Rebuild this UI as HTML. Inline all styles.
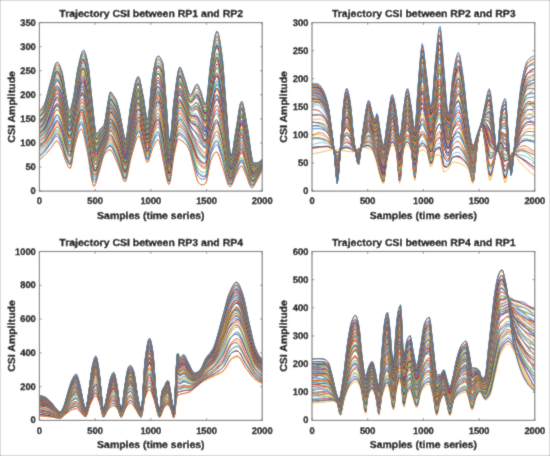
<!DOCTYPE html>
<html><head><meta charset="utf-8"><style>
html,body{margin:0;padding:0;background:#fff;overflow:hidden;}
svg{display:block;}
</style></head><body>
<svg width="550" height="456" viewBox="0 0 550 456" font-family="'Liberation Sans', Arial, sans-serif" font-weight="bold" fill="#000000" text-rendering="geometricPrecision" stroke="#000000" stroke-width="0.3">
<defs><filter id="bl" x="0" y="0" width="550" height="456" filterUnits="userSpaceOnUse"><feConvolveMatrix order="3" kernelMatrix="0.0192 0.1001 0.0192 0.1001 0.5228 0.1001 0.0192 0.1001 0.0192" edgeMode="duplicate"/></filter></defs>
<g filter="url(#bl)">
<rect width="550" height="456" fill="#fff"/>
<g fill="none" stroke-width="9.0" stroke-linejoin="round" transform="scale(0.1)">
<path d="M394 1600l12-9 12-11 12-11 12-11 12-12 12-13 12-14 12-15 12-14 12-15 12-17 12-18 12-17 12-11 12-1 12 12 12 24 12 28 12 29 12 35 12 41 12 35 12 25 11 23 12 17 12 4 12-41 12-75 12-77 12-53 12-42 12-40 12-34 12-24 12-8 12 16 12 40 12 54 12 59 12 55 12 70 12 81 12 82 12 68 12 43 12 4 12-24 12-41 12-46 12-40 12-43 12-45 12-42 12-31 12-17 12-13 12-11 12-7 12-2 12 7 12 18 12 24 12 26 12 26 12 28 12 31 12 31 12 33 12 38 11 34 12 21 12-3 12-35 12-56 12-64 12-58 12-43 12-43 12-44 12-41 12-35 12-24 12-11 12 13 12 40 12 47 12 42 12 50 12 46 12 26 12-9 12-35 12-44 12-36 12-26 12-27 12-24 12-19 12-9 12 13 12 50 12 68 12 64 12 57 12 64 12 63 12 49 12 23 12-21 12-73 12-94 12-85 12-59 12-58 12-46 12-17 11 3 12 6 12 8 12 8 12 10 12 12 12 14 12 20 12 25 12 30 12 45 12 53 12 50 12 48 12 49 12 37 12 18 12 13 12 7 12 1 12-3 12-4 12-9 12-43 12-65 12-67 12-51 12-27 12-24 12-20 12-13 12-4 12 14 12 29 12 36 12 37 12 33 12 39 12 44 12 42 12 38 12 26 12 12 12-7 12-22 12-29 11-32 12-27 12-24 12-25 12-23 12-16 12-5 12 16 12 29 12 32 12 28 12 32 12 34 12 29 12 18 12 0 12-16 12-23 12-23 12-22 12-23 12-25 12-27 12-29" stroke="#EDB120"/>
<path d="M394 1599l12-10 12-10 12-11 12-11 12-12 12-13 12-14 12-15 12-15 12-14 12-17 12-19 12-16 12-11 12-2 12 12 12 24 12 28 12 29 12 35 12 41 12 35 12 25 11 24 12 17 12 3 12-41 12-74 12-78 12-52 12-42 12-41 12-34 12-23 12-9 12 16 12 40 12 54 12 59 12 55 12 69 12 82 12 82 12 68 12 43 12 5 12-24 12-41 12-46 12-40 12-42 12-46 12-41 12-32 12-17 12-13 12-11 12-7 12-2 12 7 12 17 12 24 12 27 12 26 12 28 12 31 12 31 12 32 12 38 11 35 12 21 12-3 12-35 12-57 12-63 12-58 12-43 12-44 12-44 12-41 12-34 12-24 12-11 12 13 12 40 12 47 12 41 12 51 12 46 12 26 12-9 12-36 12-44 12-36 12-26 12-27 12-25 12-18 12-9 12 13 12 50 12 68 12 64 12 57 12 65 12 62 12 49 12 24 12-21 12-73 12-94 12-85 12-59 12-58 12-46 12-18 11 3 12 6 12 8 12 8 12 10 12 12 12 15 12 20 12 24 12 31 12 44 12 53 12 50 12 48 12 49 12 37 12 18 12 13 12 7 12 0 12-2 12-4 12-9 12-43 12-65 12-67 12-51 12-28 12-24 12-20 12-13 12-3 12 13 12 29 12 36 12 37 12 33 12 40 12 44 12 43 12 37 12 27 12 12 12-7 12-21 12-30 11-32 12-27 12-24 12-25 12-24 12-16 12-4 12 16 12 29 12 32 12 27 12 33 12 34 12 29 12 18 12 0 12-16 12-23 12-22 12-22 12-24 12-25 12-27 12-28" stroke="#D95319"/>
<path d="M394 1570l12-10 12-11 12-12 12-13 12-13 12-16 12-17 12-17 12-16 12-16 12-19 12-19 12-17 12-10 12-1 12 14 12 24 12 29 12 30 12 37 12 43 12 36 12 27 11 25 12 17 12 2 12-42 12-74 12-77 12-55 12-45 12-43 12-35 12-25 12-10 12 14 12 37 12 53 12 59 12 55 12 70 12 83 12 85 12 71 12 46 12 12 12-19 12-38 12-44 12-39 12-41 12-44 12-40 12-30 12-20 12-18 12-15 12-11 12-5 12 7 12 18 12 24 12 26 12 27 12 28 12 33 12 33 12 34 12 40 11 36 12 23 12-1 12-36 12-59 12-66 12-61 12-45 12-45 12-46 12-42 12-35 12-24 12-10 12 15 12 41 12 49 12 43 12 53 12 49 12 27 12-9 12-40 12-50 12-41 12-29 12-30 12-27 12-19 12-10 12 12 12 47 12 65 12 62 12 59 12 71 12 69 12 57 12 32 12-18 12-73 12-98 12-88 12-61 12-61 12-48 12-20 11 0 12 7 12 9 12 10 12 12 12 13 12 17 12 21 12 25 12 30 12 41 12 48 12 46 12 43 12 44 12 34 12 18 12 14 12 8 12 2 12 1 12-1 12-9 12-44 12-67 12-71 12-54 12-29 12-28 12-22 12-16 12-5 12 12 12 30 12 37 12 39 12 37 12 46 12 52 12 49 12 45 12 35 12 19 12-4 12-22 12-32 11-34 12-31 12-26 12-29 12-27 12-19 12-5 12 16 12 30 12 35 12 30 12 36 12 37 12 33 12 22 12 3 12-13 12-22 12-21 12-20 12-23 12-24 12-26 12-28" stroke="#0072BD"/>
<path d="M394 1555l12-9 12-10 12-12 12-12 12-14 12-16 12-17 12-18 12-18 12-17 12-20 12-21 12-19 12-11 12-2 12 13 12 24 12 29 12 30 12 39 12 45 12 39 12 28 11 28 12 18 12 2 12-42 12-73 12-77 12-55 12-48 12-44 12-37 12-27 12-14 12 10 12 34 12 50 12 56 12 54 12 68 12 84 12 86 12 74 12 50 12 17 12-13 12-34 12-42 12-37 12-40 12-41 12-39 12-29 12-20 12-18 12-15 12-13 12-6 12 7 12 17 12 23 12 26 12 24 12 28 12 31 12 32 12 34 12 40 11 36 12 25 12-1 12-36 12-60 12-68 12-61 12-44 12-46 12-45 12-42 12-35 12-24 12-10 12 16 12 41 12 48 12 44 12 52 12 50 12 28 12-10 12-43 12-54 12-43 12-30 12-31 12-27 12-19 12-9 12 13 12 48 12 64 12 62 12 61 12 75 12 72 12 60 12 35 12-16 12-74 12-98 12-90 12-62 12-61 12-50 12-22 11-1 12 6 12 8 12 9 12 12 12 13 12 17 12 21 12 25 12 28 12 39 12 45 12 42 12 41 12 42 12 34 12 18 12 16 12 10 12 5 12 3 12 0 12-7 12-45 12-68 12-73 12-55 12-31 12-29 12-24 12-16 12-5 12 13 12 30 12 40 12 41 12 38 12 50 12 54 12 52 12 48 12 38 12 21 12-2 12-23 12-33 11-36 12-31 12-28 12-31 12-28 12-20 12-6 12 16 12 30 12 35 12 31 12 36 12 39 12 34 12 24 12 5 12-12 12-21 12-20 12-20 12-21 12-24 12-25 12-27" stroke="#A2142F"/>
<path d="M394 1552l12-9 12-11 12-12 12-13 12-14 12-17 12-19 12-19 12-19 12-20 12-22 12-23 12-20 12-14 12-3 12 13 12 23 12 29 12 31 12 39 12 47 12 40 12 31 11 29 12 20 12 2 12-40 12-71 12-76 12-55 12-47 12-43 12-36 12-26 12-13 12 11 12 35 12 50 12 56 12 55 12 68 12 84 12 86 12 73 12 50 12 17 12-14 12-35 12-42 12-38 12-40 12-43 12-38 12-30 12-21 12-21 12-17 12-15 12-7 12 6 12 17 12 23 12 25 12 26 12 28 12 32 12 34 12 35 12 41 11 37 12 26 12 1 12-36 12-60 12-68 12-62 12-45 12-45 12-46 12-42 12-35 12-24 12-10 12 16 12 42 12 49 12 44 12 54 12 50 12 29 12-9 12-43 12-54 12-43 12-30 12-31 12-27 12-20 12-10 12 11 12 45 12 62 12 59 12 59 12 74 12 71 12 63 12 37 12-15 12-75 12-100 12-91 12-63 12-61 12-50 12-21 11 0 12 7 12 11 12 12 12 14 12 15 12 17 12 22 12 26 12 29 12 38 12 44 12 42 12 39 12 40 12 32 12 17 12 14 12 9 12 4 12 3 12 1 12-8 12-45 12-70 12-73 12-56 12-31 12-28 12-24 12-17 12-5 12 14 12 30 12 39 12 41 12 39 12 50 12 56 12 53 12 49 12 41 12 23 12-2 12-22 12-34 11-37 12-32 12-28 12-32 12-28 12-20 12-4 12 17 12 32 12 36 12 32 12 37 12 39 12 35 12 24 12 5 12-12 12-21 12-20 12-20 12-22 12-23 12-25 12-28" stroke="#4DBEEE"/>
<path d="M394 1530l12-8 12-10 12-11 12-13 12-15 12-17 12-20 12-20 12-19 12-19 12-23 12-23 12-19 12-13 12-2 12 14 12 24 12 31 12 31 12 40 12 47 12 41 12 31 11 29 12 19 12 0 12-41 12-73 12-76 12-58 12-50 12-46 12-38 12-28 12-15 12 9 12 32 12 49 12 56 12 55 12 69 12 85 12 88 12 75 12 53 12 20 12-9 12-33 12-41 12-37 12-39 12-41 12-37 12-29 12-23 12-22 12-19 12-16 12-8 12 8 12 19 12 24 12 27 12 26 12 29 12 33 12 34 12 36 12 41 11 37 12 27 12 0 12-37 12-61 12-70 12-63 12-46 12-46 12-47 12-42 12-35 12-24 12-9 12 16 12 42 12 49 12 44 12 54 12 51 12 28 12-11 12-48 12-61 12-48 12-34 12-34 12-30 12-21 12-9 12 13 12 45 12 63 12 61 12 64 12 81 12 78 12 69 12 42 12-13 12-75 12-101 12-92 12-64 12-63 12-51 12-24 11-3 12 6 12 10 12 12 12 15 12 15 12 19 12 23 12 26 12 29 12 37 12 43 12 39 12 37 12 39 12 30 12 17 12 14 12 9 12 5 12 3 12 1 12-9 12-47 12-72 12-76 12-59 12-33 12-31 12-25 12-18 12-6 12 14 12 31 12 40 12 43 12 41 12 54 12 60 12 58 12 53 12 46 12 27 12 1 12-22 12-36 11-38 12-34 12-29 12-32 12-30 12-19 12-4 12 18 12 34 12 38 12 33 12 38 12 40 12 37 12 25 12 7 12-12 12-20 12-20 12-20 12-21 12-23 12-25 12-26" stroke="#77AC30"/>
<path d="M394 1505l12-10 12-10 12-12 12-12 12-14 12-17 12-18 12-18 12-18 12-18 12-22 12-24 12-21 12-16 12-5 12 9 12 20 12 26 12 28 12 39 12 47 12 43 12 33 11 32 12 21 12 1 12-40 12-69 12-74 12-58 12-51 12-46 12-37 12-28 12-15 12 8 12 32 12 50 12 57 12 56 12 69 12 87 12 89 12 75 12 54 12 23 12-7 12-31 12-41 12-37 12-39 12-39 12-36 12-28 12-24 12-26 12-21 12-19 12-10 12 6 12 17 12 22 12 23 12 24 12 27 12 32 12 35 12 37 12 44 11 41 12 30 12 5 12-35 12-59 12-69 12-62 12-45 12-45 12-47 12-44 12-37 12-27 12-11 12 15 12 40 12 48 12 44 12 55 12 53 12 31 12-11 12-50 12-63 12-50 12-35 12-34 12-30 12-23 12-10 12 10 12 43 12 58 12 58 12 65 12 85 12 82 12 76 12 49 12-11 12-75 12-102 12-95 12-65 12-64 12-53 12-26 11-4 12 6 12 11 12 13 12 16 12 16 12 20 12 23 12 27 12 26 12 34 12 37 12 33 12 30 12 33 12 25 12 16 12 15 12 12 12 9 12 9 12 7 12-5 12-43 12-70 12-74 12-58 12-32 12-32 12-28 12-21 12-10 12 10 12 28 12 38 12 43 12 43 12 59 12 67 12 64 12 60 12 51 12 32 12 3 12-23 12-37 11-41 12-37 12-34 12-38 12-35 12-26 12-7 12 16 12 34 12 40 12 37 12 40 12 46 12 42 12 30 12 12 12-9 12-18 12-18 12-19 12-20 12-22 12-23 12-27" stroke="#7E2F8E"/>
<path d="M394 1485l12-9 12-10 12-11 12-11 12-14 12-16 12-19 12-18 12-18 12-18 12-22 12-22 12-20 12-14 12-3 12 12 12 22 12 28 12 29 12 40 12 47 12 42 12 31 11 31 12 18 12-1 12-43 12-71 12-75 12-60 12-52 12-47 12-37 12-28 12-14 12 9 12 33 12 51 12 58 12 56 12 69 12 86 12 89 12 75 12 54 12 24 12-5 12-30 12-41 12-36 12-38 12-39 12-34 12-27 12-24 12-25 12-21 12-19 12-9 12 8 12 18 12 22 12 23 12 23 12 26 12 31 12 33 12 36 12 42 11 38 12 30 12 4 12-37 12-62 12-70 12-64 12-45 12-44 12-45 12-42 12-34 12-23 12-8 12 17 12 43 12 49 12 45 12 55 12 52 12 29 12-11 12-53 12-67 12-54 12-38 12-38 12-33 12-24 12-12 12 11 12 41 12 59 12 58 12 68 12 91 12 86 12 80 12 53 12-9 12-74 12-102 12-94 12-65 12-65 12-55 12-29 11-8 12 2 12 7 12 10 12 13 12 15 12 20 12 24 12 28 12 28 12 35 12 39 12 37 12 37 12 39 12 32 12 20 12 17 12 11 12 7 12 5 12 2 12-10 12-50 12-77 12-81 12-64 12-37 12-35 12-29 12-19 12-7 12 15 12 33 12 44 12 46 12 46 12 61 12 69 12 64 12 60 12 53 12 34 12 3 12-23 12-37 11-43 12-37 12-34 12-38 12-35 12-26 12-7 12 17 12 34 12 39 12 38 12 41 12 46 12 43 12 32 12 13 12-7 12-18 12-17 12-18 12-20 12-22 12-24 12-27" stroke="#EDB120"/>
<path d="M394 1481l12-8 12-11 12-12 12-13 12-15 12-20 12-21 12-21 12-20 12-20 12-24 12-24 12-21 12-14 12-2 12 12 12 23 12 29 12 30 12 42 12 49 12 45 12 34 11 33 12 20 12 0 12-41 12-69 12-75 12-59 12-53 12-47 12-39 12-30 12-18 12 5 12 28 12 45 12 53 12 53 12 67 12 86 12 90 12 78 12 59 12 30 12 1 12-27 12-38 12-36 12-37 12-37 12-34 12-27 12-26 12-29 12-24 12-22 12-12 12 7 12 18 12 23 12 25 12 25 12 29 12 34 12 36 12 39 12 44 11 40 12 30 12 4 12-36 12-63 12-72 12-66 12-47 12-47 12-47 12-44 12-36 12-25 12-9 12 17 12 42 12 50 12 45 12 56 12 53 12 31 12-11 12-55 12-69 12-53 12-37 12-35 12-30 12-22 12-9 12 12 12 42 12 57 12 56 12 65 12 87 12 83 12 79 12 53 12-8 12-77 12-107 12-97 12-67 12-65 12-53 12-26 11-3 12 9 12 13 12 16 12 17 12 18 12 20 12 24 12 27 12 25 12 31 12 35 12 31 12 29 12 32 12 28 12 18 12 17 12 14 12 10 12 10 12 6 12-6 12-48 12-76 12-81 12-65 12-40 12-39 12-35 12-27 12-13 12 10 12 29 12 42 12 47 12 49 12 68 12 76 12 70 12 68 12 59 12 38 12 6 12-23 12-37 11-42 12-38 12-35 12-38 12-37 12-25 12-8 12 17 12 34 12 40 12 38 12 41 12 47 12 44 12 33 12 13 12-7 12-18 12-18 12-17 12-20 12-21 12-24 12-26" stroke="#D95319"/>
<path d="M394 1471l12-10 12-13 12-14 12-15 12-18 12-22 12-25 12-24 12-23 12-22 12-25 12-25 12-20 12-12 12 0 12 16 12 27 12 34 12 34 12 45 12 53 12 46 12 36 11 33 12 20 12-2 12-43 12-72 12-76 12-63 12-57 12-51 12-42 12-32 12-19 12 3 12 27 12 46 12 56 12 57 12 70 12 89 12 95 12 81 12 61 12 32 12 2 12-27 12-38 12-36 12-38 12-38 12-34 12-28 12-28 12-32 12-26 12-25 12-14 12 8 12 19 12 24 12 26 12 26 12 31 12 36 12 37 12 41 12 45 11 41 12 31 12 5 12-37 12-64 12-73 12-67 12-49 12-49 12-49 12-46 12-38 12-26 12-11 12 16 12 42 12 49 12 45 12 58 12 55 12 32 12-11 12-57 12-71 12-54 12-35 12-33 12-28 12-18 12-6 12 15 12 45 12 59 12 57 12 65 12 87 12 83 12 79 12 53 12-10 12-78 12-109 12-101 12-69 12-68 12-56 12-30 11-6 12 7 12 14 12 16 12 18 12 18 12 22 12 26 12 27 12 26 12 30 12 33 12 29 12 28 12 31 12 26 12 18 12 19 12 14 12 11 12 11 12 6 12-6 12-49 12-77 12-83 12-65 12-39 12-37 12-33 12-22 12-8 12 14 12 34 12 46 12 50 12 50 12 68 12 75 12 69 12 66 12 57 12 37 12 5 12-24 12-41 11-46 12-42 12-38 12-42 12-40 12-28 12-8 12 19 12 37 12 44 12 40 12 44 12 50 12 47 12 35 12 16 12-6 12-17 12-17 12-17 12-19 12-21 12-23 12-25" stroke="#0072BD"/>
<path d="M394 1459l12-8 12-10 12-11 12-12 12-14 12-18 12-19 12-20 12-19 12-20 12-24 12-25 12-23 12-17 12-6 12 8 12 19 12 25 12 26 12 40 12 49 12 46 12 36 11 35 12 22 12 1 12-39 12-66 12-72 12-58 12-52 12-47 12-38 12-29 12-18 12 4 12 27 12 43 12 53 12 53 12 66 12 86 12 92 12 79 12 61 12 33 12 3 12-25 12-38 12-35 12-37 12-37 12-34 12-27 12-28 12-32 12-27 12-25 12-14 12 7 12 19 12 24 12 27 12 26 12 31 12 36 12 37 12 41 12 44 11 40 12 31 12 3 12-38 12-66 12-76 12-69 12-50 12-50 12-48 12-44 12-36 12-23 12-6 12 21 12 45 12 53 12 47 12 59 12 55 12 32 12-12 12-58 12-74 12-58 12-41 12-40 12-34 12-25 12-9 12 12 12 43 12 59 12 60 12 72 12 95 12 90 12 84 12 56 12-8 12-77 12-108 12-101 12-71 12-71 12-60 12-35 11-11 12 2 12 11 12 15 12 19 12 20 12 26 12 29 12 31 12 31 12 34 12 38 12 35 12 33 12 35 12 28 12 18 12 14 12 9 12 6 12 5 12 2 12-12 12-53 12-82 12-86 12-67 12-41 12-37 12-32 12-21 12-6 12 16 12 35 12 47 12 50 12 50 12 68 12 76 12 70 12 67 12 61 12 40 12 6 12-23 12-40 11-44 12-40 12-35 12-39 12-36 12-25 12-6 12 19 12 35 12 41 12 38 12 40 12 47 12 44 12 33 12 15 12-7 12-17 12-17 12-16 12-18 12-21 12-22 12-25" stroke="#A2142F"/>
<path d="M394 1443l12-6 12-8 12-11 12-13 12-17 12-21 12-24 12-26 12-23 12-25 12-27 12-28 12-23 12-15 12-3 12 13 12 24 12 29 12 30 12 41 12 51 12 44 12 35 11 33 12 20 12-5 12-42 12-67 12-73 12-61 12-54 12-47 12-36 12-28 12-15 12 6 12 28 12 45 12 53 12 53 12 64 12 85 12 91 12 78 12 63 12 38 12 8 12-22 12-35 12-32 12-35 12-35 12-32 12-26 12-29 12-35 12-31 12-30 12-19 12 3 12 16 12 20 12 24 12 25 12 31 12 37 12 40 12 45 12 49 11 43 12 35 12 7 12-37 12-66 12-77 12-71 12-51 12-50 12-51 12-45 12-37 12-24 12-6 12 21 12 47 12 53 12 49 12 60 12 57 12 33 12-12 12-61 12-77 12-61 12-42 12-41 12-35 12-25 12-10 12 11 12 40 12 54 12 54 12 68 12 96 12 90 12 89 12 63 12-5 12-79 12-111 12-103 12-70 12-67 12-55 12-28 11-3 12 11 12 17 12 20 12 21 12 19 12 22 12 25 12 25 12 22 12 25 12 25 12 22 12 21 12 24 12 23 12 18 12 20 12 17 12 16 12 15 12 10 12-6 12-51 12-81 12-89 12-71 12-45 12-44 12-38 12-27 12-10 12 15 12 38 12 52 12 57 12 58 12 77 12 84 12 76 12 72 12 63 12 42 12 7 12-25 12-42 11-49 12-44 12-39 12-44 12-40 12-28 12-6 12 20 12 39 12 44 12 41 12 44 12 49 12 47 12 37 12 17 12-5 12-16 12-16 12-16 12-17 12-19 12-22 12-24" stroke="#4DBEEE"/>
<path d="M394 1451l12-9 12-12 12-15 12-16 12-20 12-24 12-28 12-28 12-26 12-26 12-29 12-29 12-25 12-15 12-2 12 14 12 25 12 33 12 34 12 47 12 56 12 51 12 39 11 38 12 23 12-1 12-41 12-67 12-74 12-63 12-56 12-52 12-41 12-33 12-21 12 0 12 24 12 42 12 52 12 55 12 67 12 90 12 95 12 83 12 65 12 40 12 8 12-23 12-35 12-34 12-37 12-36 12-32 12-27 12-31 12-36 12-31 12-31 12-18 12 5 12 17 12 22 12 23 12 26 12 31 12 37 12 39 12 44 12 49 11 44 12 36 12 7 12-35 12-64 12-75 12-68 12-48 12-49 12-50 12-45 12-38 12-26 12-10 12 18 12 43 12 50 12 46 12 59 12 56 12 33 12-12 12-61 12-78 12-59 12-40 12-38 12-33 12-23 12-9 12 11 12 39 12 53 12 53 12 68 12 96 12 91 12 89 12 64 12-4 12-79 12-111 12-104 12-70 12-69 12-57 12-31 11-6 12 9 12 16 12 20 12 21 12 22 12 25 12 28 12 29 12 26 12 29 12 31 12 26 12 24 12 26 12 21 12 14 12 14 12 10 12 9 12 9 12 6 12-9 12-54 12-82 12-89 12-69 12-42 12-40 12-34 12-22 12-7 12 16 12 38 12 49 12 54 12 54 12 75 12 83 12 76 12 73 12 66 12 44 12 9 12-24 12-42 11-48 12-43 12-38 12-44 12-39 12-28 12-6 12 20 12 39 12 45 12 42 12 44 12 50 12 48 12 36 12 17 12-5 12-17 12-16 12-17 12-18 12-21 12-22 12-24" stroke="#77AC30"/>
<path d="M394 1412l12-6 12-8 12-10 12-12 12-16 12-20 12-23 12-23 12-22 12-23 12-26 12-27 12-24 12-16 12-4 12 11 12 22 12 28 12 29 12 43 12 53 12 47 12 38 11 36 12 22 12-4 12-41 12-67 12-73 12-64 12-58 12-52 12-41 12-34 12-22 12-1 12 21 12 40 12 51 12 53 12 65 12 88 12 96 12 84 12 68 12 45 12 14 12-19 12-34 12-32 12-34 12-33 12-29 12-26 12-30 12-36 12-31 12-31 12-17 12 6 12 18 12 21 12 23 12 23 12 29 12 34 12 37 12 42 12 47 11 42 12 36 12 7 12-37 12-67 12-78 12-69 12-49 12-47 12-47 12-43 12-34 12-21 12-5 12 22 12 47 12 53 12 49 12 60 12 57 12 33 12-13 12-63 12-81 12-65 12-45 12-44 12-40 12-30 12-14 12 6 12 34 12 47 12 49 12 70 12 102 12 99 12 99 12 73 12 0 12-77 12-113 12-104 12-70 12-70 12-58 12-33 11-8 12 7 12 15 12 19 12 21 12 20 12 25 12 28 12 28 12 25 12 26 12 27 12 23 12 23 12 27 12 25 12 19 12 21 12 17 12 15 12 15 12 9 12-7 12-52 12-82 12-89 12-72 12-46 12-45 12-40 12-30 12-15 12 10 12 33 12 46 12 52 12 56 12 80 12 89 12 82 12 81 12 74 12 50 12 11 12-23 12-41 11-49 12-43 12-39 12-45 12-43 12-30 12-10 12 17 12 36 12 42 12 40 12 43 12 50 12 51 12 40 12 21 12-3 12-14 12-14 12-14 12-16 12-18 12-20 12-23" stroke="#7E2F8E"/>
<path d="M394 1413l12-7 12-11 12-13 12-14 12-20 12-25 12-29 12-29 12-28 12-28 12-32 12-31 12-26 12-17 12-3 12 14 12 26 12 33 12 35 12 49 12 59 12 53 12 41 11 39 12 23 12-3 12-43 12-67 12-75 12-66 12-61 12-55 12-42 12-36 12-22 12-2 12 22 12 42 12 53 12 56 12 68 12 90 12 98 12 84 12 68 12 45 12 14 12-20 12-34 12-33 12-34 12-33 12-29 12-24 12-32 12-38 12-31 12-30 12-17 12 8 12 20 12 22 12 24 12 24 12 28 12 35 12 36 12 40 12 46 11 42 12 35 12 8 12-38 12-69 12-79 12-71 12-50 12-49 12-48 12-45 12-36 12-24 12-6 12 21 12 45 12 52 12 48 12 61 12 58 12 35 12-12 12-65 12-84 12-63 12-41 12-39 12-34 12-23 12-9 12 12 12 37 12 50 12 50 12 68 12 99 12 95 12 97 12 71 12-2 12-80 12-115 12-107 12-72 12-71 12-59 12-34 11-9 12 9 12 16 12 20 12 22 12 21 12 25 12 28 12 28 12 24 12 23 12 24 12 21 12 20 12 24 12 23 12 20 12 21 12 18 12 16 12 16 12 10 12-7 12-54 12-85 12-93 12-75 12-50 12-47 12-43 12-31 12-14 12 12 12 35 12 50 12 57 12 60 12 85 12 94 12 85 12 83 12 76 12 52 12 13 12-24 12-44 11-51 12-46 12-41 12-47 12-43 12-31 12-7 12 20 12 40 12 46 12 44 12 45 12 53 12 51 12 41 12 21 12-3 12-15 12-15 12-15 12-16 12-19 12-20 12-23" stroke="#EDB120"/>
<path d="M394 1401l12-5 12-9 12-10 12-12 12-17 12-23 12-26 12-28 12-26 12-28 12-33 12-34 12-29 12-21 12-7 12 9 12 22 12 30 12 33 12 48 12 61 12 54 12 45 11 42 12 25 12-1 12-40 12-66 12-73 12-65 12-62 12-55 12-44 12-38 12-25 12-6 12 19 12 38 12 51 12 55 12 68 12 93 12 101 12 88 12 73 12 50 12 17 12-17 12-33 12-32 12-34 12-34 12-30 12-26 12-32 12-41 12-35 12-34 12-21 12 5 12 17 12 21 12 23 12 24 12 30 12 36 12 39 12 45 12 49 11 44 12 38 12 9 12-37 12-67 12-79 12-71 12-50 12-49 12-50 12-44 12-37 12-24 12-6 12 21 12 45 12 52 12 47 12 61 12 58 12 34 12-14 12-69 12-89 12-69 12-45 12-44 12-37 12-25 12-8 12 14 12 40 12 54 12 57 12 77 12 107 12 101 12 99 12 72 12-2 12-79 12-115 12-109 12-75 12-75 12-65 12-40 11-14 12 4 12 14 12 20 12 23 12 23 12 28 12 32 12 32 12 26 12 26 12 26 12 21 12 20 12 23 12 20 12 17 12 17 12 14 12 14 12 16 12 10 12-6 12-52 12-83 12-90 12-71 12-44 12-44 12-39 12-30 12-15 12 9 12 31 12 45 12 51 12 55 12 82 12 94 12 87 12 86 12 80 12 56 12 15 12-23 12-42 11-50 12-44 12-42 12-47 12-45 12-34 12-11 12 16 12 36 12 45 12 43 12 46 12 55 12 55 12 44 12 25 12 0 12-13 12-13 12-14 12-16 12-18 12-21 12-24" stroke="#D95319"/>
<path d="M394 1381l12-6 12-10 12-12 12-13 12-19 12-25 12-29 12-29 12-28 12-30 12-34 12-33 12-29 12-19 12-4 12 13 12 26 12 34 12 37 12 52 12 62 12 56 12 45 11 41 12 24 12-5 12-44 12-68 12-76 12-70 12-66 12-58 12-45 12-38 12-26 12-4 12 20 12 40 12 53 12 57 12 68 12 92 12 100 12 86 12 71 12 51 12 21 12-16 12-32 12-31 12-32 12-30 12-26 12-23 12-32 12-40 12-34 12-34 12-21 12 5 12 16 12 18 12 20 12 21 12 27 12 34 12 39 12 46 12 51 11 48 12 42 12 12 12-34 12-66 12-78 12-71 12-51 12-52 12-53 12-50 12-41 12-29 12-11 12 19 12 45 12 52 12 51 12 65 12 63 12 38 12-11 12-68 12-88 12-68 12-46 12-46 12-41 12-30 12-14 12 7 12 32 12 47 12 51 12 78 12 115 12 108 12 110 12 81 12 4 12-78 12-115 12-109 12-76 12-76 12-67 12-42 11-17 12 3 12 14 12 21 12 25 12 25 12 32 12 34 12 34 12 27 12 26 12 25 12 19 12 16 12 17 12 15 12 10 12 13 12 11 12 13 12 16 12 12 12-5 12-52 12-84 12-91 12-72 12-45 12-46 12-42 12-34 12-18 12 6 12 29 12 45 12 53 12 60 12 91 12 104 12 95 12 95 12 87 12 61 12 17 12-23 12-43 11-51 12-48 12-45 12-52 12-51 12-37 12-14 12 17 12 39 12 48 12 48 12 50 12 60 12 58 12 47 12 26 12 0 12-13 12-14 12-14 12-16 12-19 12-21 12-23" stroke="#0072BD"/>
<path d="M394 1369l12-9 12-12 12-14 12-15 12-21 12-25 12-29 12-28 12-26 12-26 12-30 12-30 12-26 12-18 12-5 12 10 12 21 12 27 12 30 12 45 12 58 12 54 12 44 11 43 12 26 12-3 12-40 12-62 12-70 12-66 12-63 12-56 12-43 12-38 12-27 12-8 12 16 12 36 12 50 12 56 12 68 12 95 12 105 12 92 12 77 12 55 12 24 12-16 12-32 12-33 12-35 12-33 12-29 12-26 12-38 12-48 12-40 12-40 12-22 12 7 12 22 12 25 12 28 12 28 12 34 12 40 12 41 12 46 12 49 11 43 12 37 12 8 12-40 12-73 12-85 12-76 12-54 12-52 12-51 12-45 12-36 12-22 12-4 12 24 12 48 12 55 12 50 12 64 12 61 12 36 12-13 12-73 12-94 12-71 12-47 12-45 12-38 12-27 12-10 12 10 12 34 12 47 12 47 12 74 12 110 12 106 12 110 12 83 12 4 12-80 12-117 12-110 12-74 12-72 12-62 12-37 11-11 12 6 12 16 12 21 12 21 12 21 12 26 12 29 12 28 12 22 12 18 12 17 12 13 12 13 12 18 12 19 12 18 12 21 12 19 12 18 12 21 12 13 12-5 12-54 12-87 12-94 12-74 12-46 12-45 12-38 12-28 12-11 12 14 12 35 12 48 12 52 12 57 12 84 12 96 12 87 12 90 12 87 12 62 12 18 12-25 12-46 11-53 12-48 12-42 12-48 12-44 12-30 12-7 12 20 12 40 12 46 12 44 12 45 12 54 12 55 12 46 12 27 12 0 12-12 12-11 12-12 12-14 12-16 12-19 12-22" stroke="#A2142F"/>
<path d="M394 1364l12-8 12-11 12-13 12-13 12-18 12-24 12-28 12-28 12-26 12-28 12-34 12-34 12-32 12-23 12-9 12 8 12 20 12 28 12 33 12 51 12 64 12 60 12 49 11 48 12 29 12-1 12-38 12-64 12-72 12-69 12-66 12-60 12-49 12-42 12-31 12-11 12 14 12 37 12 52 12 59 12 73 12 99 12 108 12 94 12 78 12 55 12 23 12-17 12-33 12-34 12-35 12-33 12-29 12-26 12-36 12-46 12-39 12-37 12-21 12 9 12 20 12 24 12 24 12 25 12 30 12 35 12 38 12 43 12 47 11 44 12 39 12 10 12-38 12-70 12-81 12-73 12-49 12-49 12-49 12-44 12-37 12-25 12-8 12 19 12 44 12 50 12 48 12 62 12 61 12 38 12-12 12-71 12-90 12-66 12-40 12-38 12-32 12-22 12-9 12 9 12 31 12 42 12 42 12 65 12 104 12 101 12 108 12 84 12 5 12-80 12-117 12-108 12-70 12-69 12-59 12-34 11-9 12 7 12 15 12 18 12 19 12 17 12 23 12 27 12 25 12 21 12 17 12 17 12 15 12 15 12 22 12 24 12 23 12 24 12 20 12 19 12 18 12 11 12-9 12-59 12-92 12-100 12-80 12-51 12-48 12-40 12-28 12-8 12 19 12 41 12 54 12 58 12 61 12 87 12 97 12 87 12 89 12 85 12 61 12 17 12-26 12-46 11-54 12-48 12-41 12-47 12-43 12-29 12-5 12 22 12 39 12 47 12 42 12 44 12 53 12 54 12 44 12 26 12 0 12-12 12-12 12-12 12-13 12-16 12-19 12-21" stroke="#4DBEEE"/>
<path d="M394 1368l12-9 12-12 12-15 12-17 12-22 12-28 12-31 12-31 12-28 12-28 12-31 12-31 12-24 12-16 12-1 12 15 12 25 12 32 12 33 12 48 12 59 12 52 12 42 11 40 12 23 12-7 12-44 12-65 12-73 12-69 12-65 12-55 12-43 12-36 12-24 12-5 12 19 12 39 12 51 12 55 12 66 12 91 12 100 12 88 12 74 12 55 12 25 12-14 12-30 12-31 12-31 12-30 12-25 12-23 12-34 12-44 12-36 12-35 12-20 12 7 12 20 12 22 12 22 12 23 12 28 12 35 12 37 12 43 12 47 11 43 12 39 12 9 12-39 12-72 12-84 12-75 12-52 12-50 12-49 12-45 12-35 12-21 12-4 12 24 12 48 12 54 12 50 12 63 12 61 12 36 12-14 12-75 12-96 12-74 12-48 12-46 12-39 12-27 12-9 12 12 12 36 12 48 12 51 12 77 12 113 12 108 12 110 12 83 12 3 12-81 12-119 12-112 12-76 12-75 12-65 12-40 11-14 12 6 12 17 12 23 12 24 12 24 12 28 12 32 12 30 12 22 12 20 12 17 12 13 12 12 12 16 12 16 12 16 12 20 12 16 12 18 12 20 12 13 12-6 12-56 12-89 12-97 12-77 12-50 12-47 12-42 12-30 12-12 12 16 12 39 12 54 12 60 12 64 12 92 12 103 12 92 12 91 12 86 12 61 12 16 12-26 12-47 11-56 12-52 12-47 12-53 12-50 12-36 12-9 12 20 12 42 12 51 12 48 12 50 12 59 12 59 12 49 12 27 12 1 12-12 12-13 12-13 12-15 12-17 12-19 12-22" stroke="#77AC30"/>
<path d="M394 1343l12-7 12-11 12-14 12-14 12-20 12-25 12-29 12-28 12-26 12-26 12-30 12-30 12-26 12-18 12-4 12 10 12 21 12 27 12 29 12 45 12 57 12 53 12 43 11 42 12 24 12-6 12-40 12-62 12-69 12-66 12-63 12-53 12-40 12-35 12-23 12-5 12 17 12 37 12 48 12 51 12 62 12 88 12 99 12 86 12 75 12 58 12 29 12-12 12-28 12-29 12-30 12-28 12-24 12-22 12-34 12-45 12-37 12-38 12-23 12 5 12 16 12 19 12 19 12 21 12 27 12 34 12 37 12 45 12 50 11 47 12 42 12 13 12-36 12-70 12-81 12-72 12-49 12-48 12-48 12-44 12-36 12-24 12-7 12 21 12 45 12 50 12 47 12 61 12 60 12 35 12-16 12-79 12-101 12-76 12-48 12-45 12-35 12-22 12-4 12 16 12 39 12 52 12 53 12 78 12 113 12 106 12 109 12 82 12 3 12-84 12-123 12-116 12-81 12-78 12-69 12-43 11-14 12 7 12 20 12 26 12 29 12 27 12 32 12 35 12 32 12 24 12 20 12 16 12 12 12 10 12 12 12 13 12 14 12 17 12 15 12 17 12 20 12 15 12-5 12-55 12-88 12-94 12-75 12-46 12-46 12-39 12-29 12-12 12 13 12 35 12 49 12 54 12 59 12 89 12 101 12 92 12 94 12 91 12 66 12 19 12-25 12-48 11-57 12-50 12-45 12-51 12-47 12-31 12-6 12 24 12 43 12 50 12 48 12 49 12 57 12 57 12 46 12 27 12 0 12-12 12-13 12-13 12-14 12-16 12-19 12-21" stroke="#7E2F8E"/>
<path d="M394 1345l12-7 12-11 12-15 12-16 12-24 12-30 12-34 12-35 12-33 12-33 12-37 12-35 12-30 12-19 12-3 12 13 12 26 12 34 12 36 12 52 12 65 12 60 12 48 11 45 12 27 12-4 12-41 12-62 12-71 12-68 12-66 12-56 12-44 12-38 12-28 12-8 12 14 12 34 12 47 12 52 12 63 12 90 12 101 12 89 12 78 12 62 12 31 12-10 12-28 12-29 12-29 12-28 12-23 12-22 12-35 12-46 12-39 12-39 12-23 12 6 12 17 12 19 12 20 12 21 12 26 12 34 12 37 12 44 12 49 11 45 12 41 12 12 12-39 12-73 12-85 12-75 12-52 12-50 12-49 12-44 12-34 12-21 12-3 12 26 12 49 12 56 12 52 12 65 12 63 12 38 12-14 12-77 12-99 12-76 12-50 12-49 12-42 12-30 12-12 12 8 12 29 12 43 12 45 12 76 12 118 12 113 12 119 12 92 12 8 12-80 12-119 12-111 12-74 12-73 12-63 12-39 11-12 12 7 12 16 12 21 12 23 12 20 12 25 12 28 12 26 12 17 12 12 12 9 12 4 12 4 12 11 12 15 12 20 12 26 12 24 12 27 12 28 12 20 12-1 12-53 12-88 12-96 12-79 12-52 12-52 12-47 12-37 12-18 12 8 12 34 12 51 12 58 12 66 12 97 12 110 12 100 12 100 12 95 12 68 12 20 12-25 12-48 11-58 12-52 12-48 12-54 12-51 12-35 12-9 12 22 12 43 12 52 12 50 12 51 12 60 12 61 12 50 12 29 12 1 12-11 12-12 12-13 12-14 12-17 12-19 12-21" stroke="#EDB120"/>
<path d="M394 1336l12-8 12-12 12-16 12-18 12-23 12-31 12-34 12-34 12-30 12-30 12-32 12-30 12-24 12-13 12 2 12 18 12 28 12 34 12 35 12 49 12 60 12 52 12 42 11 39 12 20 12-12 12-47 12-67 12-74 12-73 12-70 12-59 12-43 12-37 12-25 12-4 12 19 12 41 12 56 12 59 12 71 12 97 12 105 12 91 12 79 12 60 12 29 12-13 12-29 12-31 12-32 12-30 12-26 12-24 12-38 12-51 12-44 12-45 12-28 12 3 12 16 12 18 12 21 12 23 12 31 12 39 12 44 12 50 12 56 11 51 12 46 12 15 12-35 12-70 12-82 12-75 12-53 12-53 12-54 12-50 12-41 12-28 12-9 12 20 12 46 12 53 12 51 12 67 12 65 12 40 12-12 12-77 12-98 12-74 12-48 12-47 12-40 12-29 12-12 12 7 12 29 12 40 12 44 12 75 12 119 12 114 12 121 12 95 12 9 12-79 12-120 12-112 12-75 12-74 12-65 12-42 11-16 12 4 12 15 12 20 12 22 12 21 12 27 12 31 12 29 12 21 12 16 12 13 12 10 12 10 12 16 12 20 12 21 12 25 12 21 12 21 12 23 12 14 12-6 12-59 12-93 12-102 12-83 12-54 12-53 12-46 12-34 12-14 12 13 12 39 12 54 12 60 12 67 12 97 12 109 12 98 12 100 12 95 12 69 12 21 12-26 12-48 11-58 12-51 12-47 12-53 12-49 12-35 12-8 12 21 12 41 12 50 12 46 12 48 12 58 12 59 12 50 12 31 12 2 12-10 12-11 12-10 12-12 12-15 12-17 12-20" stroke="#D95319"/>
<path d="M394 1335l12-5 12-9 12-13 12-16 12-22 12-30 12-35 12-35 12-33 12-33 12-36 12-35 12-29 12-19 12-4 12 13 12 23 12 30 12 32 12 48 12 61 12 56 12 45 11 44 12 25 12-7 12-40 12-60 12-68 12-67 12-63 12-53 12-41 12-35 12-26 12-8 12 13 12 31 12 42 12 47 12 58 12 86 12 99 12 89 12 81 12 68 12 38 12-6 12-24 12-26 12-27 12-25 12-22 12-21 12-37 12-48 12-42 12-44 12-27 12 3 12 16 12 19 12 20 12 23 12 31 12 39 12 42 12 49 12 53 11 48 12 42 12 13 12-40 12-75 12-88 12-80 12-57 12-55 12-54 12-48 12-37 12-22 12-1 12 28 12 52 12 59 12 54 12 68 12 64 12 39 12-15 12-81 12-105 12-82 12-56 12-54 12-46 12-31 12-11 12 10 12 33 12 47 12 51 12 84 12 125 12 118 12 122 12 93 12 7 12-82 12-123 12-116 12-80 12-78 12-69 12-43 11-16 12 8 12 19 12 26 12 28 12 26 12 30 12 33 12 29 12 20 12 13 12 9 12 4 12 2 12 8 12 13 12 18 12 24 12 23 12 27 12 29 12 21 12-1 12-54 12-89 12-99 12-83 12-56 12-59 12-54 12-44 12-24 12 5 12 32 12 52 12 62 12 71 12 107 12 119 12 106 12 107 12 100 12 72 12 21 12-25 12-49 11-59 12-55 12-51 12-58 12-54 12-38 12-10 12 22 12 45 12 55 12 52 12 54 12 62 12 63 12 52 12 30 12 2 12-12 12-11 12-13 12-14 12-15 12-19 12-21" stroke="#0072BD"/>
<path d="M394 1322l12-5 12-9 12-12 12-14 12-21 12-28 12-33 12-33 12-32 12-33 12-37 12-38 12-32 12-22 12-7 12 10 12 24 12 31 12 35 12 53 12 68 12 61 12 51 11 48 12 28 12-3 12-41 12-62 12-71 12-71 12-69 12-60 12-49 12-43 12-33 12-14 12 8 12 31 12 45 12 52 12 65 12 95 12 107 12 95 12 84 12 70 12 36 12-6 12-27 12-28 12-29 12-27 12-23 12-22 12-37 12-49 12-41 12-41 12-24 12 7 12 20 12 21 12 22 12 23 12 29 12 36 12 38 12 44 12 49 11 44 12 40 12 11 12-42 12-76 12-89 12-79 12-55 12-52 12-50 12-45 12-34 12-20 12 0 12 28 12 52 12 57 12 54 12 67 12 64 12 38 12-14 12-80 12-102 12-79 12-53 12-50 12-43 12-30 12-11 12 9 12 30 12 43 12 45 12 78 12 121 12 114 12 121 12 94 12 9 12-82 12-124 12-116 12-78 12-77 12-67 12-42 11-14 12 8 12 20 12 25 12 27 12 24 12 30 12 31 12 29 12 19 12 12 12 7 12 3 12 2 12 8 12 13 12 18 12 25 12 24 12 27 12 30 12 22 12 1 12-51 12-87 12-94 12-77 12-51 12-51 12-48 12-38 12-21 12 5 12 29 12 46 12 54 12 61 12 97 12 111 12 101 12 104 12 101 12 74 12 23 12-26 12-50 11-59 12-55 12-49 12-57 12-52 12-36 12-9 12 23 12 46 12 54 12 53 12 53 12 64 12 63 12 53 12 31 12 3 12-10 12-12 12-12 12-14 12-16 12-19 12-21" stroke="#A2142F"/>
<path d="M394 1311l12-6 12-11 12-14 12-16 12-22 12-30 12-33 12-34 12-32 12-33 12-37 12-37 12-32 12-22 12-8 12 10 12 21 12 29 12 32 12 51 12 67 12 61 12 51 11 50 12 29 12-4 12-39 12-59 12-67 12-70 12-67 12-58 12-46 12-41 12-31 12-15 12 8 12 28 12 43 12 50 12 62 12 93 12 106 12 95 12 87 12 73 12 41 12-4 12-24 12-27 12-28 12-25 12-23 12-22 12-38 12-52 12-45 12-46 12-30 12 2 12 16 12 18 12 19 12 22 12 30 12 38 12 43 12 49 12 55 11 49 12 46 12 15 12-38 12-74 12-87 12-78 12-56 12-54 12-54 12-50 12-39 12-25 12-5 12 25 12 49 12 56 12 54 12 69 12 67 12 41 12-13 12-80 12-104 12-79 12-51 12-50 12-42 12-31 12-12 12 7 12 27 12 40 12 42 12 78 12 123 12 118 12 127 12 100 12 11 12-81 12-123 12-116 12-77 12-77 12-66 12-43 11-15 12 7 12 18 12 24 12 25 12 24 12 29 12 32 12 29 12 19 12 11 12 7 12 2 12 2 12 8 12 12 12 18 12 24 12 22 12 25 12 28 12 19 12-2 12-57 12-92 12-101 12-82 12-54 12-54 12-48 12-36 12-18 12 10 12 36 12 52 12 59 12 67 12 102 12 115 12 104 12 107 12 104 12 76 12 24 12-26 12-50 11-60 12-54 12-49 12-56 12-52 12-35 12-8 12 23 12 44 12 53 12 51 12 51 12 61 12 63 12 52 12 32 12 4 12-10 12-10 12-11 12-13 12-14 12-17 12-21" stroke="#4DBEEE"/>
<path d="M394 1305l12-7 12-13 12-16 12-19 12-26 12-34 12-38 12-38 12-34 12-34 12-37 12-33 12-27 12-15 12 2 12 18 12 30 12 36 12 37 12 53 12 65 12 57 12 46 11 44 12 23 12-10 12-45 12-63 12-71 12-74 12-70 12-59 12-44 12-39 12-28 12-9 12 13 12 34 12 48 12 54 12 64 12 93 12 104 12 92 12 83 12 70 12 38 12-6 12-26 12-28 12-28 12-26 12-22 12-21 12-40 12-53 12-46 12-46 12-28 12 6 12 19 12 20 12 21 12 23 12 30 12 38 12 41 12 48 12 52 11 47 12 44 12 14 12-40 12-76 12-89 12-79 12-54 12-52 12-51 12-44 12-35 12-20 12-1 12 27 12 51 12 56 12 52 12 66 12 64 12 38 12-16 12-85 12-110 12-84 12-53 12-51 12-41 12-27 12-8 12 12 12 32 12 44 12 45 12 79 12 122 12 115 12 123 12 97 12 9 12-86 12-128 12-122 12-82 12-80 12-69 12-44 11-14 12 11 12 24 12 30 12 31 12 29 12 33 12 34 12 31 12 20 12 12 12 7 12 1 12 1 12 6 12 11 12 16 12 23 12 21 12 24 12 27 12 20 12-4 12-58 12-94 12-102 12-84 12-55 12-55 12-50 12-37 12-17 12 11 12 37 12 54 12 61 12 69 12 104 12 118 12 105 12 109 12 105 12 77 12 24 12-25 12-51 11-60 12-54 12-50 12-57 12-53 12-38 12-11 12 21 12 42 12 50 12 49 12 50 12 62 12 64 12 56 12 35 12 6 12-8 12-8 12-9 12-10 12-14 12-16 12-20" stroke="#77AC30"/>
<path d="M394 1293l12-9 12-13 12-16 12-18 12-24 12-32 12-35 12-35 12-30 12-31 12-34 12-34 12-28 12-18 12-4 12 11 12 22 12 28 12 30 12 48 12 64 12 58 12 49 11 48 12 27 12-7 12-40 12-57 12-67 12-69 12-68 12-58 12-44 12-40 12-32 12-15 12 7 12 27 12 42 12 49 12 62 12 94 12 108 12 97 12 90 12 78 12 45 12-2 12-23 12-26 12-27 12-26 12-23 12-23 12-42 12-58 12-51 12-53 12-35 12 1 12 16 12 18 12 21 12 25 12 35 12 43 12 48 12 55 12 58 11 53 12 47 12 16 12-38 12-75 12-90 12-81 12-58 12-58 12-56 12-51 12-41 12-25 12-5 12 27 12 51 12 58 12 54 12 71 12 68 12 42 12-14 12-85 12-110 12-84 12-54 12-53 12-45 12-31 12-11 12 8 12 28 12 40 12 44 12 82 12 128 12 122 12 131 12 103 12 13 12-83 12-126 12-120 12-81 12-79 12-70 12-46 11-18 12 7 12 20 12 26 12 28 12 26 12 32 12 34 12 29 12 20 12 10 12 5 12 1 12 2 12 7 12 14 12 19 12 26 12 23 12 26 12 28 12 19 12-5 12-61 12-99 12-108 12-90 12-62 12-61 12-54 12-39 12-16 12 15 12 44 12 63 12 71 12 79 12 112 12 124 12 109 12 108 12 104 12 74 12 22 12-28 12-54 11-66 12-61 12-57 12-64 12-59 12-41 12-9 12 26 12 49 12 60 12 57 12 58 12 67 12 68 12 56 12 35 12 5 12-10 12-10 12-11 12-13 12-14 12-17 12-20" stroke="#7E2F8E"/>
<path d="M394 1289l12-6 12-12 12-16 12-17 12-25 12-33 12-37 12-38 12-34 12-36 12-39 12-38 12-32 12-22 12-5 12 12 12 23 12 31 12 33 12 53 12 67 12 62 12 51 11 49 12 27 12-8 12-41 12-59 12-67 12-73 12-70 12-59 12-44 12-39 12-28 12-11 12 11 12 34 12 48 12 54 12 64 12 94 12 106 12 93 12 85 12 72 12 41 12-5 12-26 12-28 12-29 12-25 12-20 12-21 12-41 12-56 12-47 12-48 12-28 12 6 12 20 12 21 12 21 12 23 12 31 12 38 12 41 12 49 12 53 11 47 12 46 12 14 12-40 12-77 12-91 12-82 12-57 12-55 12-54 12-48 12-38 12-24 12-3 12 27 12 51 12 57 12 54 12 70 12 68 12 42 12-14 12-86 12-111 12-83 12-52 12-50 12-41 12-27 12-8 12 10 12 30 12 42 12 43 12 80 12 126 12 119 12 128 12 102 12 11 12-85 12-129 12-122 12-84 12-81 12-71 12-48 11-17 12 8 12 22 12 29 12 32 12 29 12 34 12 36 12 31 12 21 12 10 12 5 12-2 12-2 12 3 12 7 12 14 12 20 12 20 12 24 12 28 12 20 12-5 12-59 12-97 12-105 12-86 12-57 12-57 12-50 12-38 12-17 12 12 12 39 12 56 12 65 12 74 12 111 12 125 12 112 12 114 12 111 12 81 12 27 12-25 12-52 11-61 12-57 12-52 12-60 12-56 12-40 12-13 12 21 12 42 12 53 12 51 12 53 12 64 12 68 12 58 12 37 12 7 12-8 12-8 12-8 12-11 12-13 12-16 12-20" stroke="#EDB120"/>
<path d="M394 1273l12-9 12-13 12-16 12-17 12-24 12-32 12-36 12-35 12-31 12-32 12-35 12-34 12-29 12-18 12-2 12 13 12 26 12 32 12 34 12 52 12 67 12 60 12 50 11 47 12 26 12-10 12-44 12-62 12-71 12-76 12-75 12-63 12-49 12-43 12-33 12-14 12 9 12 33 12 50 12 57 12 69 12 99 12 112 12 98 12 89 12 75 12 42 12-5 12-26 12-29 12-30 12-26 12-22 12-21 12-44 12-58 12-50 12-51 12-30 12 7 12 21 12 22 12 24 12 26 12 33 12 41 12 44 12 51 12 55 11 49 12 46 12 15 12-40 12-77 12-91 12-82 12-58 12-57 12-56 12-51 12-41 12-25 12-5 12 26 12 50 12 57 12 55 12 72 12 69 12 44 12-13 12-85 12-110 12-82 12-52 12-51 12-43 12-30 12-13 12 6 12 25 12 35 12 38 12 78 12 128 12 123 12 134 12 109 12 15 12-83 12-127 12-119 12-79 12-78 12-68 12-45 11-16 12 7 12 20 12 26 12 28 12 25 12 31 12 33 12 29 12 18 12 8 12 2 12-3 12-2 12 3 12 10 12 17 12 24 12 23 12 26 12 30 12 21 12-3 12-59 12-97 12-105 12-86 12-56 12-56 12-50 12-36 12-17 12 13 12 38 12 56 12 63 12 71 12 108 12 123 12 110 12 113 12 111 12 81 12 27 12-26 12-52 11-63 12-58 12-52 12-60 12-55 12-39 12-9 12 23 12 45 12 55 12 53 12 52 12 65 12 67 12 58 12 36 12 6 12-8 12-9 12-9 12-11 12-13 12-16 12-20" stroke="#D95319"/>
<path d="M394 1280l12-7 12-13 12-17 12-18 12-26 12-34 12-39 12-39 12-36 12-37 12-41 12-39 12-34 12-22 12-5 12 12 12 25 12 33 12 36 12 56 12 71 12 66 12 55 11 53 12 30 12-5 12-39 12-57 12-67 12-70 12-70 12-59 12-45 12-41 12-31 12-13 12 8 12 30 12 45 12 51 12 63 12 93 12 107 12 94 12 86 12 74 12 42 12-4 12-25 12-28 12-29 12-25 12-21 12-22 12-43 12-59 12-50 12-53 12-32 12 4 12 18 12 19 12 21 12 23 12 32 12 40 12 45 12 52 12 57 11 51 12 49 12 17 12-38 12-75 12-89 12-80 12-56 12-55 12-53 12-49 12-39 12-24 12-4 12 26 12 50 12 56 12 54 12 69 12 68 12 42 12-15 12-87 12-112 12-84 12-54 12-51 12-43 12-29 12-10 12 9 12 29 12 40 12 43 12 82 12 128 12 122 12 132 12 105 12 12 12-84 12-128 12-122 12-83 12-82 12-73 12-50 11-21 12 5 12 19 12 26 12 29 12 26 12 33 12 36 12 31 12 19 12 8 12 3 12-1 12-1 12 4 12 12 12 20 12 26 12 24 12 28 12 32 12 22 12-2 12-58 12-95 12-104 12-85 12-55 12-56 12-49 12-36 12-16 12 13 12 40 12 57 12 64 12 72 12 107 12 121 12 108 12 111 12 107 12 79 12 24 12-27 12-54 11-66 12-61 12-56 12-64 12-60 12-43 12-12 12 23 12 47 12 57 12 56 12 56 12 69 12 70 12 61 12 38 12 8 12-8 12-7 12-9 12-11 12-13 12-17 12-19" stroke="#0072BD"/>
<path d="M394 1272l12-8 12-14 12-17 12-19 12-27 12-35 12-38 12-38 12-33 12-33 12-37 12-34 12-29 12-17 12-3 12 14 12 24 12 31 12 33 12 50 12 66 12 60 12 49 11 49 12 27 12-9 12-41 12-57 12-67 12-71 12-69 12-58 12-44 12-39 12-30 12-14 12 7 12 28 12 42 12 49 12 59 12 91 12 105 12 95 12 89 12 79 12 48 12 0 12-21 12-25 12-26 12-22 12-19 12-20 12-42 12-57 12-50 12-52 12-33 12 3 12 16 12 17 12 19 12 22 12 31 12 40 12 44 12 53 12 57 11 51 12 49 12 17 12-39 12-77 12-92 12-82 12-58 12-57 12-55 12-50 12-39 12-23 12-2 12 29 12 53 12 60 12 56 12 73 12 70 12 42 12-14 12-87 12-113 12-88 12-58 12-57 12-49 12-36 12-15 12 6 12 24 12 37 12 43 12 85 12 136 12 129 12 139 12 111 12 15 12-83 12-128 12-122 12-84 12-83 12-75 12-52 11-23 12 4 12 19 12 27 12 31 12 29 12 36 12 39 12 35 12 22 12 12 12 6 12 2 12 0 12 5 12 10 12 15 12 21 12 18 12 23 12 27 12 19 12-6 12-61 12-98 12-107 12-87 12-57 12-56 12-51 12-37 12-17 12 12 12 38 12 56 12 64 12 72 12 111 12 126 12 113 12 116 12 114 12 83 12 28 12-25 12-53 11-65 12-59 12-54 12-63 12-60 12-43 12-14 12 21 12 44 12 55 12 55 12 55 12 68 12 72 12 62 12 40 12 10 12-7 12-7 12-8 12-10 12-13 12-17 12-19" stroke="#A2142F"/>
<path d="M394 1260l12-8 12-13 12-16 12-19 12-25 12-34 12-39 12-37 12-33 12-34 12-37 12-35 12-30 12-19 12-2 12 13 12 24 12 31 12 32 12 52 12 67 12 61 12 50 11 50 12 27 12-10 12-42 12-58 12-68 12-73 12-72 12-61 12-46 12-41 12-33 12-15 12 7 12 29 12 44 12 52 12 63 12 95 12 109 12 97 12 91 12 81 12 48 12 0 12-23 12-26 12-27 12-23 12-20 12-21 12-43 12-60 12-52 12-53 12-33 12 5 12 19 12 20 12 22 12 24 12 32 12 41 12 44 12 52 12 56 11 50 12 48 12 16 12-40 12-79 12-93 12-84 12-58 12-56 12-54 12-49 12-37 12-23 12-1 12 29 12 53 12 58 12 56 12 71 12 68 12 42 12-16 12-91 12-118 12-90 12-58 12-56 12-47 12-32 12-11 12 9 12 27 12 39 12 43 12 85 12 136 12 128 12 139 12 110 12 16 12-84 12-130 12-124 12-83 12-83 12-73 12-51 11-21 12 6 12 21 12 28 12 30 12 28 12 34 12 36 12 32 12 19 12 8 12 2 12-3 12-2 12 4 12 11 12 20 12 26 12 25 12 28 12 30 12 21 12-5 12-63 12-102 12-111 12-93 12-64 12-64 12-58 12-42 12-19 12 13 12 42 12 62 12 72 12 81 12 118 12 132 12 116 12 118 12 113 12 84 12 27 12-28 12-56 11-67 12-63 12-58 12-66 12-61 12-42 12-11 12 26 12 49 12 60 12 59 12 58 12 70 12 71 12 61 12 38 12 8 12-8 12-9 12-9 12-12 12-13 12-16 12-19" stroke="#4DBEEE"/>
<path d="M394 1236l12-8 12-13 12-15 12-16 12-23 12-31 12-34 12-33 12-30 12-31 12-35 12-36 12-32 12-22 12-8 12 8 12 19 12 27 12 30 12 51 12 67 12 64 12 53 11 53 12 29 12-8 12-41 12-58 12-68 12-76 12-76 12-65 12-49 12-46 12-35 12-19 12 5 12 29 12 47 12 57 12 69 12 101 12 115 12 103 12 94 12 83 12 50 12 0 12-24 12-27 12-28 12-24 12-20 12-21 12-46 12-63 12-54 12-57 12-35 12 3 12 17 12 18 12 20 12 22 12 32 12 41 12 46 12 54 12 59 11 54 12 51 12 20 12-39 12-76 12-91 12-82 12-57 12-56 12-55 12-50 12-39 12-24 12-4 12 28 12 51 12 58 12 55 12 72 12 69 12 42 12-16 12-94 12-122 12-94 12-61 12-60 12-50 12-35 12-12 12 8 12 27 12 38 12 45 12 91 12 143 12 134 12 144 12 115 12 18 12-84 12-131 12-125 12-85 12-84 12-76 12-52 11-21 12 6 12 22 12 31 12 32 12 30 12 35 12 37 12 30 12 17 12 3 12-5 12-12 12-13 12-6 12 3 12 16 12 26 12 28 12 34 12 41 12 31 12 4 12-54 12-93 12-104 12-87 12-60 12-64 12-60 12-48 12-28 12 3 12 33 12 54 12 67 12 79 12 122 12 137 12 122 12 124 12 119 12 88 12 29 12-28 12-57 11-70 12-66 12-62 12-70 12-66 12-45 12-12 12 27 12 53 12 65 12 63 12 63 12 74 12 74 12 63 12 39 12 8 12-8 12-9 12-10 12-11 12-14 12-16 12-19" stroke="#77AC30"/>
<path d="M394 1241l12-8 12-13 12-16 12-18 12-26 12-35 12-38 12-38 12-33 12-34 12-37 12-36 12-31 12-19 12-4 12 12 12 23 12 30 12 31 12 51 12 67 12 62 12 51 11 51 12 27 12-10 12-42 12-56 12-66 12-74 12-72 12-60 12-43 12-40 12-30 12-14 12 8 12 29 12 44 12 51 12 60 12 92 12 106 12 94 12 89 12 81 12 51 12 0 12-22 12-26 12-25 12-21 12-17 12-19 12-44 12-62 12-52 12-53 12-32 12 6 12 20 12 20 12 21 12 23 12 32 12 40 12 44 12 53 12 57 11 52 12 50 12 18 12-40 12-77 12-93 12-83 12-59 12-57 12-57 12-51 12-41 12-27 12-5 12 27 12 49 12 57 12 55 12 73 12 71 12 45 12-15 12-92 12-119 12-88 12-55 12-52 12-44 12-30 12-11 12 9 12 24 12 34 12 38 12 82 12 135 12 129 12 142 12 116 12 18 12-84 12-132 12-123 12-83 12-81 12-72 12-49 11-21 12 7 12 20 12 28 12 29 12 26 12 31 12 35 12 29 12 15 12 3 12-4 12-9 12-7 12 1 12 12 12 23 12 32 12 30 12 35 12 37 12 27 12-1 12-60 12-99 12-112 12-93 12-67 12-69 12-64 12-50 12-29 12 4 12 34 12 56 12 68 12 80 12 124 12 141 12 125 12 128 12 124 12 92 12 32 12-25 12-54 11-66 12-61 12-56 12-65 12-62 12-45 12-14 12 22 12 45 12 57 12 56 12 57 12 70 12 73 12 63 12 42 12 10 12-7 12-7 12-8 12-9 12-13 12-15 12-19" stroke="#7E2F8E"/>
<path d="M394 1224l12-4 12-10 12-14 12-16 12-25 12-34 12-40 12-40 12-36 12-39 12-42 12-41 12-35 12-24 12-6 12 11 12 23 12 31 12 34 12 55 12 71 12 67 12 55 11 53 12 29 12-10 12-42 12-56 12-67 12-76 12-76 12-63 12-46 12-43 12-33 12-16 12 6 12 29 12 45 12 52 12 63 12 94 12 110 12 96 12 92 12 85 12 53 12 2 12-21 12-25 12-25 12-20 12-16 12-18 12-45 12-62 12-53 12-54 12-33 12 5 12 19 12 19 12 18 12 20 12 29 12 38 12 42 12 52 12 56 11 52 12 52 12 20 12-38 12-78 12-92 12-82 12-55 12-54 12-53 12-48 12-39 12-24 12-5 12 26 12 49 12 55 12 52 12 71 12 69 12 43 12-16 12-98 12-124 12-93 12-57 12-53 12-43 12-29 12-7 12 11 12 26 12 35 12 40 12 84 12 137 12 131 12 144 12 118 12 19 12-86 12-134 12-127 12-86 12-83 12-75 12-52 11-22 12 7 12 21 12 29 12 31 12 28 12 34 12 37 12 31 12 17 12 3 12-4 12-8 12-7 12 2 12 12 12 23 12 30 12 29 12 33 12 34 12 24 12-5 12-65 12-105 12-118 12-99 12-70 12-71 12-63 12-48 12-23 12 11 12 43 12 65 12 76 12 87 12 128 12 143 12 124 12 127 12 123 12 91 12 30 12-28 12-58 11-71 12-67 12-61 12-71 12-66 12-46 12-11 12 26 12 51 12 64 12 62 12 61 12 75 12 76 12 65 12 43 12 10 12-7 12-7 12-9 12-10 12-13 12-15 12-19" stroke="#EDB120"/>
<path d="M394 1220l12-5 12-10 12-13 12-15 12-24 12-33 12-38 12-39 12-36 12-38 12-43 12-43 12-38 12-26 12-10 12 8 12 21 12 29 12 34 12 56 12 73 12 69 12 57 11 56 12 31 12-9 12-41 12-56 12-68 12-77 12-78 12-66 12-50 12-46 12-37 12-20 12 3 12 27 12 46 12 55 12 67 12 101 12 115 12 103 12 97 12 88 12 55 12 2 12-21 12-25 12-27 12-21 12-18 12-19 12-46 12-64 12-55 12-56 12-35 12 5 12 18 12 19 12 18 12 22 12 29 12 39 12 43 12 52 12 57 11 51 12 52 12 19 12-39 12-79 12-94 12-84 12-57 12-55 12-54 12-48 12-39 12-24 12-3 12 28 12 50 12 57 12 55 12 73 12 71 12 45 12-16 12-95 12-123 12-92 12-56 12-53 12-44 12-30 12-10 12 9 12 23 12 33 12 37 12 82 12 137 12 130 12 146 12 120 12 20 12-86 12-135 12-127 12-85 12-83 12-75 12-52 11-22 12 7 12 22 12 29 12 32 12 28 12 35 12 37 12 31 12 17 12 3 12-5 12-9 12-8 12 0 12 9 12 20 12 28 12 26 12 31 12 33 12 24 12-5 12-64 12-105 12-115 12-96 12-65 12-64 12-57 12-41 12-18 12 15 12 44 12 63 12 72 12 82 12 122 12 136 12 121 12 124 12 123 12 92 12 31 12-28 12-58 11-70 12-65 12-58 12-68 12-61 12-43 12-9 12 26 12 50 12 60 12 58 12 58 12 70 12 74 12 64 12 42 12 10 12-6 12-7 12-7 12-8 12-11 12-14 12-18" stroke="#D95319"/>
<path d="M394 1220l12-8 12-14 12-18 12-20 12-29 12-38 12-43 12-42 12-38 12-38 12-40 12-39 12-32 12-19 12-2 12 15 12 26 12 33 12 36 12 55 12 72 12 66 12 54 11 53 12 28 12-11 12-43 12-57 12-68 12-77 12-78 12-65 12-49 12-45 12-36 12-20 12 2 12 26 12 43 12 52 12 63 12 98 12 114 12 102 12 98 12 91 12 59 12 5 12-20 12-24 12-25 12-20 12-17 12-19 12-47 12-66 12-57 12-59 12-37 12 4 12 18 12 19 12 19 12 23 12 32 12 41 12 46 12 54 12 59 11 53 12 52 12 20 12-41 12-80 12-95 12-86 12-58 12-57 12-55 12-49 12-38 12-23 12-1 12 30 12 52 12 59 12 55 12 73 12 71 12 43 12-18 12-99 12-129 12-98 12-62 12-58 12-48 12-32 12-9 12 11 12 26 12 37 12 42 12 89 12 145 12 135 12 149 12 120 12 19 12-86 12-137 12-130 12-89 12-87 12-78 12-56 11-24 12 7 12 24 12 33 12 34 12 32 12 39 12 40 12 33 12 18 12 4 12-5 12-11 12-11 12-5 12 5 12 17 12 25 12 25 12 32 12 35 12 26 12-2 12-62 12-103 12-114 12-94 12-66 12-66 12-60 12-47 12-23 12 8 12 39 12 59 12 70 12 82 12 126 12 143 12 127 12 131 12 129 12 96 12 34 12-26 12-58 11-69 12-65 12-59 12-69 12-64 12-46 12-12 12 24 12 49 12 60 12 59 12 58 12 73 12 76 12 66 12 44 12 12 12-6 12-6 12-6 12-9 12-11 12-13 12-18" stroke="#0072BD"/>
<path d="M394 1206l12-5 12-11 12-16 12-18 12-28 12-38 12-43 12-43 12-39 12-39 12-43 12-40 12-33 12-21 12-4 12 14 12 25 12 31 12 35 12 55 12 71 12 67 12 55 11 54 12 29 12-11 12-41 12-55 12-65 12-76 12-76 12-63 12-47 12-45 12-36 12-22 12-1 12 22 12 40 12 48 12 60 12 96 12 114 12 102 12 101 12 95 12 63 12 7 12-17 12-23 12-24 12-20 12-16 12-19 12-48 12-69 12-59 12-61 12-38 12 4 12 19 12 20 12 21 12 25 12 34 12 43 12 46 12 55 12 59 11 52 12 51 12 18 12-42 12-82 12-99 12-88 12-60 12-58 12-55 12-49 12-37 12-21 12 0 12 32 12 54 12 60 12 57 12 73 12 72 12 44 12-17 12-100 12-129 12-97 12-62 12-57 12-48 12-32 12-11 12 8 12 22 12 32 12 35 12 85 12 143 12 135 12 153 12 126 12 22 12-86 12-136 12-128 12-85 12-82 12-74 12-51 11-21 12 8 12 23 12 30 12 32 12 27 12 35 12 36 12 30 12 14 12 0 12-9 12-13 12-11 12-3 12 7 12 22 12 29 12 28 12 32 12 36 12 25 12-4 12-65 12-107 12-117 12-97 12-66 12-66 12-58 12-42 12-18 12 14 12 44 12 63 12 71 12 81 12 124 12 140 12 124 12 129 12 129 12 97 12 34 12-28 12-58 11-72 12-65 12-59 12-68 12-64 12-44 12-11 12 25 12 49 12 61 12 59 12 58 12 73 12 77 12 68 12 46 12 12 12-4 12-5 12-6 12-8 12-11 12-14 12-18" stroke="#A2142F"/>
<path d="M394 1198l12-5 12-12 12-16 12-18 12-26 12-37 12-41 12-42 12-36 12-38 12-42 12-40 12-33 12-22 12-5 12 12 12 24 12 31 12 34 12 54 12 72 12 67 12 55 11 55 12 28 12-12 12-43 12-57 12-67 12-79 12-80 12-68 12-50 12-47 12-39 12-22 12-2 12 24 12 42 12 52 12 64 12 100 12 117 12 105 12 103 12 97 12 64 12 8 12-17 12-23 12-23 12-19 12-16 12-18 12-48 12-67 12-59 12-61 12-38 12 3 12 17 12 19 12 18 12 23 12 32 12 41 12 46 12 56 12 60 11 53 12 54 12 20 12-41 12-81 12-98 12-87 12-61 12-59 12-57 12-51 12-40 12-24 12-1 12 31 12 54 12 60 12 58 12 76 12 73 12 46 12-16 12-100 12-130 12-98 12-63 12-61 12-50 12-35 12-13 12 6 12 21 12 32 12 37 12 89 12 148 12 140 12 157 12 128 12 23 12-86 12-136 12-129 12-88 12-85 12-77 12-55 11-23 12 7 12 24 12 32 12 35 12 31 12 38 12 39 12 32 12 17 12 1 12-8 12-14 12-15 12-8 12 3 12 15 12 25 12 25 12 32 12 36 12 27 12-3 12-64 12-106 12-117 12-97 12-67 12-67 12-62 12-47 12-22 12 10 12 42 12 62 12 74 12 86 12 131 12 148 12 131 12 135 12 133 12 99 12 35 12-27 12-58 11-71 12-66 12-62 12-71 12-67 12-47 12-15 12 24 12 49 12 60 12 61 12 60 12 75 12 78 12 70 12 46 12 13 12-4 12-5 12-6 12-9 12-10 12-14 12-17" stroke="#4DBEEE"/>
<path d="M394 1199l12-7 12-13 12-17 12-19 12-29 12-38 12-43 12-43 12-38 12-40 12-44 12-43 12-36 12-23 12-6 12 11 12 24 12 31 12 36 12 57 12 76 12 70 12 59 11 58 12 31 12-9 12-40 12-55 12-65 12-77 12-78 12-65 12-48 12-46 12-37 12-21 12 1 12 25 12 42 12 52 12 63 12 98 12 115 12 102 12 99 12 93 12 60 12 6 12-19 12-25 12-25 12-20 12-16 12-19 12-49 12-70 12-60 12-63 12-40 12 3 12 18 12 18 12 19 12 23 12 33 12 43 12 47 12 58 12 61 11 55 12 55 12 22 12-39 12-81 12-96 12-86 12-60 12-58 12-57 12-50 12-39 12-24 12-1 12 31 12 53 12 61 12 57 12 75 12 74 12 45 12-16 12-100 12-129 12-99 12-64 12-61 12-53 12-36 12-13 12 5 12 20 12 31 12 36 12 89 12 148 12 140 12 157 12 129 12 23 12-87 12-137 12-132 12-88 12-87 12-79 12-55 11-25 12 8 12 25 12 35 12 36 12 33 12 39 12 41 12 33 12 18 12 1 12-8 12-13 12-14 12-7 12 4 12 17 12 27 12 26 12 34 12 38 12 27 12-1 12-63 12-105 12-116 12-98 12-68 12-71 12-65 12-51 12-27 12 6 12 38 12 60 12 72 12 86 12 132 12 150 12 132 12 137 12 135 12 100 12 36 12-28 12-59 11-72 12-68 12-62 12-73 12-67 12-48 12-12 12 25 12 52 12 63 12 63 12 62 12 76 12 80 12 68 12 46 12 13 12-5 12-6 12-7 12-8 12-11 12-14 12-17" stroke="#77AC30"/>
<path d="M394 1170l12-6 12-11 12-16 12-18 12-28 12-37 12-43 12-43 12-38 12-40 12-43 12-43 12-36 12-24 12-6 12 10 12 23 12 31 12 34 12 57 12 76 12 71 12 59 11 59 12 31 12-10 12-41 12-53 12-65 12-79 12-80 12-68 12-50 12-48 12-40 12-26 12-4 12 21 12 39 12 50 12 62 12 99 12 117 12 106 12 105 12 102 12 68 12 10 12-16 12-22 12-23 12-17 12-14 12-18 12-51 12-72 12-62 12-66 12-41 12 3 12 18 12 18 12 19 12 23 12 34 12 43 12 49 12 58 12 63 11 55 12 56 12 22 12-40 12-83 12-99 12-89 12-63 12-60 12-60 12-52 12-42 12-25 12-1 12 31 12 54 12 61 12 60 12 77 12 77 12 48 12-16 12-103 12-133 12-100 12-64 12-60 12-52 12-35 12-13 12 6 12 19 12 28 12 35 12 89 12 152 12 143 12 162 12 133 12 26 12-87 12-139 12-132 12-89 12-88 12-80 12-58 11-26 12 5 12 24 12 32 12 35 12 31 12 39 12 40 12 33 12 16 12-1 12-11 12-17 12-15 12-7 12 5 12 20 12 30 12 29 12 36 12 40 12 28 12-3 12-66 12-109 12-120 12-102 12-72 12-73 12-67 12-51 12-26 12 8 12 41 12 63 12 76 12 89 12 137 12 155 12 136 12 141 12 139 12 104 12 38 12-28 12-61 11-74 12-69 12-65 12-74 12-69 12-49 12-13 12 26 12 52 12 65 12 64 12 62 12 78 12 82 12 71 12 49 12 14 12-4 12-5 12-6 12-7 12-10 12-14 12-16" stroke="#7E2F8E"/>
<path d="M394 1163l12-4 12-11 12-15 12-18 12-27 12-37 12-43 12-44 12-38 12-42 12-45 12-44 12-38 12-25 12-7 12 10 12 24 12 31 12 36 12 59 12 77 12 73 12 60 11 59 12 32 12-11 12-42 12-54 12-66 12-81 12-82 12-69 12-51 12-49 12-40 12-24 12-3 12 24 12 43 12 54 12 65 12 102 12 120 12 106 12 104 12 100 12 66 12 8 12-18 12-23 12-25 12-18 12-15 12-19 12-51 12-73 12-63 12-66 12-41 12 5 12 19 12 19 12 20 12 23 12 34 12 42 12 48 12 57 12 61 11 54 12 56 12 21 12-41 12-83 12-100 12-89 12-62 12-58 12-58 12-50 12-39 12-23 12-1 12 32 12 55 12 61 12 58 12 76 12 76 12 47 12-17 12-105 12-135 12-102 12-64 12-60 12-50 12-34 12-11 12 8 12 20 12 30 12 35 12 89 12 151 12 142 12 161 12 133 12 25 12-88 12-141 12-134 12-90 12-89 12-80 12-58 11-25 12 7 12 26 12 35 12 36 12 33 12 40 12 41 12 33 12 16 12-3 12-13 12-19 12-18 12-11 12 1 12 17 12 27 12 28 12 35 12 41 12 29 12-1 12-66 12-108 12-119 12-100 12-70 12-70 12-65 12-50 12-25 12 10 12 41 12 63 12 76 12 89 12 137 12 155 12 137 12 141 12 140 12 105 12 38 12-27 12-60 11-74 12-69 12-64 12-75 12-70 12-50 12-15 12 24 12 50 12 63 12 63 12 62 12 78 12 83 12 73 12 50 12 15 12-3 12-3 12-5 12-7 12-10 12-13 12-16" stroke="#EDB120"/>
<path d="M394 1154l12-4 12-11 12-15 12-17 12-27 12-38 12-43 12-44 12-39 12-41 12-45 12-44 12-36 12-24 12-6 12 12 12 25 12 32 12 37 12 59 12 77 12 72 12 59 11 58 12 30 12-14 12-43 12-56 12-68 12-83 12-84 12-71 12-52 12-50 12-41 12-25 12-3 12 23 12 43 12 54 12 65 12 103 12 119 12 108 12 106 12 102 12 69 12 11 12-16 12-22 12-23 12-16 12-13 12-17 12-51 12-72 12-63 12-65 12-41 12 3 12 17 12 17 12 18 12 21 12 31 12 42 12 47 12 58 12 62 11 56 12 57 12 24 12-40 12-83 12-99 12-89 12-61 12-60 12-58 12-53 12-41 12-25 12-2 12 31 12 54 12 61 12 58 12 78 12 77 12 48 12-16 12-105 12-136 12-103 12-65 12-62 12-53 12-36 12-13 12 6 12 18 12 28 12 34 12 92 12 155 12 148 12 166 12 137 12 27 12-86 12-139 12-134 12-90 12-88 12-81 12-60 11-29 12 5 12 23 12 33 12 35 12 32 12 40 12 41 12 34 12 16 12-3 12-13 12-19 12-19 12-11 12 2 12 17 12 28 12 28 12 35 12 41 12 30 12-1 12-66 12-108 12-119 12-100 12-69 12-71 12-65 12-49 12-26 12 9 12 39 12 62 12 74 12 88 12 137 12 155 12 138 12 144 12 143 12 108 12 39 12-27 12-60 11-75 12-69 12-64 12-75 12-70 12-50 12-14 12 25 12 51 12 64 12 63 12 63 12 78 12 83 12 74 12 50 12 15 12-3 12-4 12-5 12-7 12-9 12-13 12-16" stroke="#D95319"/>
<path d="M394 1155l12-4 12-11 12-15 12-17 12-27 12-37 12-43 12-44 12-39 12-42 12-45 12-45 12-38 12-25 12-6 12 11 12 23 12 32 12 36 12 59 12 78 12 72 12 61 11 59 12 30 12-12 12-43 12-55 12-67 12-83 12-84 12-70 12-52 12-49 12-41 12-25 12-3 12 24 12 43 12 55 12 65 12 102 12 119 12 107 12 105 12 102 12 68 12 10 12-16 12-23 12-23 12-17 12-13 12-17 12-51 12-73 12-61 12-65 12-41 12 4 12 19 12 18 12 18 12 21 12 31 12 41 12 46 12 57 12 61 11 55 12 56 12 23 12-40 12-84 12-99 12-89 12-61 12-59 12-58 12-51 12-40 12-24 12-1 12 31 12 55 12 61 12 58 12 78 12 77 12 49 12-16 12-104 12-135 12-101 12-63 12-61 12-52 12-36 12-14 12 4 12 16 12 25 12 31 12 88 12 153 12 145 12 166 12 139 12 28 12-87 12-140 12-133 12-89 12-88 12-79 12-59 11-27 12 6 12 24 12 33 12 35 12 31 12 39 12 41 12 33 12 16 12-2 12-13 12-18 12-16 12-9 12 3 12 20 12 28 12 29 12 34 12 40 12 28 12-3 12-68 12-110 12-121 12-101 12-70 12-71 12-64 12-48 12-23 12 11 12 42 12 63 12 75 12 87 12 135 12 154 12 135 12 142 12 142 12 107 12 39 12-27 12-62 11-75 12-69 12-64 12-74 12-69 12-49 12-13 12 26 12 51 12 63 12 63 12 62 12 78 12 82 12 74 12 51 12 15 12-3 12-3 12-4 12-6 12-9 12-12 12-17" stroke="#0072BD"/>
<path d="M394 1162l12-6 12-13 12-17 12-21 12-31 12-41 12-47 12-47 12-41 12-43 12-45 12-43 12-35 12-21 12-2 12 15 12 27 12 34 12 37 12 59 12 77 12 71 12 58 11 57 12 29 12-15 12-44 12-55 12-66 12-83 12-83 12-68 12-50 12-47 12-38 12-23 12-1 12 24 12 43 12 53 12 63 12 99 12 117 12 104 12 103 12 101 12 68 12 11 12-17 12-22 12-23 12-16 12-12 12-16 12-50 12-73 12-62 12-65 12-40 12 5 12 18 12 18 12 17 12 21 12 31 12 41 12 46 12 57 12 61 11 55 12 58 12 23 12-40 12-82 12-99 12-89 12-60 12-58 12-56 12-51 12-40 12-25 12-2 12 31 12 52 12 60 12 57 12 76 12 76 12 47 12-16 12-107 12-138 12-103 12-64 12-60 12-50 12-33 12-11 12 7 12 19 12 28 12 32 12 89 12 153 12 145 12 164 12 137 12 27 12-88 12-141 12-134 12-91 12-88 12-79 12-58 11-26 12 8 12 25 12 35 12 36 12 32 12 40 12 40 12 33 12 14 12-4 12-15 12-21 12-20 12-11 12 1 12 19 12 30 12 29 12 37 12 42 12 31 12-2 12-66 12-109 12-121 12-102 12-72 12-72 12-67 12-51 12-26 12 9 12 42 12 63 12 76 12 90 12 139 12 157 12 138 12 144 12 143 12 108 12 40 12-28 12-62 11-76 12-70 12-65 12-76 12-70 12-50 12-14 12 26 12 52 12 65 12 64 12 63 12 79 12 83 12 74 12 51 12 15 12-2 12-3 12-5 12-6 12-9 12-13 12-16" stroke="#A2142F"/>
<path d="M394 1146l12-5 12-11 12-16 12-18 12-28 12-39 12-46 12-45 12-41 12-43 12-47 12-46 12-39 12-25 12-7 12 11 12 23 12 32 12 37 12 60 12 80 12 74 12 63 11 61 12 32 12-11 12-42 12-53 12-65 12-82 12-84 12-70 12-52 12-50 12-42 12-28 12-5 12 20 12 40 12 52 12 62 12 101 12 119 12 108 12 107 12 106 12 73 12 12 12-15 12-22 12-21 12-16 12-12 12-17 12-51 12-75 12-64 12-67 12-42 12 4 12 18 12 18 12 18 12 22 12 32 12 42 12 47 12 58 12 62 11 56 12 58 12 23 12-40 12-84 12-101 12-90 12-62 12-59 12-58 12-52 12-40 12-24 12-1 12 33 12 54 12 62 12 59 12 78 12 77 12 48 12-16 12-108 12-139 12-105 12-66 12-63 12-54 12-37 12-13 12 5 12 17 12 25 12 32 12 92 12 157 12 149 12 169 12 142 12 29 12-87 12-141 12-135 12-91 12-88 12-81 12-60 11-28 12 6 12 25 12 34 12 36 12 33 12 40 12 42 12 33 12 15 12-4 12-16 12-21 12-20 12-13 12 1 12 18 12 28 12 29 12 36 12 41 12 31 12-2 12-68 12-110 12-122 12-102 12-71 12-72 12-66 12-49 12-25 12 11 12 42 12 65 12 76 12 90 12 140 12 158 12 139 12 145 12 145 12 110 12 40 12-28 12-63 11-77 12-71 12-67 12-77 12-72 12-51 12-14 12 26 12 52 12 66 12 66 12 64 12 80 12 85 12 76 12 53 12 16 12-2 12-3 12-4 12-6 12-9 12-12 12-16" stroke="#4DBEEE"/>
<path d="M394 1137l12-6 12-12 12-17 12-19 12-29 12-41 12-46 12-47 12-41 12-43 12-47 12-45 12-37 12-24 12-6 12 13 12 25 12 34 12 37 12 61 12 79 12 75 12 62 11 61 12 31 12-13 12-42 12-53 12-66 12-83 12-85 12-72 12-52 12-51 12-44 12-28 12-7 12 19 12 39 12 52 12 62 12 101 12 121 12 108 12 110 12 108 12 75 12 14 12-14 12-21 12-21 12-15 12-11 12-17 12-52 12-76 12-65 12-69 12-42 12 4 12 19 12 19 12 18 12 23 12 33 12 43 12 48 12 58 12 63 11 55 12 58 12 24 12-41 12-85 12-102 12-92 12-62 12-61 12-59 12-52 12-41 12-24 12 0 12 32 12 55 12 61 12 60 12 79 12 78 12 49 12-17 12-109 12-141 12-106 12-66 12-63 12-52 12-35 12-12 12 6 12 17 12 25 12 31 12 91 12 157 12 149 12 170 12 143 12 29 12-89 12-143 12-137 12-93 12-90 12-82 12-61 11-28 12 7 12 26 12 35 12 38 12 34 12 41 12 43 12 34 12 15 12-5 12-17 12-22 12-20 12-13 12 2 12 20 12 30 12 31 12 38 12 43 12 31 12-2 12-68 12-112 12-124 12-105 12-75 12-76 12-70 12-53 12-28 12 8 12 41 12 64 12 77 12 93 12 143 12 162 12 143 12 150 12 149 12 112 12 42 12-28 12-63 11-78 12-72 12-67 12-78 12-72 12-51 12-14 12 27 12 53 12 67 12 66 12 64 12 81 12 86 12 76 12 53 12 17 12-2 12-3 12-4 12-6 12-9 12-11 12-16" stroke="#77AC30"/>
<path d="M394 1121l12-5 12-12 12-16 12-19 12-29 12-41 12-47 12-47 12-42 12-44 12-48 12-47 12-39 12-26 12-7 12 11 12 24 12 32 12 37 12 61 12 81 12 76 12 64 11 62 12 33 12-13 12-41 12-52 12-65 12-83 12-86 12-72 12-53 12-51 12-44 12-29 12-8 12 19 12 39 12 52 12 62 12 103 12 121 12 110 12 112 12 111 12 77 12 16 12-14 12-20 12-21 12-15 12-10 12-16 12-54 12-79 12-68 12-71 12-45 12 4 12 18 12 18 12 17 12 22 12 33 12 44 12 49 12 61 12 64 11 57 12 60 12 25 12-40 12-86 12-103 12-92 12-63 12-61 12-60 12-53 12-42 12-25 12 0 12 32 12 56 12 62 12 60 12 80 12 79 12 50 12-16 12-111 12-145 12-108 12-67 12-64 12-54 12-37 12-13 12 5 12 16 12 23 12 31 12 93 12 161 12 153 12 175 12 147 12 32 12-89 12-143 12-138 12-92 12-91 12-83 12-63 11-30 12 6 12 25 12 36 12 37 12 33 12 41 12 43 12 34 12 14 12-8 12-19 12-25 12-24 12-15 12 0 12 19 12 31 12 31 12 39 12 44 12 33 12-2 12-68 12-113 12-126 12-105 12-75 12-76 12-69 12-53 12-26 12 10 12 42 12 66 12 79 12 94 12 146 12 165 12 145 12 152 12 151 12 115 12 43 12-28 12-65 11-79 12-74 12-69 12-79 12-75 12-52 12-15 12 26 12 54 12 67 12 68 12 65 12 83 12 88 12 79 12 55 12 18 12-1 12-2 12-3 12-5 12-8 12-11 12-16" stroke="#7E2F8E"/>
<path d="M394 1111l12-5 12-12 12-17 12-19 12-30 12-41 12-48 12-47 12-42 12-44 12-47 12-47 12-38 12-25 12-6 12 12 12 24 12 33 12 36 12 62 12 80 12 76 12 64 11 63 12 32 12-14 12-42 12-52 12-65 12-84 12-88 12-72 12-53 12-52 12-45 12-30 12-9 12 18 12 40 12 52 12 63 12 103 12 123 12 112 12 112 12 114 12 79 12 17 12-13 12-21 12-20 12-15 12-10 12-16 12-55 12-80 12-68 12-73 12-46 12 3 12 19 12 18 12 17 12 22 12 34 12 43 12 50 12 60 12 65 11 58 12 60 12 26 12-42 12-86 12-103 12-93 12-64 12-61 12-59 12-53 12-41 12-23 12-1 12 34 12 56 12 62 12 60 12 81 12 79 12 50 12-17 12-114 12-146 12-110 12-69 12-66 12-54 12-37 12-13 12 6 12 15 12 23 12 30 12 94 12 164 12 154 12 177 12 149 12 32 12-89 12-145 12-139 12-93 12-92 12-83 12-63 11-30 12 6 12 26 12 37 12 39 12 34 12 42 12 43 12 34 12 14 12-8 12-21 12-26 12-26 12-16 12-2 12 19 12 30 12 31 12 40 12 45 12 33 12-1 12-69 12-114 12-126 12-107 12-75 12-77 12-70 12-54 12-26 12 9 12 43 12 67 12 79 12 95 12 148 12 167 12 146 12 154 12 154 12 117 12 43 12-28 12-65 11-81 12-75 12-69 12-80 12-76 12-52 12-15 12 27 12 55 12 68 12 68 12 66 12 84 12 89 12 79 12 56 12 19 12-1 12-2 12-2 12-5 12-8 12-11 12-15" stroke="#EDB120"/>
<path d="M394 1103l12-5 12-12 12-17 12-20 12-30 12-42 12-49 12-48 12-43 12-45 12-49 12-47 12-39 12-26 12-7 12 12 12 24 12 33 12 36 12 62 12 82 12 78 12 65 11 63 12 34 12-14 12-42 12-51 12-64 12-85 12-88 12-73 12-53 12-52 12-45 12-31 12-10 12 17 12 39 12 52 12 62 12 103 12 124 12 111 12 114 12 116 12 81 12 18 12-13 12-20 12-20 12-13 12-10 12-16 12-55 12-82 12-70 12-74 12-46 12 3 12 19 12 17 12 18 12 22 12 34 12 44 12 50 12 61 12 65 11 58 12 61 12 26 12-41 12-87 12-104 12-94 12-64 12-61 12-60 12-53 12-41 12-24 12 0 12 34 12 57 12 62 12 61 12 81 12 80 12 50 12-17 12-115 12-149 12-112 12-69 12-67 12-55 12-37 12-13 12 5 12 15 12 22 12 30 12 95 12 165 12 156 12 180 12 152 12 33 12-89 12-147 12-140 12-94 12-92 12-85 12-63 11-31 12 6 12 27 12 37 12 39 12 35 12 43 12 44 12 34 12 13 12-9 12-22 12-28 12-27 12-18 12-2 12 19 12 31 12 31 12 40 12 46 12 34 12-1 12-70 12-115 12-128 12-108 12-76 12-78 12-72 12-54 12-28 12 10 12 43 12 68 12 80 12 97 12 150 12 170 12 149 12 156 12 157 12 119 12 45 12-29 12-65 11-82 12-75 12-71 12-81 12-76 12-54 12-15 12 27 12 55 12 69 12 68 12 67 12 84 12 90 12 81 12 57 12 19 12 0 12-1 12-2 12-5 12-7 12-11 12-14" stroke="#D95319"/>
<path d="M394 1100l12-5 12-12 12-17 12-19 12-31 12-42 12-49 12-48 12-43 12-45 12-49 12-48 12-39 12-26 12-7 12 12 12 24 12 32 12 37 12 62 12 83 12 77 12 65 11 64 12 33 12-13 12-42 12-51 12-65 12-85 12-88 12-73 12-53 12-52 12-46 12-31 12-10 12 17 12 39 12 52 12 62 12 103 12 124 12 112 12 114 12 116 12 82 12 18 12-12 12-20 12-20 12-14 12-9 12-16 12-55 12-82 12-70 12-75 12-46 12 3 12 19 12 17 12 18 12 22 12 34 12 44 12 50 12 61 12 65 11 59 12 61 12 26 12-41 12-87 12-104 12-94 12-64 12-62 12-60 12-53 12-41 12-24 12 0 12 34 12 56 12 63 12 61 12 81 12 80 12 50 12-17 12-115 12-150 12-112 12-70 12-66 12-56 12-37 12-13 12 5 12 15 12 22 12 29 12 95 12 166 12 157 12 181 12 152 12 34 12-90 12-146 12-140 12-95 12-92 12-85 12-64 11-31 12 7 12 26 12 38 12 39 12 35 12 43 12 44 12 34 12 13 12-9 12-23 12-28 12-27 12-19 12-2 12 18 12 31 12 32 12 40 12 47 12 33 12-1 12-69 12-116 12-128 12-108 12-77 12-79 12-71 12-55 12-28 12 10 12 43 12 68 12 81 12 97 12 150 12 171 12 150 12 157 12 157 12 120 12 45 12-29 12-65 11-82 12-76 12-70 12-82 12-76 12-54 12-15 12 27 12 55 12 69 12 69 12 66 12 85 12 90 12 81 12 58 12 19 12 0 12-1 12-2 12-5 12-7 12-10 12-15" stroke="#0072BD"/>
</g>
<rect x="39.4" y="22.6" width="222.80" height="168.50" fill="none" stroke="#767676" stroke-width="1.1"/>
<line x1="39.40" y1="191.1" x2="39.40" y2="188.9" stroke="#767676" stroke-width="0.8"/>
<line x1="39.40" y1="22.6" x2="39.40" y2="24.8" stroke="#767676" stroke-width="0.8"/>
<text transform="translate(39.40,204.30) scale(0.982,1)" text-anchor="middle" font-size="9.5">0</text>
<line x1="95.10" y1="191.1" x2="95.10" y2="188.9" stroke="#767676" stroke-width="0.8"/>
<line x1="95.10" y1="22.6" x2="95.10" y2="24.8" stroke="#767676" stroke-width="0.8"/>
<text transform="translate(95.10,204.30) scale(0.982,1)" text-anchor="middle" font-size="9.5">500</text>
<line x1="150.80" y1="191.1" x2="150.80" y2="188.9" stroke="#767676" stroke-width="0.8"/>
<line x1="150.80" y1="22.6" x2="150.80" y2="24.8" stroke="#767676" stroke-width="0.8"/>
<text transform="translate(150.80,204.30) scale(0.982,1)" text-anchor="middle" font-size="9.5">1000</text>
<line x1="206.50" y1="191.1" x2="206.50" y2="188.9" stroke="#767676" stroke-width="0.8"/>
<line x1="206.50" y1="22.6" x2="206.50" y2="24.8" stroke="#767676" stroke-width="0.8"/>
<text transform="translate(206.50,204.30) scale(0.982,1)" text-anchor="middle" font-size="9.5">1500</text>
<line x1="262.20" y1="191.1" x2="262.20" y2="188.9" stroke="#767676" stroke-width="0.8"/>
<line x1="262.20" y1="22.6" x2="262.20" y2="24.8" stroke="#767676" stroke-width="0.8"/>
<text transform="translate(262.20,204.30) scale(0.982,1)" text-anchor="middle" font-size="9.5">2000</text>
<line x1="39.4" y1="191.10" x2="41.6" y2="191.10" stroke="#767676" stroke-width="0.8"/>
<line x1="262.2" y1="191.10" x2="260.0" y2="191.10" stroke="#767676" stroke-width="0.8"/>
<text transform="translate(35.80,194.10) scale(0.982,1)" text-anchor="end" font-size="9.5">0</text>
<line x1="39.4" y1="167.03" x2="41.6" y2="167.03" stroke="#767676" stroke-width="0.8"/>
<line x1="262.2" y1="167.03" x2="260.0" y2="167.03" stroke="#767676" stroke-width="0.8"/>
<text transform="translate(35.80,170.03) scale(0.982,1)" text-anchor="end" font-size="9.5">50</text>
<line x1="39.4" y1="142.96" x2="41.6" y2="142.96" stroke="#767676" stroke-width="0.8"/>
<line x1="262.2" y1="142.96" x2="260.0" y2="142.96" stroke="#767676" stroke-width="0.8"/>
<text transform="translate(35.80,145.96) scale(0.982,1)" text-anchor="end" font-size="9.5">100</text>
<line x1="39.4" y1="118.89" x2="41.6" y2="118.89" stroke="#767676" stroke-width="0.8"/>
<line x1="262.2" y1="118.89" x2="260.0" y2="118.89" stroke="#767676" stroke-width="0.8"/>
<text transform="translate(35.80,121.89) scale(0.982,1)" text-anchor="end" font-size="9.5">150</text>
<line x1="39.4" y1="94.81" x2="41.6" y2="94.81" stroke="#767676" stroke-width="0.8"/>
<line x1="262.2" y1="94.81" x2="260.0" y2="94.81" stroke="#767676" stroke-width="0.8"/>
<text transform="translate(35.80,97.81) scale(0.982,1)" text-anchor="end" font-size="9.5">200</text>
<line x1="39.4" y1="70.74" x2="41.6" y2="70.74" stroke="#767676" stroke-width="0.8"/>
<line x1="262.2" y1="70.74" x2="260.0" y2="70.74" stroke="#767676" stroke-width="0.8"/>
<text transform="translate(35.80,73.74) scale(0.982,1)" text-anchor="end" font-size="9.5">250</text>
<line x1="39.4" y1="46.67" x2="41.6" y2="46.67" stroke="#767676" stroke-width="0.8"/>
<line x1="262.2" y1="46.67" x2="260.0" y2="46.67" stroke="#767676" stroke-width="0.8"/>
<text transform="translate(35.80,49.67) scale(0.982,1)" text-anchor="end" font-size="9.5">300</text>
<line x1="39.4" y1="22.60" x2="41.6" y2="22.60" stroke="#767676" stroke-width="0.8"/>
<line x1="262.2" y1="22.60" x2="260.0" y2="22.60" stroke="#767676" stroke-width="0.8"/>
<text transform="translate(35.80,25.60) scale(0.982,1)" text-anchor="end" font-size="9.5">350</text>
<text transform="translate(151.20,17.15) scale(1.03,1)" text-anchor="middle" font-size="10.2">Trajectory CSI between RP1 and RP2</text>
<text transform="translate(150.80,218.50) scale(1.025,1)" text-anchor="middle" font-size="10.2">Samples (time series)</text>
<text transform="translate(14.80,106.85) rotate(-90) scale(1.035,1)" x="0" y="0" text-anchor="middle" font-size="10.2">CSI Amplitude</text>
<g fill="none" stroke-width="9.0" stroke-linejoin="round" transform="scale(0.1)">
<path d="M3120 1540l12-2 12-3 12-2 12-2 12-3 12-2 12-3 12-2 12-3 12-3 12-3 12-3 12-3 12-3 12-3 12-2 12-1 12 0 12 1 12 1 12 1 12 1 12 2 11 1 12 2 12 2 12 1 12 2 12 1 12 2 12 1 12 1 12 1 12 1 12-1 12-7 12-13 12-11 12-6 12-1 12-1 12 0 12-1 12 0 12 0 12 2 12 3 12 5 12 6 12 6 12 16 12 31 12 38 12 39 12 50 12 52 12 44 12 34 12 29 12 2 12-79 12-108 12-67 12-49 12-43 12-29 12-9 12 7 12 16 11 24 12 79 12 148 12 108 12-33 12-143 12-133 12-39 12-20 12-12 12-1 12 11 12 21 12 36 12 119 12 131 12 36 12-93 12-129 12-64 12-10 12-6 12-3 12 2 12 5 12 7 12 14 12 45 12 56 12 38 12-7 12-39 12-46 12-25 12 0 12 0 12 0 12 4 12 49 12 71 12 44 12 0 12-9 12-11 12-12 12-20 12-23 11-18 12-5 12 1 12 2 12 3 12 3 12 3 12 5 12 5 12 6 12 7 12 7 12 9 12 12 12 16 12 37 12 57 12 42 12-15 12-100 12-140 12-130 12-76 12-61 12-43 12-5 12 60 12 90 12 86 12 110 12 110 12 74 12 11 12-39 12-60 12-60 12-74 12-64 12-4 12 31 12 46 12 49 12 75 12 80 12 43 12-21 11-60 12-71 12-60 12-66 12-31 12 5 12 12 12 16 12 20 12 20 12 18 12 14 12 13 12 12 12 13 12 12 12 12 12 11 12 12 12 11 12 10 12 10 12 10 12 9" stroke="#EDB120"/>
<path d="M3120 1488l12-2 12-2 12-2 12-3 12-2 12-2 12-2 12-1 12-1 12-1 12-1 12 0 12 1 12 3 12 4 12 6 12 5 12 7 12 9 12 12 12 6 12-4 12-9 11-8 12-7 12-8 12-4 12-2 12-1 12 3 12 4 12 4 12 7 12 8 12 6 12-3 12-7 12-8 12-5 12-4 12-6 12-7 12-4 12-5 12-3 12-2 12 2 12 4 12 9 12 9 12 18 12 32 12 36 12 35 12 49 12 53 12 45 12 36 12 31 12 1 12-79 12-108 12-68 12-52 12-45 12-32 12-10 12 8 12 19 11 25 12 80 12 147 12 106 12-33 12-141 12-132 12-41 12-24 12-15 12-2 12 13 12 24 12 39 12 118 12 130 12 35 12-93 12-132 12-68 12-15 12-11 12-5 12 4 12 9 12 12 12 17 12 47 12 58 12 38 12-8 12-44 12-52 12-31 12-7 12-6 12-4 12 2 12 52 12 75 12 50 12 6 12 0 12-5 12-10 12-24 12-29 11-25 12-9 12-3 12-1 12 1 12 2 12 5 12 8 12 10 12 11 12 12 12 13 12 15 12 16 12 18 12 39 12 58 12 42 12-14 12-97 12-136 12-125 12-75 12-59 12-43 12-6 12 54 12 83 12 80 12 103 12 102 12 70 12 11 12-33 12-52 12-52 12-63 12-55 12-5 12 22 12 35 12 42 12 68 12 75 12 40 12-19 11-49 12-57 12-45 12-55 12-32 12-1 12 4 12 8 12 12 12 11 12 10 12 8 12 7 12 10 12 9 12 10 12 11 12 11 12 11 12 10 12 10 12 10 12 9 12 8" stroke="#D95319"/>
<path d="M3120 1472l12-1 12 0 12 0 12-1 12 0 12-1 12 0 12-1 12-1 12-2 12-1 12-1 12 0 12 2 12 6 12 6 12 8 12 9 12 11 12 13 12 7 12-3 12-11 11-11 12-8 12-9 12-4 12-2 12-2 12 2 12 3 12 5 12 7 12 10 12 7 12-1 12-7 12-7 12-5 12-4 12-7 12-8 12-5 12-4 12-3 12-2 12 1 12 5 12 7 12 9 12 17 12 31 12 34 12 33 12 47 12 54 12 45 12 37 12 32 12 2 12-78 12-108 12-67 12-52 12-45 12-31 12-10 12 8 12 19 11 26 12 79 12 147 12 107 12-33 12-140 12-132 12-41 12-23 12-15 12-1 12 12 12 24 12 38 12 118 12 128 12 34 12-96 12-134 12-73 12-19 12-16 12-6 12 4 12 12 12 16 12 21 12 50 12 60 12 39 12-6 12-45 12-52 12-32 12-8 12-8 12-7 12 1 12 51 12 76 12 51 12 8 12 3 12-2 12-9 12-22 12-29 11-24 12-8 12-2 12-2 12-1 12 1 12 2 12 6 12 7 12 9 12 11 12 14 12 16 12 18 12 21 12 40 12 58 12 43 12-13 12-96 12-134 12-124 12-74 12-59 12-43 12-7 12 54 12 81 12 78 12 100 12 99 12 68 12 11 12-31 12-50 12-49 12-59 12-53 12-5 12 20 12 32 12 40 12 67 12 73 12 39 12-18 11-46 12-54 12-42 12-52 12-31 12-2 12 1 12 8 12 11 12 12 12 9 12 7 12 7 12 8 12 8 12 7 12 8 12 8 12 8 12 9 12 8 12 8 12 8 12 8" stroke="#0072BD"/>
<path d="M3120 1477l12-2 12-2 12-2 12-2 12-2 12-1 12-1 12 0 12-1 12 0 12-1 12 0 12 1 12 2 12 6 12 6 12 7 12 9 12 11 12 12 12 7 12-5 12-9 11-11 12-11 12-11 12-5 12-2 12 0 12 4 12 5 12 6 12 9 12 9 12 7 12-2 12-6 12-7 12-4 12-5 12-8 12-8 12-6 12-5 12-4 12-3 12 1 12 5 12 9 12 9 12 18 12 31 12 36 12 34 12 47 12 54 12 45 12 37 12 30 12 2 12-78 12-108 12-68 12-52 12-46 12-32 12-9 12 8 12 19 11 26 12 80 12 147 12 106 12-32 12-141 12-131 12-42 12-24 12-15 12-2 12 13 12 24 12 38 12 119 12 128 12 35 12-95 12-133 12-71 12-19 12-14 12-7 12 4 12 10 12 15 12 18 12 49 12 59 12 39 12-8 12-45 12-54 12-33 12-7 12-7 12-4 12 4 12 54 12 77 12 53 12 9 12 2 12-3 12-10 12-23 12-29 11-25 12-10 12-4 12-3 12-2 12 0 12 2 12 6 12 9 12 11 12 12 12 15 12 16 12 18 12 21 12 40 12 58 12 42 12-14 12-95 12-134 12-124 12-74 12-59 12-42 12-7 12 52 12 80 12 77 12 101 12 99 12 70 12 13 12-30 12-50 12-49 12-60 12-54 12-5 12 21 12 33 12 40 12 66 12 73 12 38 12-18 11-47 12-54 12-41 12-51 12-31 12-3 12 1 12 7 12 10 12 11 12 9 12 5 12 7 12 7 12 7 12 8 12 8 12 8 12 10 12 9 12 10 12 9 12 10 12 10" stroke="#A2142F"/>
<path d="M3120 1447l12-3 12-4 12-3 12-3 12-3 12-3 12-1 12 0 12 0 12 1 12 1 12 3 12 4 12 7 12 11 12 12 12 13 12 13 12 17 12 19 12 10 12-7 12-16 11-18 12-15 12-15 12-7 12-4 12-1 12 3 12 6 12 7 12 11 12 14 12 10 12 1 12-3 12-5 12-4 12-7 12-11 12-11 12-8 12-8 12-7 12-5 12 0 12 5 12 10 12 11 12 19 12 31 12 34 12 32 12 47 12 55 12 46 12 39 12 31 12 2 12-77 12-108 12-69 12-52 12-48 12-33 12-10 12 8 12 19 11 27 12 80 12 145 12 104 12-32 12-139 12-131 12-44 12-26 12-17 12-2 12 15 12 27 12 40 12 119 12 128 12 34 12-94 12-135 12-74 12-21 12-17 12-8 12 4 12 13 12 17 12 21 12 50 12 60 12 39 12-8 12-48 12-57 12-37 12-12 12-11 12-9 12 2 12 54 12 79 12 55 12 13 12 9 12 1 12-8 12-25 12-33 11-29 12-12 12-6 12-5 12-2 12-1 12 4 12 8 12 11 12 13 12 16 12 18 12 20 12 21 12 23 12 42 12 58 12 43 12-13 12-94 12-131 12-122 12-72 12-58 12-43 12-8 12 49 12 77 12 73 12 95 12 94 12 65 12 12 12-26 12-45 12-43 12-52 12-48 12-5 12 14 12 26 12 35 12 63 12 70 12 38 12-16 11-39 12-47 12-33 12-43 12-32 12-7 12-4 12 3 12 6 12 6 12 4 12 1 12 2 12 3 12 4 12 4 12 6 12 6 12 8 12 8 12 8 12 9 12 9 12 10" stroke="#4DBEEE"/>
<path d="M3120 1393l12-3 12-2 12 0 12 0 12 0 12 2 12 4 12 4 12 3 12 4 12 4 12 4 12 5 12 9 12 13 12 16 12 16 12 18 12 23 12 28 12 13 12-10 12-25 11-25 12-23 12-23 12-11 12-7 12-3 12 4 12 7 12 10 12 16 12 20 12 16 12 6 12 1 12-3 12-3 12-9 12-15 12-16 12-11 12-11 12-9 12-6 12-1 12 4 12 12 12 12 12 19 12 31 12 32 12 27 12 46 12 55 12 48 12 40 12 33 12 1 12-77 12-107 12-71 12-54 12-50 12-35 12-11 12 9 12 22 11 30 12 80 12 146 12 104 12-30 12-136 12-130 12-44 12-28 12-18 12-3 12 15 12 26 12 40 12 116 12 124 12 32 12-98 12-141 12-80 12-29 12-23 12-9 12 10 12 21 12 24 12 27 12 55 12 63 12 41 12-9 12-51 12-62 12-42 12-18 12-19 12-14 12-1 12 54 12 82 12 60 12 19 12 17 12 8 12-7 12-28 12-38 11-33 12-17 12-9 12-7 12-4 12-1 12 6 12 12 12 17 12 18 12 20 12 24 12 25 12 24 12 24 12 43 12 59 12 41 12-13 12-92 12-128 12-118 12-71 12-57 12-42 12-10 12 44 12 69 12 68 12 88 12 88 12 62 12 13 12-21 12-38 12-35 12-43 12-40 12-5 12 5 12 14 12 29 12 58 12 65 12 36 12-12 11-29 12-35 12-21 12-34 12-31 12-13 12-10 12-6 12 0 12-1 12-4 12-5 12-3 12 2 12 3 12 5 12 8 12 9 12 11 12 11 12 11 12 10 12 9 12 8" stroke="#77AC30"/>
<path d="M3120 1380l12-1 12-1 12 0 12 0 12 0 12 1 12 2 12 3 12 3 12 3 12 4 12 5 12 6 12 11 12 16 12 18 12 19 12 21 12 25 12 31 12 16 12-12 12-28 11-29 12-25 12-24 12-13 12-7 12-3 12 4 12 8 12 9 12 18 12 21 12 17 12 8 12 2 12-2 12-3 12-9 12-17 12-18 12-13 12-12 12-11 12-7 12-3 12 5 12 12 12 13 12 19 12 30 12 31 12 24 12 44 12 57 12 49 12 41 12 35 12 4 12-76 12-105 12-68 12-53 12-47 12-34 12-10 12 9 12 21 11 28 12 79 12 143 12 102 12-34 12-138 12-132 12-46 12-32 12-21 12-2 12 17 12 30 12 43 12 117 12 126 12 33 12-97 12-140 12-81 12-32 12-27 12-13 12 6 12 19 12 25 12 27 12 56 12 65 12 43 12-7 12-51 12-61 12-41 12-15 12-16 12-12 12 0 12 55 12 81 12 59 12 19 12 16 12 8 12-7 12-29 12-39 11-35 12-16 12-10 12-7 12-5 12-1 12 5 12 11 12 15 12 16 12 20 12 23 12 26 12 26 12 26 12 44 12 59 12 43 12-13 12-89 12-126 12-116 12-70 12-56 12-42 12-11 12 42 12 66 12 65 12 83 12 84 12 59 12 15 12-17 12-32 12-31 12-39 12-39 12-5 12 6 12 16 12 30 12 58 12 64 12 34 12-17 11-30 12-35 12-16 12-33 12-32 12-13 12-12 12-10 12-3 12-4 12-4 12-5 12-1 12 2 12 3 12 4 12 5 12 6 12 6 12 6 12 5 12 5 12 5 12 6" stroke="#7E2F8E"/>
<path d="M3120 1352l12-2 12-1 12-1 12-1 12-1 12 0 12 3 12 3 12 4 12 5 12 6 12 7 12 10 12 14 12 21 12 22 12 23 12 25 12 30 12 37 12 19 12-16 12-34 11-35 12-30 12-30 12-16 12-10 12-4 12 5 12 11 12 12 12 21 12 25 12 21 12 10 12 5 12 1 12-3 12-12 12-19 12-23 12-16 12-15 12-14 12-10 12-4 12 6 12 15 12 16 12 22 12 32 12 32 12 25 12 45 12 58 12 49 12 41 12 34 12 2 12-77 12-108 12-71 12-56 12-52 12-37 12-12 12 9 12 23 11 30 12 80 12 143 12 102 12-31 12-135 12-130 12-46 12-32 12-21 12-3 12 18 12 31 12 43 12 117 12 124 12 33 12-99 12-142 12-84 12-35 12-29 12-14 12 9 12 23 12 27 12 30 12 58 12 66 12 43 12-8 12-53 12-65 12-44 12-20 12-20 12-16 12-1 12 54 12 83 12 61 12 22 12 20 12 12 12-6 12-32 12-45 11-41 12-21 12-13 12-11 12-6 12-1 12 6 12 16 12 21 12 22 12 25 12 30 12 30 12 30 12 28 12 46 12 59 12 43 12-12 12-89 12-125 12-114 12-69 12-56 12-42 12-11 12 39 12 64 12 62 12 81 12 82 12 57 12 14 12-15 12-31 12-28 12-34 12-34 12-5 12-2 12 4 12 21 12 50 12 57 12 29 12-12 11-16 12-20 12-2 12-27 12-31 12-16 12-17 12-13 12-5 12-6 12-6 12-7 12-4 12 1 12 1 12 2 12 3 12 5 12 6 12 7 12 6 12 7 12 6 12 7" stroke="#EDB120"/>
<path d="M3120 1350l12-3 12-5 12-4 12-5 12-5 12-2 12 1 12 3 12 5 12 6 12 9 12 12 12 13 12 17 12 24 12 24 12 23 12 25 12 33 12 40 12 18 12-17 12-36 11-37 12-35 12-34 12-18 12-10 12-3 12 8 12 13 12 16 12 23 12 27 12 20 12 9 12 8 12 3 12-3 12-14 12-22 12-23 12-16 12-17 12-15 12-11 12-4 12 6 12 15 12 17 12 21 12 33 12 31 12 22 12 44 12 56 12 48 12 41 12 33 12 1 12-78 12-107 12-72 12-56 12-51 12-36 12-10 12 13 12 26 11 33 12 82 12 144 12 103 12-31 12-136 12-131 12-48 12-34 12-23 12-4 12 17 12 31 12 44 12 117 12 124 12 34 12-97 12-141 12-82 12-33 12-29 12-14 12 6 12 20 12 25 12 27 12 55 12 64 12 41 12-11 12-56 12-69 12-47 12-20 12-21 12-13 12 4 12 60 12 88 12 65 12 25 12 23 12 12 12-6 12-32 12-45 11-41 12-22 12-14 12-11 12-7 12-1 12 6 12 16 12 20 12 22 12 24 12 29 12 30 12 29 12 28 12 45 12 58 12 42 12-13 12-87 12-122 12-111 12-68 12-55 12-41 12-12 12 38 12 63 12 62 12 82 12 83 12 58 12 14 12-15 12-32 12-28 12-33 12-34 12-5 12-3 12 5 12 21 12 50 12 58 12 31 12-12 11-16 12-21 12-4 12-23 12-31 12-18 12-20 12-15 12-9 12-9 12-11 12-12 12-7 12-2 12 0 12 1 12 4 12 7 12 8 12 9 12 8 12 7 12 7 12 6" stroke="#D95319"/>
<path d="M3120 1290l12-1 12-1 12-1 12 0 12-2 12 1 12 2 12 3 12 5 12 5 12 7 12 10 12 13 12 20 12 31 12 32 12 34 12 36 12 41 12 48 12 23 12-20 12-44 11-49 12-46 12-46 12-23 12-13 12-5 12 8 12 16 12 18 12 31 12 35 12 29 12 17 12 12 12 7 12-1 12-17 12-29 12-29 12-20 12-20 12-19 12-15 12-6 12 5 12 16 12 19 12 22 12 32 12 28 12 17 12 43 12 60 12 52 12 44 12 36 12 3 12-76 12-105 12-73 12-57 12-54 12-39 12-13 12 11 12 25 11 32 12 81 12 140 12 99 12-32 12-133 12-129 12-51 12-39 12-26 12-3 12 20 12 35 12 47 12 116 12 122 12 32 12-100 12-147 12-91 12-43 12-37 12-17 12 12 12 29 12 35 12 34 12 62 12 68 12 44 12-10 12-61 12-75 12-54 12-30 12-30 12-21 12-1 12 61 12 92 12 73 12 35 12 35 12 23 12-3 12-33 12-47 11-44 12-24 12-16 12-14 12-10 12-5 12 3 12 14 12 21 12 22 12 27 12 33 12 36 12 35 12 32 12 48 12 60 12 41 12-11 12-83 12-115 12-105 12-65 12-53 12-41 12-15 12 29 12 51 12 52 12 69 12 71 12 51 12 19 12-4 12-17 12-15 12-19 12-23 12-6 12-13 12-7 12 12 12 44 12 50 12 26 12-9 11-4 12-5 12 15 12-9 12-31 12-26 12-29 12-23 12-15 12-15 12-17 12-16 12-12 12-6 12-5 12-3 12-2 12 0 12 3 12 3 12 3 12 3 12 3 12 4" stroke="#0072BD"/>
<path d="M3120 1262l12-4 12-2 12-1 12 0 12 1 12 3 12 5 12 8 12 7 12 8 12 10 12 12 12 15 12 22 12 32 12 34 12 35 12 37 12 44 12 53 12 26 12-21 12-50 11-51 12-44 12-43 12-23 12-14 12-8 12 6 12 12 12 17 12 30 12 36 12 31 12 18 12 13 12 8 12-1 12-17 12-30 12-30 12-22 12-22 12-21 12-16 12-9 12 4 12 17 12 19 12 23 12 32 12 28 12 17 12 45 12 62 12 54 12 46 12 37 12 4 12-75 12-107 12-72 12-59 12-55 12-40 12-14 12 10 12 25 11 34 12 81 12 140 12 100 12-30 12-133 12-128 12-52 12-39 12-28 12-5 12 20 12 34 12 47 12 114 12 122 12 32 12-100 12-146 12-90 12-42 12-35 12-15 12 13 12 28 12 35 12 33 12 61 12 67 12 43 12-12 12-61 12-76 12-55 12-28 12-28 12-19 12 2 12 62 12 92 12 71 12 33 12 32 12 21 12-5 12-38 12-54 11-51 12-30 12-20 12-16 12-11 12-3 12 8 12 21 12 27 12 29 12 31 12 38 12 39 12 36 12 33 12 49 12 61 12 42 12-11 12-82 12-116 12-106 12-65 12-54 12-41 12-14 12 31 12 52 12 51 12 67 12 66 12 46 12 14 12-5 12-16 12-10 12-14 12-19 12-6 12-16 12-11 12 12 12 44 12 50 12 25 12-9 11-3 12-3 12 20 12-9 12-32 12-26 12-30 12-27 12-18 12-17 12-18 12-16 12-10 12-4 12-3 12-3 12-2 12 0 12 2 12 1 12 1 12 2 12 3 12 4" stroke="#A2142F"/>
<path d="M3120 1258l12 3 12 3 12 2 12 0 12 0 12 0 12 1 12 2 12 3 12 4 12 7 12 10 12 15 12 24 12 36 12 38 12 38 12 39 12 47 12 57 12 30 12-23 12-54 11-55 12-42 12-40 12-23 12-15 12-9 12 3 12 10 12 14 12 29 12 37 12 33 12 21 12 13 12 6 12-1 12-16 12-29 12-33 12-23 12-21 12-19 12-13 12-6 12 5 12 17 12 18 12 20 12 30 12 24 12 10 12 38 12 59 12 51 12 46 12 38 12 3 12-72 12-104 12-70 12-55 12-51 12-35 12-9 12 15 12 27 11 35 12 81 12 139 12 99 12-33 12-136 12-131 12-54 12-42 12-29 12-5 12 20 12 36 12 49 12 116 12 123 12 34 12-98 12-145 12-89 12-42 12-37 12-18 12 8 12 24 12 30 12 31 12 58 12 65 12 41 12-15 12-68 12-84 12-62 12-35 12-34 12-21 12 6 12 71 12 102 12 83 12 44 12 41 12 26 12-1 12-34 12-51 11-49 12-29 12-21 12-20 12-16 12-9 12 3 12 17 12 26 12 29 12 34 12 41 12 42 12 40 12 35 12 51 12 62 12 42 12-11 12-83 12-117 12-108 12-66 12-53 12-42 12-15 12 27 12 46 12 45 12 61 12 63 12 47 12 19 12 3 12-10 12-7 12-11 12-18 12-6 12-17 12-13 12 10 12 40 12 46 12 22 12-10 11 2 12 2 12 27 12-8 12-32 12-26 12-32 12-30 12-20 12-20 12-20 12-19 12-11 12-5 12-4 12-2 12 0 12 3 12 5 12 4 12 4 12 4 12 4 12 4" stroke="#4DBEEE"/>
<path d="M3120 1225l12 0 12 1 12 2 12 2 12 2 12 3 12 5 12 7 12 6 12 7 12 10 12 12 12 16 12 25 12 37 12 40 12 40 12 42 12 50 12 61 12 31 12-25 12-58 11-59 12-50 12-50 12-27 12-18 12-10 12 4 12 14 12 19 12 34 12 44 12 37 12 23 12 16 12 10 12 0 12-19 12-33 12-34 12-24 12-23 12-22 12-16 12-8 12 4 12 18 12 19 12 23 12 31 12 25 12 10 12 41 12 60 12 52 12 46 12 37 12 3 12-75 12-105 12-74 12-59 12-56 12-40 12-11 12 14 12 30 11 38 12 83 12 141 12 101 12-30 12-131 12-129 12-53 12-42 12-30 12-8 12 19 12 34 12 46 12 113 12 119 12 31 12-101 12-149 12-93 12-46 12-38 12-15 12 16 12 34 12 38 12 36 12 61 12 67 12 41 12-14 12-69 12-86 12-66 12-41 12-40 12-28 12 0 12 67 12 101 12 83 12 48 12 47 12 32 12 0 12-34 12-52 11-49 12-27 12-18 12-16 12-12 12-5 12 5 12 17 12 24 12 26 12 29 12 38 12 39 12 38 12 34 12 50 12 60 12 41 12-11 12-78 12-110 12-101 12-63 12-52 12-40 12-16 12 26 12 47 12 46 12 62 12 63 12 44 12 15 12-1 12-11 12-5 12-6 12-13 12-7 12-23 12-19 12 6 12 40 12 47 12 24 12-6 11 6 12 5 12 29 12 1 12-32 12-31 12-38 12-34 12-24 12-25 12-26 12-23 12-15 12-8 12-5 12-4 12-2 12 2 12 3 12 2 12 2 12 2 12 2 12 2" stroke="#77AC30"/>
<path d="M3120 1217l12 3 12 2 12 2 12 1 12 0 12 2 12 3 12 4 12 4 12 5 12 9 12 11 12 16 12 26 12 40 12 43 12 44 12 48 12 52 12 60 12 31 12-25 12-57 11-62 12-56 12-52 12-25 12-13 12-5 12 10 12 17 12 19 12 33 12 40 12 34 12 21 12 20 12 11 12-1 12-22 12-35 12-40 12-30 12-28 12-27 12-21 12-9 12 7 12 23 12 25 12 26 12 34 12 27 12 13 12 43 12 63 12 54 12 46 12 38 12 2 12-75 12-106 12-75 12-61 12-58 12-43 12-15 12 12 12 27 11 36 12 81 12 138 12 97 12-30 12-129 12-126 12-54 12-41 12-28 12-2 12 24 12 40 12 50 12 116 12 121 12 32 12-101 12-151 12-96 12-51 12-47 12-24 12 8 12 29 12 37 12 37 12 62 12 69 12 44 12-15 12-70 12-88 12-67 12-40 12-38 12-25 12 5 12 72 12 106 12 88 12 50 12 50 12 33 12 1 12-35 12-53 11-51 12-31 12-23 12-23 12-20 12-13 12-2 12 13 12 23 12 27 12 34 12 44 12 47 12 44 12 40 12 55 12 63 12 43 12-8 12-77 12-109 12-101 12-63 12-52 12-41 12-16 12 25 12 43 12 43 12 57 12 57 12 41 12 15 12 3 12-6 12-1 12 0 12-9 12-7 12-28 12-27 12 1 12 34 12 42 12 22 12-4 11 16 12 15 12 37 12 7 12-31 12-34 12-41 12-34 12-24 12-25 12-27 12-26 12-19 12-13 12-11 12-10 12-7 12-4 12 0 12 0 12 0 12 1 12 3 12 4" stroke="#7E2F8E"/>
<path d="M3120 1192l12 1 12 1 12 0 12-1 12-2 12-1 12 2 12 4 12 5 12 7 12 12 12 16 12 22 12 32 12 46 12 47 12 48 12 49 12 58 12 71 12 35 12-31 12-67 11-69 12-63 12-63 12-35 12-21 12-10 12 10 12 21 12 26 12 43 12 50 12 41 12 26 12 23 12 15 12 1 12-24 12-42 12-38 12-29 12-29 12-28 12-23 12-12 12 4 12 21 12 23 12 25 12 32 12 24 12 6 12 40 12 63 12 54 12 48 12 39 12 2 12-73 12-105 12-74 12-60 12-57 12-40 12-10 12 17 12 33 11 39 12 84 12 140 12 99 12-31 12-132 12-129 12-57 12-47 12-34 12-9 12 20 12 37 12 49 12 113 12 117 12 31 12-103 12-154 12-100 12-56 12-49 12-22 12 16 12 37 12 46 12 43 12 68 12 74 12 47 12-11 12-66 12-84 12-63 12-38 12-39 12-28 12-4 12 60 12 95 12 77 12 44 12 48 12 34 12 0 12-42 12-62 11-59 12-32 12-20 12-15 12-9 12 1 12 12 12 26 12 32 12 33 12 35 12 42 12 43 12 41 12 36 12 51 12 60 12 40 12-11 12-76 12-107 12-97 12-61 12-50 12-41 12-18 12 19 12 36 12 37 12 50 12 52 12 39 12 19 12 11 12 1 12 7 12 6 12-6 12-7 12-29 12-26 12 2 12 34 12 40 12 19 12-8 11 14 12 17 12 45 12 10 12-32 12-36 12-45 12-42 12-31 12-31 12-31 12-28 12-19 12-11 12-9 12-9 12-7 12-4 12-1 12-2 12-1 12 0 12 2 12 4" stroke="#EDB120"/>
<path d="M3120 1144l12 0 12 0 12 0 12 0 12 1 12 3 12 6 12 9 12 9 12 11 12 15 12 19 12 22 12 34 12 48 12 51 12 51 12 55 12 64 12 76 12 37 12-34 12-71 11-77 12-71 12-71 12-37 12-23 12-10 12 10 12 22 12 27 12 46 12 56 12 47 12 31 12 25 12 16 12 1 12-24 12-43 12-46 12-32 12-31 12-29 12-22 12-10 12 6 12 23 12 25 12 26 12 32 12 23 12 4 12 39 12 62 12 55 12 48 12 40 12 2 12-73 12-105 12-75 12-62 12-59 12-42 12-14 12 15 12 32 11 39 12 83 12 137 12 96 12-30 12-128 12-128 12-58 12-49 12-35 12-7 12 22 12 40 12 50 12 112 12 114 12 29 12-107 12-159 12-107 12-63 12-55 12-22 12 20 12 46 12 54 12 49 12 73 12 76 12 48 12-13 12-71 12-92 12-73 12-48 12-50 12-37 12-7 12 65 12 103 12 89 12 57 12 62 12 44 12 5 12-38 12-59 11-56 12-30 12-21 12-18 12-14 12-6 12 5 12 19 12 27 12 29 12 35 12 44 12 47 12 44 12 39 12 54 12 60 12 40 12-10 12-73 12-101 12-92 12-58 12-49 12-40 12-20 12 13 12 31 12 32 12 47 12 49 12 37 12 20 12 14 12 6 12 11 12 13 12 2 12-8 12-40 12-42 12-10 12 25 12 33 12 18 12 0 11 32 12 33 12 59 12 22 12-31 12-42 12-52 12-44 12-31 12-34 12-34 12-33 12-26 12-17 12-16 12-13 12-11 12-5 12-1 12-1 12 1 12 1 12 3 12 4" stroke="#D95319"/>
<path d="M3120 1154l12 1 12 0 12-1 12-2 12-3 12-2 12 1 12 5 12 6 12 8 12 13 12 19 12 24 12 37 12 51 12 55 12 54 12 57 12 66 12 79 12 38 12-34 12-75 11-78 12-71 12-71 12-38 12-24 12-12 12 9 12 22 12 28 12 47 12 58 12 47 12 32 12 27 12 17 12 1 12-25 12-45 12-45 12-32 12-32 12-31 12-24 12-13 12 4 12 23 12 25 12 26 12 33 12 23 12 5 12 40 12 66 12 58 12 51 12 41 12 4 12-73 12-105 12-76 12-63 12-61 12-46 12-18 12 11 12 29 11 37 12 81 12 134 12 94 12-29 12-125 12-125 12-57 12-46 12-30 12-2 12 27 12 44 12 52 12 114 12 117 12 30 12-107 12-159 12-109 12-68 12-61 12-32 12 12 12 40 12 51 12 48 12 74 12 78 12 50 12-10 12-69 12-88 12-66 12-38 12-39 12-26 12 2 12 68 12 103 12 84 12 50 12 52 12 36 12 0 12-44 12-67 11-66 12-41 12-31 12-28 12-21 12-11 12 7 12 25 12 36 12 39 12 45 12 54 12 56 12 49 12 43 12 56 12 62 12 41 12-11 12-75 12-104 12-94 12-59 12-50 12-40 12-21 12 10 12 26 12 28 12 41 12 47 12 39 12 27 12 21 12 12 12 14 12 12 12 0 12-8 12-34 12-35 12-6 12 27 12 34 12 15 12-6 11 26 12 29 12 58 12 23 12-32 12-43 12-52 12-47 12-34 12-36 12-36 12-35 12-27 12-19 12-17 12-15 12-13 12-8 12-3 12-2 12 0 12 1 12 3 12 5" stroke="#0072BD"/>
<path d="M3120 1096l12 0 12 1 12 2 12 2 12 3 12 6 12 9 12 11 12 12 12 13 12 16 12 21 12 25 12 37 12 52 12 56 12 56 12 59 12 69 12 83 12 41 12-35 12-80 11-82 12-69 12-66 12-34 12-20 12-11 12 9 12 19 12 24 12 43 12 54 12 46 12 32 12 28 12 17 12 1 12-26 12-45 12-48 12-35 12-33 12-32 12-26 12-15 12 4 12 22 12 25 12 25 12 32 12 18 12-2 12 37 12 67 12 59 12 53 12 44 12 6 12-70 12-101 12-74 12-60 12-58 12-42 12-14 12 15 12 31 11 39 12 82 12 137 12 96 12-29 12-127 12-126 12-56 12-45 12-32 12-5 12 24 12 40 12 49 12 111 12 113 12 25 12-110 12-165 12-115 12-74 12-68 12-33 12 16 12 46 12 58 12 53 12 78 12 80 12 52 12-11 12-72 12-93 12-73 12-48 12-49 12-35 12-3 12 68 12 107 12 93 12 61 12 64 12 46 12 6 12-38 12-60 11-57 12-33 12-25 12-23 12-20 12-12 12 0 12 16 12 26 12 30 12 37 12 49 12 54 12 49 12 44 12 57 12 63 12 42 12-8 12-71 12-100 12-92 12-58 12-50 12-40 12-20 12 11 12 26 12 28 12 41 12 45 12 37 12 24 12 20 12 12 12 15 12 15 12 2 12-8 12-37 12-40 12-9 12 23 12 29 12 11 12-6 11 31 12 37 12 68 12 21 12-32 12-41 12-54 12-52 12-38 12-39 12-39 12-35 12-27 12-17 12-15 12-13 12-9 12-5 12 0 12 1 12 3 12 5 12 6 12 8" stroke="#A2142F"/>
<path d="M3120 1056l12-3 12-3 12-1 12 0 12 1 12 6 12 11 12 14 12 16 12 17 12 21 12 26 12 30 12 42 12 59 12 60 12 60 12 63 12 76 12 92 12 43 12-40 12-87 11-89 12-77 12-74 12-38 12-23 12-11 12 10 12 22 12 27 12 48 12 59 12 51 12 35 12 30 12 19 12 2 12-28 12-48 12-52 12-37 12-36 12-33 12-26 12-13 12 6 12 25 12 27 12 26 12 32 12 19 12-4 12 36 12 65 12 57 12 52 12 43 12 4 12-72 12-102 12-76 12-62 12-61 12-44 12-13 12 16 12 34 11 41 12 84 12 135 12 95 12-29 12-125 12-126 12-59 12-50 12-35 12-6 12 25 12 43 12 51 12 112 12 113 12 28 12-109 12-163 12-113 12-72 12-64 12-30 12 17 12 48 12 56 12 53 12 75 12 78 12 50 12-14 12-76 12-99 12-78 12-53 12-55 12-39 12-4 12 69 12 109 12 95 12 64 12 69 12 50 12 6 12-44 12-68 11-65 12-40 12-28 12-26 12-18 12-8 12 8 12 27 12 38 12 40 12 45 12 55 12 56 12 51 12 43 12 56 12 61 12 40 12-11 12-73 12-99 12-90 12-57 12-48 12-40 12-22 12 6 12 21 12 24 12 37 12 42 12 35 12 25 12 23 12 15 12 20 12 23 12 8 12-8 12-47 12-52 12-17 12 19 12 27 12 14 12 2 11 43 12 46 12 72 12 33 12-31 12-48 12-60 12-52 12-41 12-43 12-45 12-41 12-33 12-21 12-18 12-14 12-8 12-1 12 4 12 6 12 6 12 6 12 4 12 4" stroke="#4DBEEE"/>
<path d="M3120 1045l12-6 12-5 12-5 12-3 12-3 12 1 12 8 12 12 12 15 12 17 12 23 12 28 12 33 12 47 12 65 12 66 12 66 12 69 12 81 12 95 12 44 12-42 12-90 11-94 12-82 12-79 12-39 12-22 12-10 12 12 12 23 12 28 12 50 12 61 12 52 12 38 12 32 12 20 12 2 12-29 12-50 12-55 12-39 12-37 12-33 12-25 12-11 12 8 12 27 12 28 12 26 12 31 12 18 12-5 12 34 12 62 12 56 12 51 12 41 12 3 12-72 12-102 12-77 12-64 12-62 12-46 12-15 12 16 12 34 11 42 12 83 12 133 12 93 12-28 12-123 12-124 12-59 12-50 12-32 12-2 12 30 12 46 12 54 12 113 12 114 12 27 12-110 12-165 12-118 12-79 12-71 12-37 12 16 12 48 12 60 12 57 12 79 12 83 12 53 12-10 12-75 12-96 12-78 12-53 12-58 12-44 12-11 12 63 12 104 12 92 12 65 12 73 12 54 12 8 12-45 12-69 11-67 12-40 12-29 12-27 12-22 12-12 12 4 12 23 12 35 12 39 12 46 12 60 12 63 12 57 12 49 12 61 12 65 12 44 12-7 12-69 12-98 12-90 12-58 12-49 12-40 12-22 12 6 12 18 12 20 12 29 12 34 12 29 12 25 12 28 12 22 12 27 12 29 12 13 12-9 12-49 12-53 12-18 12 15 12 22 12 8 12-2 11 46 12 53 12 85 12 33 12-32 12-47 12-62 12-57 12-43 12-44 12-45 12-42 12-33 12-25 12-22 12-21 12-15 12-10 12-2 12 0 12 4 12 6 12 8 12 12" stroke="#77AC30"/>
<path d="M3120 1011l12 0 12 1 12 4 12 4 12 5 12 8 12 12 12 14 12 14 12 15 12 20 12 24 12 29 12 44 12 63 12 67 12 67 12 71 12 81 12 97 12 48 12-42 12-93 11-96 12-78 12-76 12-40 12-26 12-17 12 6 12 19 12 27 12 52 12 66 12 57 12 40 12 32 12 22 12 3 12-29 12-52 12-52 12-38 12-37 12-36 12-30 12-17 12 2 12 24 12 27 12 27 12 33 12 19 12-3 12 40 12 70 12 63 12 55 12 45 12 4 12-72 12-104 12-79 12-66 12-67 12-50 12-19 12 13 12 33 11 43 12 85 12 135 12 96 12-25 12-121 12-124 12-58 12-50 12-37 12-7 12 23 12 42 12 50 12 109 12 111 12 27 12-109 12-163 12-112 12-69 12-57 12-21 12 25 12 52 12 57 12 50 12 72 12 75 12 44 12-19 12-83 12-108 12-87 12-60 12-58 12-39 12 1 12 78 12 118 12 103 12 70 12 71 12 51 12 4 12-48 12-75 11-75 12-49 12-38 12-33 12-23 12-9 12 12 12 35 12 47 12 50 12 53 12 62 12 61 12 53 12 44 12 56 12 60 12 38 12-12 12-71 12-96 12-87 12-56 12-47 12-39 12-23 12 6 12 21 12 25 12 37 12 40 12 30 12 18 12 19 12 14 12 23 12 31 12 16 12-8 12-56 12-61 12-20 12 20 12 30 12 19 12 8 11 47 12 47 12 73 12 42 12-33 12-53 12-63 12-59 12-46 12-49 12-50 12-44 12-31 12-18 12-14 12-9 12-5 12 0 12 2 12-1 12-3 12-5 12-7 12-7" stroke="#7E2F8E"/>
<path d="M3120 1003l12-1 12 0 12 1 12 1 12 2 12 6 12 10 12 14 12 14 12 16 12 21 12 26 12 32 12 47 12 66 12 69 12 70 12 74 12 84 12 97 12 47 12-42 12-93 11-99 12-87 12-82 12-42 12-24 12-11 12 10 12 24 12 30 12 52 12 66 12 57 12 40 12 35 12 23 12 3 12-31 12-54 12-57 12-40 12-38 12-36 12-29 12-15 12 5 12 26 12 28 12 26 12 31 12 16 12-8 12 34 12 67 12 60 12 54 12 45 12 5 12-70 12-101 12-77 12-63 12-63 12-47 12-15 12 16 12 34 11 42 12 83 12 133 12 93 12-28 12-123 12-125 12-60 12-52 12-36 12-5 12 27 12 45 12 54 12 110 12 111 12 26 12-112 12-168 12-120 12-81 12-72 12-33 12 20 12 53 12 64 12 57 12 80 12 81 12 51 12-15 12-82 12-107 12-88 12-62 12-64 12-46 12-5 12 73 12 118 12 106 12 77 12 83 12 59 12 11 12-42 12-68 11-66 12-40 12-31 12-30 12-25 12-14 12 1 12 22 12 35 12 40 12 48 12 60 12 64 12 57 12 49 12 59 12 64 12 42 12-9 12-69 12-96 12-87 12-56 12-48 12-39 12-25 12-2 12 10 12 11 12 23 12 28 12 27 12 29 12 36 12 31 12 35 12 38 12 18 12-9 12-55 12-61 12-23 12 12 12 20 12 8 12 3 11 54 12 59 12 90 12 41 12-31 12-52 12-66 12-58 12-43 12-44 12-45 12-42 12-34 12-24 12-23 12-21 12-16 12-11 12-4 12-2 12-1 12 1 12 2 12 4" stroke="#EDB120"/>
<path d="M3120 1017l12 2 12 2 12 1 12-1 12-2 12 0 12 4 12 8 12 10 12 13 12 20 12 27 12 34 12 50 12 70 12 73 12 71 12 73 12 86 12 105 12 51 12-46 12-100 11-102 12-85 12-86 12-47 12-29 12-16 12 10 12 26 12 33 12 58 12 69 12 58 12 41 12 36 12 24 12 3 12-32 12-55 12-58 12-42 12-41 12-40 12-30 12-14 12 8 12 29 12 32 12 29 12 34 12 19 12-6 12 34 12 64 12 56 12 50 12 41 12 1 12-72 12-104 12-78 12-64 12-62 12-43 12-11 12 21 12 39 11 46 12 84 12 135 12 93 12-31 12-126 12-129 12-65 12-57 12-42 12-9 12 27 12 47 12 57 12 112 12 114 12 29 12-108 12-164 12-116 12-77 12-69 12-33 12 18 12 51 12 62 12 57 12 79 12 83 12 52 12-12 12-77 12-101 12-82 12-59 12-63 12-50 12-16 12 61 12 104 12 96 12 70 12 81 12 61 12 11 12-44 12-70 11-65 12-35 12-24 12-22 12-18 12-9 12 5 12 21 12 31 12 34 12 42 12 56 12 61 12 56 12 49 12 61 12 65 12 43 12-7 12-64 12-93 12-85 12-55 12-47 12-40 12-23 12 2 12 16 12 17 12 27 12 32 12 27 12 25 12 30 12 25 12 30 12 34 12 17 12-9 12-56 12-64 12-27 12 9 12 17 12 8 12 4 11 59 12 64 12 93 12 43 12-31 12-53 12-67 12-56 12-43 12-45 12-49 12-47 12-41 12-32 12-31 12-28 12-21 12-13 12-4 12 0 12 5 12 7 12 11 12 12" stroke="#D95319"/>
<path d="M3120 993l12 1 12 1 12 0 12 1 12 1 12 4 12 9 12 13 12 14 12 17 12 22 12 28 12 34 12 49 12 68 12 71 12 71 12 74 12 89 12 107 12 52 12-47 12-103 11-106 12-93 12-93 12-50 12-32 12-16 12 11 12 27 12 34 12 61 12 76 12 63 12 46 12 39 12 26 12 4 12-33 12-59 12-61 12-43 12-41 12-40 12-31 12-17 12 5 12 27 12 30 12 28 12 31 12 15 12-12 12 33 12 67 12 60 12 55 12 46 12 4 12-70 12-102 12-78 12-65 12-65 12-48 12-15 12 19 12 37 11 45 12 84 12 133 12 92 12-27 12-122 12-125 12-63 12-56 12-40 12-7 12 29 12 47 12 55 12 110 12 110 12 26 12-111 12-170 12-123 12-85 12-75 12-35 12 22 12 57 12 67 12 61 12 82 12 84 12 52 12-14 12-82 12-108 12-88 12-63 12-66 12-49 12-9 12 70 12 114 12 104 12 76 12 85 12 63 12 10 12-48 12-75 11-74 12-45 12-34 12-31 12-24 12-13 12 4 12 25 12 39 12 42 12 50 12 64 12 68 12 61 12 52 12 63 12 65 12 43 12-6 12-63 12-89 12-82 12-54 12-46 12-39 12-24 12-1 12 12 12 12 12 20 12 21 12 17 12 20 12 32 12 32 12 41 12 49 12 28 12-9 12-65 12-70 12-26 12 14 12 22 12 12 12 7 11 57 12 62 12 94 12 52 12-33 12-58 12-73 12-67 12-53 12-56 12-56 12-51 12-38 12-25 12-22 12-17 12-13 12-6 12-1 12-1 12-1 12-1 12 0 12 0" stroke="#0072BD"/>
<path d="M3120 981l12-1 12-1 12-1 12-1 12 1 12 4 12 10 12 14 12 16 12 19 12 25 12 31 12 36 12 50 12 70 12 72 12 71 12 75 12 91 12 112 12 53 12-49 12-107 11-110 12-99 12-100 12-54 12-34 12-15 12 15 12 30 12 39 12 65 12 78 12 65 12 46 12 43 12 29 12 5 12-37 12-64 12-63 12-47 12-46 12-44 12-36 12-19 12 5 12 31 12 33 12 30 12 33 12 15 12-13 12 34 12 68 12 61 12 56 12 45 12 3 12-71 12-102 12-80 12-67 12-66 12-48 12-14 12 21 12 40 11 49 12 86 12 134 12 93 12-27 12-122 12-125 12-65 12-59 12-44 12-10 12 27 12 47 12 55 12 108 12 108 12 26 12-112 12-171 12-124 12-86 12-76 12-34 12 23 12 59 12 69 12 61 12 82 12 83 12 51 12-16 12-87 12-113 12-92 12-64 12-66 12-45 12-2 12 78 12 121 12 108 12 79 12 85 12 63 12 7 12-51 12-83 11-82 12-53 12-41 12-37 12-28 12-12 12 10 12 35 12 49 12 53 12 58 12 71 12 71 12 62 12 52 12 61 12 63 12 39 12-10 12-65 12-88 12-79 12-52 12-45 12-39 12-27 12-8 12 2 12 8 12 18 12 25 12 25 12 30 12 40 12 35 12 41 12 47 12 27 12-10 12-65 12-75 12-31 12 6 12 15 12 8 12 8 11 66 12 72 12 103 12 58 12-32 12-62 12-77 12-70 12-56 12-60 12-63 12-59 12-48 12-34 12-30 12-24 12-16 12-7 12 3 12 6 12 9 12 10 12 11 12 11" stroke="#A2142F"/>
<path d="M3120 980l12 3 12 3 12 2 12 3 12 2 12 3 12 9 12 11 12 12 12 14 12 21 12 27 12 34 12 50 12 70 12 75 12 74 12 77 12 92 12 112 12 56 12-48 12-108 11-112 12-95 12-97 12-55 12-36 12-19 12 9 12 28 12 37 12 65 12 81 12 68 12 48 12 43 12 30 12 5 12-37 12-64 12-64 12-47 12-47 12-45 12-37 12-21 12 5 12 31 12 35 12 31 12 35 12 17 12-9 12 36 12 71 12 62 12 55 12 45 12 2 12-72 12-105 12-82 12-69 12-70 12-52 12-17 12 19 12 40 11 48 12 86 12 133 12 93 12-26 12-119 12-123 12-65 12-58 12-43 12-7 12 29 12 48 12 57 12 110 12 110 12 28 12-111 12-169 12-123 12-86 12-76 12-38 12 20 12 54 12 66 12 59 12 80 12 83 12 51 12-16 12-87 12-113 12-91 12-65 12-65 12-46 12-3 12 76 12 120 12 107 12 80 12 88 12 64 12 9 12-51 12-81 11-79 12-50 12-37 12-34 12-26 12-13 12 7 12 29 12 43 12 47 12 54 12 68 12 71 12 63 12 54 12 63 12 65 12 42 12-6 12-62 12-86 12-79 12-52 12-46 12-39 12-26 12-6 12 5 12 7 12 15 12 20 12 19 12 26 12 40 12 37 12 44 12 52 12 29 12-10 12-67 12-76 12-33 12 4 12 11 12 4 12 5 11 69 12 78 12 111 12 55 12-31 12-60 12-76 12-70 12-53 12-55 12-55 12-52 12-43 12-32 12-30 12-27 12-23 12-14 12-7 12-3 12-1 12 4 12 6 12 9" stroke="#4DBEEE"/>
<path d="M3120 970l12 2 12 2 12 2 12 2 12 3 12 5 12 10 12 13 12 15 12 17 12 22 12 29 12 34 12 50 12 69 12 74 12 74 12 77 12 92 12 112 12 55 12-48 12-108 11-113 12-100 12-99 12-55 12-34 12-16 12 13 12 30 12 39 12 65 12 80 12 66 12 47 12 45 12 31 12 5 12-38 12-66 12-65 12-48 12-47 12-47 12-37 12-21 12 5 12 32 12 34 12 32 12 34 12 16 12-13 12 36 12 70 12 62 12 56 12 45 12 3 12-71 12-104 12-82 12-69 12-70 12-52 12-18 12 19 12 40 11 48 12 86 12 131 12 92 12-26 12-118 12-123 12-66 12-59 12-42 12-7 12 30 12 51 12 58 12 110 12 110 12 27 12-111 12-170 12-125 12-87 12-78 12-38 12 21 12 56 12 68 12 61 12 82 12 84 12 53 12-16 12-86 12-112 12-90 12-64 12-65 12-46 12-5 12 74 12 117 12 105 12 78 12 86 12 65 12 7 12-53 12-85 11-83 12-52 12-39 12-35 12-24 12-11 12 11 12 34 12 47 12 50 12 56 12 69 12 71 12 63 12 53 12 62 12 63 12 40 12-7 12-61 12-84 12-77 12-50 12-45 12-38 12-27 12-9 12 2 12 6 12 14 12 19 12 19 12 26 12 42 12 39 12 46 12 54 12 31 12-10 12-68 12-76 12-31 12 6 12 14 12 5 12 5 11 66 12 75 12 110 12 59 12-33 12-61 12-79 12-73 12-57 12-58 12-57 12-52 12-39 12-27 12-24 12-22 12-18 12-11 12-7 12-6 12-5 12-5 12-2 12 0" stroke="#77AC30"/>
<path d="M3120 986l12 3 12 1 12 2 12 1 12 0 12 2 12 7 12 10 12 12 12 14 12 20 12 28 12 33 12 50 12 70 12 75 12 76 12 79 12 92 12 110 12 56 12-46 12-107 11-113 12-96 12-95 12-51 12-32 12-16 12 10 12 26 12 34 12 61 12 78 12 67 12 49 12 43 12 28 12 5 12-36 12-63 12-68 12-49 12-46 12-45 12-34 12-19 12 6 12 32 12 33 12 30 12 32 12 14 12-16 12 33 12 69 12 63 12 57 12 47 12 6 12-69 12-101 12-78 12-66 12-66 12-49 12-16 12 18 12 37 11 45 12 82 12 129 12 88 12-30 12-121 12-125 12-68 12-62 12-44 12-6 12 33 12 53 12 60 12 112 12 112 12 29 12-110 12-169 12-123 12-85 12-77 12-37 12 21 12 56 12 67 12 60 12 81 12 83 12 51 12-16 12-88 12-115 12-95 12-69 12-72 12-53 12-9 12 71 12 118 12 108 12 82 12 93 12 69 12 11 12-52 12-83 11-81 12-48 12-35 12-29 12-20 12-6 12 14 12 36 12 49 12 49 12 54 12 66 12 68 12 59 12 50 12 60 12 61 12 38 12-10 12-62 12-85 12-75 12-51 12-43 12-39 12-27 12-10 12 1 12 8 12 17 12 24 12 24 12 28 12 40 12 36 12 42 12 50 12 30 12-10 12-70 12-80 12-36 12 3 12 11 12 6 12 9 11 73 12 79 12 111 12 61 12-31 12-63 12-80 12-72 12-56 12-61 12-62 12-58 12-48 12-36 12-32 12-27 12-21 12-11 12-2 12 2 12 5 12 7 12 11 12 13" stroke="#7E2F8E"/>
<path d="M3120 973l12 0 12 0 12 0 12 0 12-1 12 3 12 9 12 12 12 15 12 18 12 24 12 30 12 37 12 51 12 71 12 75 12 74 12 79 12 95 12 117 12 57 12-51 12-112 11-118 12-107 12-108 12-61 12-38 12-18 12 14 12 34 12 41 12 72 12 86 12 71 12 52 12 47 12 34 12 5 12-40 12-69 12-69 12-50 12-50 12-50 12-40 12-23 12 4 12 32 12 35 12 32 12 34 12 13 12-16 12 35 12 74 12 65 12 61 12 48 12 6 12-70 12-102 12-80 12-69 12-70 12-54 12-20 12 16 12 37 11 47 12 83 12 128 12 88 12-26 12-116 12-121 12-66 12-60 12-40 12-4 12 34 12 54 12 59 12 111 12 109 12 26 12-115 12-175 12-131 12-96 12-89 12-44 12 19 12 59 12 73 12 66 12 87 12 87 12 55 12-15 12-89 12-116 12-96 12-69 12-70 12-50 12-5 12 77 12 122 12 112 12 86 12 94 12 70 12 11 12-54 12-87 11-86 12-55 12-43 12-39 12-31 12-15 12 7 12 33 12 49 12 53 12 61 12 76 12 79 12 68 12 58 12 66 12 65 12 42 12-7 12-59 12-84 12-76 12-51 12-44 12-39 12-28 12-13 12-5 12-1 12 4 12 10 12 14 12 28 12 49 12 49 12 56 12 63 12 38 12-11 12-73 12-82 12-35 12 4 12 10 12 4 12 5 11 72 12 81 12 120 12 64 12-33 12-64 12-84 12-81 12-64 12-66 12-63 12-57 12-42 12-26 12-23 12-19 12-14 12-7 12-2 12-3 12-3 12-4 12-3 12-3" stroke="#EDB120"/>
<path d="M3120 956l12 2 12 2 12 3 12 2 12 3 12 6 12 11 12 14 12 15 12 18 12 23 12 29 12 36 12 50 12 70 12 74 12 75 12 80 12 95 12 115 12 57 12-49 12-111 11-118 12-105 12-105 12-58 12-35 12-15 12 14 12 32 12 39 12 68 12 83 12 69 12 51 12 48 12 33 12 6 12-41 12-69 12-69 12-51 12-49 12-48 12-38 12-22 12 5 12 32 12 34 12 31 12 33 12 12 12-19 12 32 12 71 12 64 12 59 12 48 12 5 12-69 12-102 12-80 12-69 12-69 12-53 12-18 12 18 12 39 11 48 12 84 12 128 12 88 12-27 12-117 12-123 12-68 12-62 12-43 12-5 12 35 12 54 12 62 12 111 12 110 12 28 12-111 12-172 12-127 12-91 12-83 12-40 12 20 12 57 12 70 12 62 12 84 12 85 12 52 12-17 12-91 12-118 12-98 12-71 12-71 12-49 12-3 12 79 12 125 12 114 12 87 12 95 12 70 12 10 12-54 12-86 11-87 12-57 12-46 12-43 12-35 12-20 12 3 12 30 12 48 12 53 12 62 12 79 12 82 12 71 12 60 12 68 12 66 12 43 12-6 12-58 12-83 12-75 12-50 12-44 12-39 12-29 12-13 12-6 12-4 12 3 12 7 12 13 12 28 12 51 12 51 12 59 12 65 12 39 12-11 12-72 12-80 12-32 12 7 12 14 12 6 12 5 11 67 12 77 12 114 12 68 12-34 12-66 12-85 12-81 12-65 12-66 12-66 12-57 12-43 12-26 12-22 12-17 12-11 12-5 12 0 12-1 12-2 12-4 12-5 12-5" stroke="#D95319"/>
<path d="M3120 953l12 0 12 1 12 1 12 2 12 2 12 6 12 11 12 15 12 17 12 19 12 24 12 30 12 36 12 50 12 70 12 75 12 76 12 80 12 99 12 120 12 60 12-52 12-116 11-124 12-113 12-114 12-63 12-39 12-17 12 15 12 34 12 42 12 73 12 89 12 76 12 56 12 51 12 35 12 5 12-41 12-72 12-76 12-55 12-54 12-50 12-41 12-21 12 6 12 35 12 37 12 32 12 33 12 11 12-23 12 30 12 71 12 65 12 60 12 49 12 5 12-68 12-100 12-81 12-68 12-69 12-52 12-16 12 21 12 41 11 50 12 84 12 128 12 88 12-27 12-118 12-123 12-69 12-65 12-46 12-6 12 33 12 55 12 61 12 109 12 106 12 26 12-116 12-178 12-136 12-102 12-94 12-47 12 21 12 64 12 78 12 70 12 90 12 90 12 56 12-16 12-93 12-121 12-102 12-74 12-76 12-55 12-7 12 78 12 125 12 117 12 92 12 104 12 77 12 13 12-55 12-89 11-89 12-54 12-42 12-37 12-28 12-13 12 9 12 34 12 50 12 52 12 60 12 75 12 79 12 69 12 58 12 66 12 64 12 41 12-7 12-55 12-76 12-70 12-48 12-42 12-38 12-29 12-16 12-8 12-3 12 3 12 7 12 11 12 26 12 49 12 50 12 59 12 71 12 45 12-11 12-84 12-96 12-44 12-4 12 5 12 2 12 11 11 86 12 96 12 134 12 73 12-33 12-69 12-90 12-87 12-68 12-71 12-70 12-62 12-48 12-32 12-27 12-23 12-17 12-9 12-2 12-2 12-2 12-2 12-1 12-1" stroke="#0072BD"/>
<path d="M3120 940l12-2 12-1 12 0 12 1 12 2 12 6 12 12 12 16 12 18 12 21 12 26 12 33 12 37 12 52 12 72 12 76 12 77 12 82 12 101 12 125 12 61 12-53 12-120 11-129 12-116 12-120 12-68 12-42 12-19 12 15 12 35 12 45 12 77 12 94 12 80 12 60 12 53 12 37 12 6 12-43 12-75 12-78 12-56 12-54 12-51 12-41 12-22 12 6 12 35 12 38 12 31 12 33 12 9 12-25 12 29 12 71 12 64 12 60 12 49 12 4 12-68 12-101 12-81 12-71 12-71 12-53 12-17 12 22 12 44 11 51 12 86 12 129 12 88 12-26 12-116 12-122 12-70 12-66 12-47 12-9 12 33 12 54 12 60 12 107 12 104 12 23 12-118 12-181 12-140 12-106 12-94 12-43 12 29 12 73 12 86 12 75 12 94 12 92 12 57 12-15 12-93 12-124 12-105 12-81 12-86 12-65 12-17 12 71 12 122 12 117 12 96 12 111 12 85 12 16 12-56 12-92 11-90 12-54 12-41 12-36 12-26 12-12 12 11 12 37 12 51 12 54 12 62 12 77 12 81 12 71 12 59 12 67 12 64 12 40 12-7 12-54 12-75 12-67 12-47 12-41 12-38 12-31 12-21 12-13 12-9 12-2 12 4 12 10 12 30 12 55 12 56 12 65 12 75 12 47 12-11 12-86 12-101 12-47 12-9 12 0 12-2 12 12 11 92 12 104 12 142 12 79 12-33 12-72 12-93 12-89 12-70 12-72 12-71 12-65 12-51 12-36 12-33 12-28 12-22 12-13 12-6 12-4 12-2 12 1 12 2 12 5" stroke="#A2142F"/>
<path d="M3120 933l12 2 12 4 12 4 12 4 12 5 12 6 12 12 12 14 12 16 12 17 12 22 12 29 12 35 12 50 12 72 12 77 12 79 12 86 12 101 12 124 12 64 12-52 12-120 11-131 12-117 12-118 12-68 12-44 12-22 12 13 12 32 12 44 12 78 12 97 12 83 12 62 12 55 12 38 12 8 12-44 12-78 12-77 12-55 12-54 12-53 12-43 12-26 12 2 12 33 12 36 12 30 12 32 12 7 12-28 12 29 12 76 12 69 12 65 12 52 12 8 12-66 12-100 12-80 12-70 12-72 12-55 12-20 12 19 12 41 11 51 12 84 12 126 12 87 12-26 12-114 12-121 12-71 12-67 12-48 12-8 12 34 12 55 12 61 12 106 12 103 12 24 12-118 12-181 12-139 12-104 12-92 12-40 12 32 12 74 12 85 12 73 12 92 12 90 12 54 12-19 12-99 12-131 12-112 12-87 12-90 12-66 12-12 12 79 12 131 12 126 12 104 12 115 12 87 12 16 12-56 12-93 11-93 12-60 12-47 12-44 12-33 12-18 12 9 12 37 12 55 12 59 12 68 12 84 12 87 12 75 12 62 12 68 12 65 12 40 12-7 12-55 12-75 12-68 12-46 12-42 12-38 12-32 12-23 12-18 12-12 12-7 12 0 12 9 12 32 12 59 12 61 12 68 12 80 12 51 12-12 12-88 12-102 12-48 12-7 12 2 12 0 12 12 11 92 12 103 12 141 12 84 12-34 12-75 12-96 12-93 12-75 12-77 12-77 12-68 12-52 12-34 12-29 12-22 12-16 12-6 12 0 12 0 12-1 12-2 12-2 12-1" stroke="#4DBEEE"/>
<path d="M3120 939l12-4 12-3 12-2 12-1 12 0 12 6 12 12 12 17 12 20 12 23 12 29 12 34 12 39 12 52 12 72 12 76 12 76 12 83 12 102 12 126 12 60 12-55 12-120 11-131 12-124 12-126 12-70 12-40 12-15 12 21 12 40 12 48 12 78 12 94 12 79 12 59 12 56 12 39 12 6 12-46 12-77 12-82 12-60 12-57 12-55 12-44 12-23 12 8 12 37 12 40 12 34 12 33 12 9 12-26 12 29 12 73 12 66 12 62 12 51 12 5 12-67 12-100 12-82 12-70 12-73 12-55 12-19 12 19 12 41 11 50 12 84 12 124 12 85 12-25 12-114 12-120 12-71 12-66 12-46 12-4 12 38 12 58 12 63 12 109 12 105 12 24 12-118 12-183 12-142 12-110 12-101 12-50 12 23 12 69 12 85 12 75 12 94 12 93 12 58 12-15 12-95 12-126 12-106 12-78 12-82 12-59 12-8 12 78 12 126 12 120 12 96 12 110 12 82 12 13 12-60 12-98 11-97 12-62 12-47 12-42 12-30 12-11 12 13 12 43 12 58 12 61 12 68 12 82 12 84 12 73 12 60 12 67 12 63 12 39 12-8 12-53 12-73 12-65 12-45 12-41 12-38 12-32 12-22 12-16 12-10 12-4 12 2 12 8 12 28 12 56 12 58 12 67 12 80 12 53 12-12 12-91 12-106 12-51 12-9 12-1 12-1 12 13 11 96 12 108 12 147 12 83 12-34 12-74 12-96 12-94 12-73 12-75 12-72 12-63 12-47 12-32 12-28 12-25 12-21 12-15 12-11 12-11 12-12 12-12 12-10 12-6" stroke="#77AC30"/>
<path d="M3120 929l12 1 12 2 12 2 12 2 12 2 12 6 12 11 12 15 12 16 12 19 12 25 12 31 12 37 12 51 12 73 12 78 12 80 12 86 12 105 12 127 12 65 12-54 12-124 11-134 12-124 12-126 12-72 12-45 12-20 12 17 12 37 12 47 12 81 12 100 12 84 12 63 12 58 12 41 12 7 12-46 12-81 12-82 12-60 12-58 12-56 12-45 12-26 12 5 12 36 12 40 12 32 12 33 12 8 12-29 12 29 12 75 12 68 12 64 12 51 12 6 12-66 12-100 12-82 12-71 12-73 12-55 12-19 12 20 12 43 11 52 12 85 12 125 12 86 12-26 12-114 12-121 12-73 12-69 12-50 12-7 12 36 12 57 12 63 12 108 12 103 12 24 12-118 12-184 12-142 12-110 12-98 12-46 12 29 12 74 12 88 12 76 12 95 12 93 12 56 12-17 12-98 12-131 12-112 12-87 12-90 12-66 12-14 12 77 12 129 12 125 12 104 12 119 12 89 12 17 12-59 12-96 11-96 12-60 12-47 12-43 12-32 12-16 12 9 12 39 12 55 12 60 12 68 12 85 12 88 12 77 12 64 12 69 12 66 12 41 12-6 12-52 12-73 12-65 12-45 12-40 12-38 12-33 12-26 12-22 12-16 12-12 12-4 12 5 12 32 12 63 12 66 12 74 12 85 12 56 12-12 12-94 12-108 12-53 12-12 12-4 12-3 12 14 11 101 12 112 12 152 12 89 12-33 12-78 12-100 12-94 12-75 12-78 12-78 12-71 12-56 12-40 12-35 12-31 12-24 12-14 12-6 12-3 12-1 12 0 12 3 12 5" stroke="#7E2F8E"/>
<path d="M3120 925l12 0 12-1 12 1 12 1 12 1 12 6 12 12 12 16 12 19 12 21 12 27 12 33 12 39 12 53 12 73 12 78 12 78 12 85 12 106 12 130 12 65 12-57 12-125 11-136 12-128 12-130 12-77 12-47 12-19 12 18 12 40 12 50 12 84 12 102 12 86 12 64 12 59 12 41 12 7 12-47 12-81 12-83 12-60 12-58 12-56 12-44 12-25 12 6 12 37 12 40 12 32 12 33 12 7 12-30 12 26 12 73 12 66 12 62 12 51 12 5 12-67 12-100 12-82 12-72 12-73 12-54 12-17 12 23 12 45 11 53 12 86 12 127 12 86 12-26 12-113 12-122 12-73 12-68 12-50 12-8 12 35 12 57 12 63 12 106 12 102 12 23 12-119 12-186 12-146 12-114 12-103 12-49 12 28 12 77 12 90 12 80 12 97 12 96 12 59 12-16 12-96 12-129 12-110 12-84 12-88 12-66 12-14 12 76 12 128 12 123 12 103 12 117 12 89 12 17 12-60 12-97 11-98 12-61 12-49 12-45 12-35 12-18 12 7 12 37 12 55 12 60 12 69 12 88 12 92 12 80 12 66 12 72 12 68 12 42 12-4 12-52 12-72 12-65 12-46 12-41 12-38 12-33 12-26 12-23 12-19 12-15 12-9 12 2 12 31 12 65 12 69 12 78 12 90 12 58 12-12 12-95 12-112 12-54 12-13 12-5 12-5 12 14 11 103 12 116 12 156 12 90 12-33 12-78 12-101 12-94 12-74 12-76 12-76 12-69 12-56 12-41 12-38 12-35 12-29 12-19 12-12 12-8 12-6 12-2 12 1 12 5" stroke="#EDB120"/>
<path d="M3120 916l12 0 12 1 12 2 12 2 12 3 12 6 12 13 12 16 12 18 12 20 12 27 12 32 12 38 12 53 12 73 12 79 12 80 12 87 12 107 12 133 12 66 12-57 12-127 11-140 12-131 12-134 12-79 12-48 12-20 12 19 12 40 12 51 12 87 12 105 12 88 12 66 12 62 12 43 12 8 12-49 12-84 12-87 12-62 12-61 12-59 12-48 12-26 12 6 12 39 12 41 12 35 12 33 12 7 12-31 12 28 12 75 12 68 12 64 12 51 12 5 12-67 12-100 12-83 12-73 12-75 12-56 12-18 12 22 12 45 11 55 12 86 12 124 12 85 12-26 12-113 12-121 12-76 12-73 12-53 12-10 12 37 12 60 12 64 12 108 12 102 12 25 12-117 12-183 12-142 12-110 12-97 12-45 12 32 12 75 12 89 12 75 12 94 12 91 12 55 12-21 12-104 12-138 12-120 12-94 12-98 12-72 12-14 12 80 12 136 12 132 12 113 12 127 12 96 12 20 12-59 12-98 11-98 12-61 12-48 12-44 12-34 12-17 12 9 12 38 12 56 12 60 12 69 12 88 12 91 12 79 12 66 12 71 12 67 12 41 12-5 12-49 12-69 12-62 12-43 12-40 12-38 12-33 12-29 12-24 12-19 12-18 12-11 12-2 12 28 12 65 12 70 12 81 12 97 12 64 12-12 12-104 12-120 12-59 12-15 12-5 12-1 12 20 11 111 12 120 12 158 12 99 12-33 12-83 12-105 12-97 12-76 12-81 12-80 12-75 12-59 12-44 12-40 12-35 12-27 12-19 12-10 12-7 12-6 12-4 12-2 12 1" stroke="#D95319"/>
<path d="M3120 914l12-1 12-1 12 1 12 1 12 1 12 6 12 13 12 16 12 19 12 21 12 27 12 33 12 39 12 53 12 74 12 80 12 81 12 88 12 109 12 133 12 67 12-57 12-128 11-142 12-134 12-137 12-78 12-47 12-19 12 20 12 42 12 51 12 87 12 105 12 88 12 67 12 63 12 44 12 8 12-50 12-86 12-89 12-65 12-62 12-61 12-48 12-27 12 7 12 40 12 43 12 35 12 34 12 6 12-33 12 27 12 75 12 68 12 64 12 52 12 6 12-67 12-99 12-83 12-72 12-75 12-56 12-18 12 22 12 46 11 53 12 85 12 123 12 83 12-27 12-113 12-122 12-77 12-74 12-54 12-8 12 40 12 63 12 67 12 109 12 104 12 26 12-117 12-184 12-145 12-114 12-104 12-51 12 25 12 73 12 88 12 77 12 95 12 94 12 57 12-18 12-103 12-137 12-116 12-89 12-92 12-66 12-10 12 82 12 135 12 129 12 109 12 124 12 94 12 18 12-62 12-103 11-102 12-65 12-51 12-45 12-35 12-17 12 10 12 40 12 58 12 61 12 71 12 89 12 93 12 81 12 66 12 72 12 67 12 41 12-4 12-46 12-65 12-59 12-43 12-39 12-37 12-33 12-28 12-24 12-18 12-15 12-10 12-2 12 26 12 62 12 68 12 80 12 98 12 65 12-12 12-106 12-125 12-63 12-19 12-9 12-5 12 20 11 116 12 127 12 169 12 98 12-33 12-83 12-107 12-103 12-81 12-84 12-83 12-74 12-57 12-39 12-35 12-30 12-23 12-14 12-7 12-7 12-6 12-5 12-4 12-2" stroke="#0072BD"/>
<path d="M3120 912l12-1 12-2 12-1 12 0 12 0 12 4 12 10 12 16 12 18 12 21 12 28 12 35 12 41 12 55 12 76 12 82 12 83 12 88 12 111 12 137 12 70 12-58 12-133 11-145 12-133 12-137 12-81 12-50 12-20 12 19 12 42 12 53 12 88 12 107 12 90 12 67 12 65 12 46 12 8 12-51 12-89 12-90 12-66 12-66 12-63 12-52 12-29 12 6 12 42 12 45 12 37 12 35 12 7 12-32 12 29 12 77 12 69 12 64 12 52 12 4 12-68 12-101 12-86 12-75 12-77 12-59 12-19 12 24 12 48 11 58 12 88 12 126 12 87 12-23 12-111 12-119 12-75 12-72 12-53 12-11 12 36 12 58 12 63 12 105 12 100 12 22 12-120 12-188 12-149 12-116 12-105 12-48 12 32 12 79 12 93 12 79 12 96 12 94 12 56 12-22 12-107 12-143 12-124 12-97 12-99 12-70 12-9 12 88 12 143 12 139 12 118 12 131 12 99 12 20 12-60 12-100 11-102 12-66 12-54 12-50 12-41 12-22 12 5 12 38 12 58 12 64 12 75 12 94 12 97 12 84 12 69 12 74 12 67 12 41 12-5 12-48 12-67 12-60 12-43 12-39 12-37 12-35 12-35 12-32 12-25 12-23 12-14 12 0 12 36 12 73 12 77 12 85 12 99 12 65 12-13 12-104 12-122 12-63 12-21 12-12 12-10 12 16 11 116 12 131 12 174 12 99 12-33 12-83 12-108 12-103 12-81 12-83 12-82 12-73 12-59 12-43 12-40 12-35 12-29 12-21 12-12 12-9 12-8 12-5 12-2 12 2" stroke="#A2142F"/>
<path d="M3120 910l12 0 12 1 12 1 12 1 12 1 12 5 12 11 12 16 12 18 12 20 12 28 12 33 12 40 12 54 12 76 12 80 12 82 12 88 12 111 12 137 12 69 12-58 12-133 11-145 12-137 12-143 12-85 12-53 12-21 12 20 12 45 12 55 12 93 12 111 12 92 12 69 12 65 12 47 12 9 12-52 12-90 12-88 12-65 12-64 12-63 12-51 12-29 12 5 12 40 12 43 12 36 12 34 12 6 12-35 12 28 12 77 12 69 12 65 12 52 12 5 12-67 12-100 12-85 12-74 12-77 12-58 12-17 12 24 12 48 11 58 12 88 12 125 12 86 12-24 12-111 12-121 12-77 12-74 12-55 12-12 12 35 12 58 12 64 12 104 12 100 12 22 12-120 12-188 12-149 12-116 12-104 12-46 12 35 12 81 12 95 12 81 12 97 12 95 12 57 12-21 12-105 12-140 12-121 12-95 12-97 12-69 12-10 12 84 12 139 12 134 12 114 12 128 12 96 12 18 12-63 12-105 11-106 12-70 12-56 12-52 12-40 12-20 12 9 12 43 12 63 12 68 12 78 12 97 12 98 12 85 12 69 12 73 12 67 12 41 12-6 12-49 12-67 12-59 12-43 12-39 12-37 12-35 12-34 12-31 12-25 12-21 12-13 12 1 12 33 12 71 12 75 12 84 12 99 12 67 12-13 12-107 12-127 12-65 12-23 12-13 12-8 12 20 11 121 12 133 12 174 12 102 12-32 12-85 12-110 12-101 12-81 12-83 12-84 12-76 12-62 12-46 12-42 12-37 12-30 12-20 12-10 12-7 12-4 12-2 12 1 12 3" stroke="#4DBEEE"/>
<path d="M3120 894l12 0 12 0 12 1 12 1 12 2 12 5 12 12 12 16 12 19 12 21 12 27 12 35 12 40 12 55 12 77 12 82 12 85 12 92 12 113 12 141 12 72 12-59 12-137 11-150 12-140 12-145 12-85 12-52 12-20 12 20 12 45 12 54 12 93 12 112 12 94 12 71 12 69 12 48 12 9 12-54 12-92 12-96 12-69 12-69 12-66 12-52 12-29 12 8 12 45 12 47 12 37 12 36 12 5 12-36 12 27 12 75 12 68 12 64 12 51 12 3 12-68 12-101 12-87 12-76 12-80 12-59 12-18 12 26 12 52 11 60 12 89 12 124 12 85 12-23 12-110 12-121 12-78 12-77 12-57 12-11 12 38 12 62 12 67 12 106 12 101 12 24 12-119 12-187 12-149 12-118 12-106 12-50 12 30 12 79 12 92 12 80 12 96 12 94 12 55 12-22 12-111 12-148 12-127 12-101 12-102 12-73 12-9 12 88 12 144 12 141 12 122 12 136 12 103 12 21 12-64 12-108 11-108 12-71 12-57 12-52 12-41 12-21 12 8 12 43 12 63 12 68 12 79 12 98 12 102 12 88 12 72 12 76 12 68 12 42 12-4 12-44 12-63 12-57 12-41 12-38 12-38 12-36 12-37 12-35 12-31 12-29 12-23 12-6 12 33 12 77 12 83 12 94 12 109 12 73 12-12 12-112 12-131 12-67 12-25 12-17 12-13 12 16 11 124 12 141 12 187 12 105 12-34 12-85 12-114 12-113 12-87 12-90 12-86 12-76 12-58 12-41 12-38 12-33 12-28 12-20 12-13 12-12 12-10 12-9 12-7 12-2" stroke="#77AC30"/>
<path d="M3120 887l12 0 12 1 12 2 12 1 12 3 12 6 12 12 12 17 12 18 12 22 12 28 12 34 12 41 12 55 12 77 12 83 12 85 12 92 12 116 12 144 12 75 12-60 12-142 11-153 12-142 12-147 12-88 12-56 12-25 12 18 12 42 12 54 12 96 12 118 12 99 12 77 12 69 12 48 12 9 12-53 12-92 12-98 12-71 12-67 12-65 12-52 12-29 12 8 12 43 12 46 12 36 12 34 12 3 12-39 12 25 12 76 12 70 12 66 12 54 12 5 12-66 12-99 12-86 12-76 12-78 12-60 12-19 12 25 12 49 11 58 12 87 12 122 12 82 12-25 12-110 12-120 12-79 12-78 12-58 12-9 12 41 12 64 12 69 12 106 12 100 12 24 12-121 12-190 12-154 12-124 12-114 12-55 12 29 12 81 12 96 12 83 12 100 12 97 12 58 12-21 12-111 12-147 12-126 12-98 12-99 12-69 12-5 12 91 12 147 12 142 12 122 12 135 12 102 12 20 12-66 12-110 11-111 12-75 12-61 12-57 12-45 12-24 12 6 12 43 12 64 12 70 12 81 12 102 12 105 12 91 12 73 12 77 12 68 12 41 12-4 12-44 12-59 12-54 12-40 12-37 12-37 12-37 12-40 12-39 12-32 12-29 12-21 12-3 12 36 12 78 12 84 12 93 12 110 12 74 12-13 12-115 12-135 12-71 12-29 12-20 12-14 12 18 11 130 12 147 12 192 12 110 12-33 12-89 12-117 12-114 12-89 12-92 12-89 12-80 12-62 12-45 12-40 12-35 12-29 12-19 12-11 12-10 12-9 12-7 12-5 12-2" stroke="#7E2F8E"/>
<path d="M3120 889l12-1 12-1 12 0 12 1 12 1 12 5 12 12 12 16 12 19 12 22 12 28 12 35 12 42 12 55 12 78 12 83 12 86 12 94 12 115 12 144 12 74 12-60 12-140 11-155 12-145 12-151 12-90 12-56 12-24 12 21 12 45 12 57 12 98 12 118 12 100 12 75 12 71 12 50 12 10 12-55 12-95 12-98 12-70 12-69 12-67 12-54 12-30 12 7 12 43 12 47 12 37 12 35 12 4 12-39 12 26 12 78 12 71 12 67 12 53 12 5 12-67 12-99 12-87 12-77 12-80 12-62 12-21 12 24 12 49 11 59 12 87 12 122 12 82 12-23 12-108 12-119 12-79 12-78 12-57 12-10 12 40 12 64 12 68 12 105 12 98 12 22 12-122 12-193 12-156 12-126 12-115 12-53 12 34 12 87 12 101 12 86 12 103 12 99 12 59 12-20 12-110 12-147 12-128 12-102 12-105 12-77 12-13 12 85 12 143 12 141 12 124 12 141 12 107 12 22 12-64 12-107 11-108 12-70 12-55 12-51 12-40 12-22 12 7 12 41 12 61 12 65 12 77 12 97 12 102 12 88 12 72 12 76 12 68 12 40 12-3 12-41 12-58 12-51 12-39 12-37 12-37 12-37 12-40 12-39 12-32 12-33 12-25 12-10 12 31 12 78 12 85 12 98 12 118 12 79 12-12 12-121 12-141 12-72 12-26 12-15 12-8 12 24 11 132 12 144 12 186 12 118 12-33 12-93 12-120 12-112 12-90 12-94 12-93 12-84 12-67 12-48 12-43 12-36 12-28 12-17 12-6 12-5 12-4 12-2 12 0 12 1" stroke="#EDB120"/>
<path d="M3120 879l12-1 12 0 12 0 12 0 12 2 12 5 12 13 12 17 12 20 12 23 12 29 12 36 12 42 12 55 12 78 12 84 12 87 12 94 12 118 12 147 12 75 12-61 12-143 11-158 12-149 12-153 12-90 12-55 12-22 12 22 12 45 12 56 12 97 12 119 12 101 12 77 12 74 12 50 12 10 12-56 12-97 12-102 12-74 12-72 12-68 12-55 12-30 12 7 12 45 12 47 12 37 12 34 12 1 12-44 12 23 12 79 12 72 12 70 12 56 12 7 12-64 12-97 12-85 12-75 12-79 12-61 12-20 12 23 12 48 11 57 12 85 12 120 12 79 12-24 12-107 12-119 12-80 12-78 12-56 12-8 12 43 12 67 12 69 12 105 12 98 12 20 12-124 12-196 12-162 12-133 12-122 12-58 12 33 12 89 12 106 12 90 12 106 12 102 12 61 12-20 12-112 12-151 12-134 12-107 12-112 12-82 12-16 12 86 12 147 12 147 12 132 12 148 12 114 12 25 12-64 12-109 11-109 12-72 12-57 12-55 12-44 12-25 12 5 12 41 12 62 12 69 12 81 12 103 12 107 12 93 12 75 12 78 12 68 12 41 12-4 12-41 12-57 12-51 12-38 12-36 12-37 12-39 12-46 12-45 12-38 12-36 12-26 12-6 12 38 12 84 12 91 12 100 12 117 12 81 12-13 12-123 12-146 12-79 12-34 12-24 12-13 12 24 11 142 12 156 12 200 12 121 12-32 12-95 12-123 12-115 12-92 12-96 12-95 12-88 12-70 12-52 12-46 12-40 12-30 12-19 12-8 12-6 12-4 12-2 12-1 12 1" stroke="#D95319"/>
<path d="M3120 875l12 0 12 0 12 1 12 2 12 2 12 5 12 13 12 17 12 19 12 21 12 29 12 35 12 42 12 55 12 78 12 85 12 88 12 96 12 119 12 148 12 76 12-61 12-145 11-160 12-151 12-157 12-93 12-57 12-23 12 22 12 47 12 58 12 100 12 122 12 103 12 78 12 75 12 53 12 10 12-58 12-99 12-103 12-76 12-74 12-71 12-57 12-31 12 7 12 47 12 49 12 39 12 35 12 3 12-43 12 25 12 80 12 72 12 69 12 55 12 6 12-66 12-99 12-87 12-78 12-81 12-63 12-21 12 23 12 51 11 59 12 87 12 120 12 80 12-23 12-107 12-118 12-80 12-80 12-58 12-8 12 43 12 67 12 70 12 106 12 98 12 21 12-123 12-196 12-160 12-134 12-121 12-59 12 31 12 87 12 104 12 90 12 105 12 101 12 62 12-21 12-112 12-152 12-132 12-105 12-109 12-79 12-15 12 86 12 145 12 145 12 129 12 147 12 112 12 24 12-68 12-113 11-114 12-73 12-58 12-53 12-40 12-21 12 10 12 45 12 66 12 70 12 81 12 102 12 106 12 92 12 74 12 78 12 67 12 40 12-3 12-39 12-54 12-49 12-37 12-36 12-36 12-39 12-45 12-45 12-38 12-37 12-29 12-10 12 35 12 84 12 91 12 103 12 122 12 83 12-13 12-125 12-149 12-80 12-34 12-26 12-15 12 24 11 143 12 159 12 206 12 121 12-33 12-94 12-125 12-119 12-94 12-96 12-95 12-86 12-68 12-49 12-46 12-40 12-32 12-23 12-13 12-11 12-9 12-6 12-4 12-1" stroke="#0072BD"/>
<path d="M3120 871l12 0 12 0 12 1 12 1 12 1 12 6 12 11 12 17 12 19 12 22 12 29 12 36 12 43 12 56 12 79 12 86 12 89 12 96 12 120 12 151 12 79 12-63 12-148 11-162 12-151 12-158 12-96 12-61 12-27 12 20 12 47 12 59 12 103 12 126 12 106 12 81 12 76 12 53 12 11 12-58 12-101 12-102 12-74 12-72 12-70 12-56 12-33 12 6 12 45 12 47 12 38 12 34 12 1 12-44 12 24 12 80 12 72 12 70 12 55 12 5 12-65 12-99 12-88 12-78 12-83 12-64 12-22 12 25 12 51 11 61 12 88 12 120 12 81 12-22 12-105 12-117 12-80 12-80 12-58 12-8 12 42 12 66 12 69 12 105 12 96 12 21 12-125 12-197 12-163 12-135 12-122 12-58 12 34 12 90 12 107 12 91 12 107 12 102 12 62 12-20 12-112 12-151 12-132 12-105 12-110 12-79 12-15 12 86 12 145 12 144 12 129 12 147 12 112 12 24 12-68 12-114 11-115 12-75 12-60 12-55 12-43 12-23 12 9 12 44 12 66 12 71 12 82 12 104 12 108 12 93 12 76 12 78 12 69 12 40 12-2 12-39 12-53 12-47 12-37 12-36 12-36 12-39 12-46 12-46 12-39 12-41 12-32 12-13 12 34 12 84 12 94 12 107 12 126 12 86 12-13 12-127 12-149 12-78 12-32 12-22 12-12 12 25 11 140 12 156 12 202 12 126 12-34 12-97 12-126 12-121 12-96 12-99 12-98 12-87 12-69 12-49 12-43 12-38 12-29 12-18 12-10 12-9 12-7 12-7 12-5 12-4" stroke="#A2142F"/>
<path d="M3120 865l12 0 12 0 12 1 12 0 12 1 12 5 12 11 12 16 12 19 12 21 12 30 12 36 12 44 12 57 12 80 12 87 12 91 12 98 12 123 12 155 12 80 12-63 12-152 11-167 12-158 12-165 12-101 12-63 12-27 12 22 12 50 12 62 12 107 12 131 12 109 12 83 12 80 12 56 12 11 12-60 12-105 12-107 12-79 12-76 12-74 12-60 12-34 12 7 12 48 12 51 12 40 12 35 12 1 12-47 12 24 12 80 12 73 12 70 12 56 12 5 12-66 12-99 12-88 12-80 12-84 12-64 12-21 12 27 12 53 11 63 12 88 12 120 12 80 12-22 12-105 12-118 12-83 12-83 12-61 12-10 12 43 12 69 12 71 12 105 12 96 12 21 12-124 12-198 12-164 12-138 12-126 12-61 12 33 12 91 12 107 12 91 12 108 12 102 12 61 12-22 12-117 12-157 12-138 12-110 12-114 12-81 12-13 12 90 12 150 12 150 12 135 12 155 12 117 12 25 12-71 12-118 11-119 12-78 12-62 12-56 12-44 12-21 12 11 12 48 12 70 12 75 12 86 12 107 12 111 12 96 12 77 12 79 12 68 12 40 12-3 12-38 12-50 12-45 12-36 12-34 12-36 12-41 12-51 12-52 12-45 12-46 12-37 12-15 12 37 12 90 12 100 12 112 12 133 12 92 12-14 12-133 12-158 12-85 12-38 12-28 12-15 12 27 11 151 12 168 12 213 12 134 12-34 12-101 12-131 12-124 12-100 12-103 12-102 12-93 12-74 12-55 12-49 12-43 12-34 12-22 12-11 12-8 12-6 12-4 12-1 12 1" stroke="#4DBEEE"/>
<path d="M3120 859l12-1 12 1 12 0 12 1 12 2 12 6 12 12 12 18 12 19 12 23 12 30 12 36 12 44 12 57 12 79 12 87 12 90 12 99 12 123 12 155 12 81 12-64 12-152 11-168 12-158 12-166 12-101 12-63 12-25 12 22 12 49 12 62 12 107 12 130 12 110 12 84 12 80 12 56 12 11 12-60 12-105 12-109 12-78 12-77 12-74 12-60 12-33 12 7 12 48 12 51 12 39 12 35 12 0 12-49 12 24 12 80 12 74 12 71 12 56 12 6 12-65 12-98 12-88 12-79 12-83 12-65 12-21 12 25 12 53 11 62 12 87 12 119 12 79 12-22 12-104 12-118 12-82 12-83 12-61 12-9 12 44 12 69 12 71 12 104 12 95 12 20 12-126 12-200 12-167 12-142 12-128 12-61 12 35 12 94 12 111 12 96 12 109 12 105 12 63 12-21 12-116 12-157 12-137 12-112 12-116 12-85 12-16 12 87 12 148 12 150 12 136 12 156 12 119 12 26 12-70 12-119 11-119 12-78 12-62 12-58 12-44 12-23 12 10 12 48 12 70 12 76 12 86 12 109 12 113 12 97 12 78 12 80 12 69 12 40 12-4 12-36 12-51 12-45 12-35 12-34 12-37 12-40 12-52 12-53 12-46 12-46 12-37 12-14 12 37 12 91 12 100 12 112 12 134 12 92 12-14 12-134 12-160 12-86 12-40 12-29 12-16 12 28 11 153 12 170 12 216 12 134 12-33 12-101 12-133 12-125 12-100 12-105 12-103 12-94 12-76 12-55 12-50 12-42 12-34 12-21 12-9 12-7 12-5 12-3 12 0 12 2" stroke="#77AC30"/>
<path d="M3120 855l12 1 12 1 12 1 12 2 12 2 12 6 12 12 12 17 12 19 12 22 12 29 12 36 12 43 12 56 12 80 12 88 12 91 12 100 12 124 12 157 12 82 12-64 12-153 11-170 12-159 12-166 12-101 12-64 12-27 12 20 12 48 12 62 12 107 12 132 12 112 12 86 12 81 12 56 12 12 12-61 12-105 12-110 12-79 12-77 12-74 12-60 12-34 12 6 12 48 12 51 12 39 12 34 12-1 12-49 12 23 12 81 12 74 12 72 12 57 12 6 12-64 12-97 12-89 12-79 12-84 12-65 12-21 12 25 12 52 11 62 12 87 12 118 12 79 12-23 12-104 12-117 12-84 12-84 12-62 12-9 12 45 12 70 12 72 12 104 12 95 12 21 12-126 12-200 12-168 12-142 12-129 12-62 12 35 12 94 12 111 12 95 12 110 12 104 12 63 12-21 12-118 12-158 12-139 12-112 12-116 12-84 12-15 12 89 12 151 12 151 12 137 12 157 12 120 12 26 12-71 12-120 11-121 12-79 12-63 12-59 12-45 12-23 12 10 12 48 12 71 12 75 12 87 12 110 12 113 12 98 12 79 12 81 12 69 12 40 12-3 12-35 12-49 12-43 12-35 12-34 12-36 12-41 12-52 12-55 12-47 12-49 12-40 12-18 12 36 12 93 12 103 12 116 12 137 12 95 12-14 12-136 12-161 12-86 12-40 12-29 12-16 12 27 11 154 12 171 12 218 12 136 12-33 12-103 12-134 12-128 12-102 12-106 12-104 12-94 12-74 12-53 12-49 12-41 12-34 12-22 12-12 12-9 12-9 12-6 12-5 12-1" stroke="#7E2F8E"/>
<path d="M3120 846l12 1 12 0 12 1 12 2 12 2 12 5 12 13 12 17 12 19 12 23 12 29 12 37 12 44 12 58 12 81 12 89 12 92 12 102 12 126 12 160 12 84 12-65 12-157 11-174 12-164 12-171 12-105 12-67 12-27 12 22 12 50 12 64 12 111 12 136 12 115 12 88 12 84 12 58 12 12 12-62 12-109 12-113 12-82 12-80 12-77 12-62 12-35 12 6 12 50 12 52 12 40 12 35 12-2 12-52 12 22 12 82 12 75 12 73 12 58 12 6 12-64 12-98 12-89 12-81 12-85 12-66 12-22 12 27 12 54 11 64 12 88 12 118 12 78 12-22 12-103 12-116 12-85 12-86 12-63 12-10 12 45 12 71 12 73 12 103 12 94 12 20 12-127 12-202 12-170 12-146 12-132 12-64 12 36 12 96 12 114 12 97 12 111 12 105 12 63 12-22 12-121 12-163 12-143 12-116 12-119 12-87 12-14 12 92 12 154 12 155 12 143 12 162 12 124 12 27 12-73 12-123 11-124 12-82 12-65 12-61 12-47 12-24 12 10 12 50 12 73 12 78 12 90 12 113 12 117 12 101 12 80 12 82 12 69 12 40 12-2 12-34 12-46 12-41 12-33 12-34 12-36 12-42 12-56 12-59 12-50 12-54 12-44 12-20 12 37 12 96 12 108 12 120 12 144 12 99 12-14 12-141 12-168 12-90 12-43 12-33 12-18 12 29 11 161 12 178 12 227 12 142 12-34 12-106 12-137 12-133 12-106 12-109 12-107 12-97 12-77 12-55 12-50 12-43 12-34 12-23 12-12 12-10 12-9 12-6 12-5 12-2" stroke="#EDB120"/>
<path d="M3120 844l12 0 12 0 12 1 12 1 12 2 12 6 12 12 12 18 12 19 12 23 12 30 12 37 12 45 12 57 12 82 12 89 12 93 12 101 12 128 12 161 12 84 12-65 12-158 11-176 12-165 12-174 12-106 12-67 12-28 12 23 12 51 12 64 12 112 12 138 12 115 12 89 12 85 12 60 12 12 12-63 12-111 12-114 12-83 12-80 12-78 12-63 12-36 12 7 12 50 12 54 12 41 12 34 12-2 12-52 12 22 12 82 12 75 12 73 12 58 12 5 12-64 12-97 12-90 12-81 12-85 12-67 12-21 12 26 12 55 11 64 12 88 12 118 12 78 12-22 12-103 12-116 12-86 12-87 12-64 12-10 12 45 12 72 12 73 12 103 12 94 12 20 12-127 12-202 12-171 12-146 12-133 12-64 12 36 12 97 12 114 12 98 12 111 12 105 12 63 12-22 12-122 12-164 12-144 12-117 12-121 12-86 12-15 12 93 12 155 12 157 12 143 12 164 12 125 12 27 12-74 12-124 11-125 12-83 12-66 12-62 12-47 12-24 12 11 12 50 12 74 12 79 12 91 12 114 12 118 12 101 12 81 12 82 12 69 12 40 12-2 12-33 12-45 12-40 12-33 12-33 12-36 12-42 12-58 12-60 12-52 12-55 12-46 12-21 12 38 12 97 12 110 12 122 12 145 12 101 12-14 12-143 12-170 12-91 12-44 12-34 12-18 12 29 11 163 12 181 12 229 12 144 12-34 12-107 12-139 12-133 12-108 12-111 12-108 12-98 12-78 12-56 12-51 12-44 12-34 12-23 12-12 12-10 12-9 12-6 12-5 12-1" stroke="#D95319"/>
<path d="M3120 835l12 0 12 1 12 1 12 1 12 2 12 6 12 13 12 17 12 20 12 23 12 31 12 37 12 45 12 58 12 82 12 90 12 94 12 104 12 130 12 163 12 87 12-67 12-161 11-179 12-169 12-178 12-109 12-68 12-29 12 23 12 52 12 66 12 114 12 141 12 118 12 92 12 87 12 61 12 13 12-65 12-113 12-117 12-85 12-82 12-80 12-65 12-36 12 7 12 51 12 54 12 42 12 35 12-3 12-55 12 21 12 83 12 76 12 74 12 58 12 6 12-63 12-98 12-90 12-81 12-87 12-67 12-23 12 27 12 56 11 65 12 89 12 116 12 78 12-22 12-102 12-116 12-87 12-88 12-66 12-10 12 46 12 73 12 74 12 103 12 93 12 20 12-128 12-204 12-173 12-149 12-136 12-66 12 37 12 100 12 117 12 99 12 113 12 106 12 64 12-23 12-124 12-167 12-148 12-120 12-123 12-89 12-15 12 93 12 157 12 160 12 147 12 168 12 128 12 28 12-75 12-126 11-129 12-84 12-69 12-63 12-48 12-25 12 10 12 52 12 76 12 81 12 94 12 117 12 121 12 103 12 83 12 84 12 69 12 40 12-2 12-32 12-43 12-37 12-32 12-33 12-36 12-43 12-60 12-64 12-56 12-59 12-49 12-23 12 38 12 101 12 113 12 127 12 151 12 105 12-15 12-147 12-176 12-95 12-48 12-36 12-21 12 31 11 169 12 188 12 237 12 148 12-33 12-110 12-143 12-136 12-111 12-113 12-112 12-100 12-80 12-57 12-52 12-46 12-35 12-24 12-13 12-11 12-8 12-7 12-4 12-2" stroke="#0072BD"/>
</g>
<rect x="312.0" y="22.6" width="222.80" height="168.50" fill="none" stroke="#767676" stroke-width="1.1"/>
<line x1="312.00" y1="191.1" x2="312.00" y2="188.9" stroke="#767676" stroke-width="0.8"/>
<line x1="312.00" y1="22.6" x2="312.00" y2="24.8" stroke="#767676" stroke-width="0.8"/>
<text transform="translate(312.00,204.30) scale(0.982,1)" text-anchor="middle" font-size="9.5">0</text>
<line x1="367.70" y1="191.1" x2="367.70" y2="188.9" stroke="#767676" stroke-width="0.8"/>
<line x1="367.70" y1="22.6" x2="367.70" y2="24.8" stroke="#767676" stroke-width="0.8"/>
<text transform="translate(367.70,204.30) scale(0.982,1)" text-anchor="middle" font-size="9.5">500</text>
<line x1="423.40" y1="191.1" x2="423.40" y2="188.9" stroke="#767676" stroke-width="0.8"/>
<line x1="423.40" y1="22.6" x2="423.40" y2="24.8" stroke="#767676" stroke-width="0.8"/>
<text transform="translate(423.40,204.30) scale(0.982,1)" text-anchor="middle" font-size="9.5">1000</text>
<line x1="479.10" y1="191.1" x2="479.10" y2="188.9" stroke="#767676" stroke-width="0.8"/>
<line x1="479.10" y1="22.6" x2="479.10" y2="24.8" stroke="#767676" stroke-width="0.8"/>
<text transform="translate(479.10,204.30) scale(0.982,1)" text-anchor="middle" font-size="9.5">1500</text>
<line x1="534.80" y1="191.1" x2="534.80" y2="188.9" stroke="#767676" stroke-width="0.8"/>
<line x1="534.80" y1="22.6" x2="534.80" y2="24.8" stroke="#767676" stroke-width="0.8"/>
<text transform="translate(534.80,204.30) scale(0.982,1)" text-anchor="middle" font-size="9.5">2000</text>
<line x1="312.0" y1="191.10" x2="314.2" y2="191.10" stroke="#767676" stroke-width="0.8"/>
<line x1="534.8" y1="191.10" x2="532.5999999999999" y2="191.10" stroke="#767676" stroke-width="0.8"/>
<text transform="translate(308.40,194.10) scale(0.982,1)" text-anchor="end" font-size="9.5">0</text>
<line x1="312.0" y1="163.02" x2="314.2" y2="163.02" stroke="#767676" stroke-width="0.8"/>
<line x1="534.8" y1="163.02" x2="532.5999999999999" y2="163.02" stroke="#767676" stroke-width="0.8"/>
<text transform="translate(308.40,166.02) scale(0.982,1)" text-anchor="end" font-size="9.5">50</text>
<line x1="312.0" y1="134.93" x2="314.2" y2="134.93" stroke="#767676" stroke-width="0.8"/>
<line x1="534.8" y1="134.93" x2="532.5999999999999" y2="134.93" stroke="#767676" stroke-width="0.8"/>
<text transform="translate(308.40,137.93) scale(0.982,1)" text-anchor="end" font-size="9.5">100</text>
<line x1="312.0" y1="106.85" x2="314.2" y2="106.85" stroke="#767676" stroke-width="0.8"/>
<line x1="534.8" y1="106.85" x2="532.5999999999999" y2="106.85" stroke="#767676" stroke-width="0.8"/>
<text transform="translate(308.40,109.85) scale(0.982,1)" text-anchor="end" font-size="9.5">150</text>
<line x1="312.0" y1="78.77" x2="314.2" y2="78.77" stroke="#767676" stroke-width="0.8"/>
<line x1="534.8" y1="78.77" x2="532.5999999999999" y2="78.77" stroke="#767676" stroke-width="0.8"/>
<text transform="translate(308.40,81.77) scale(0.982,1)" text-anchor="end" font-size="9.5">200</text>
<line x1="312.0" y1="50.68" x2="314.2" y2="50.68" stroke="#767676" stroke-width="0.8"/>
<line x1="534.8" y1="50.68" x2="532.5999999999999" y2="50.68" stroke="#767676" stroke-width="0.8"/>
<text transform="translate(308.40,53.68) scale(0.982,1)" text-anchor="end" font-size="9.5">250</text>
<line x1="312.0" y1="22.60" x2="314.2" y2="22.60" stroke="#767676" stroke-width="0.8"/>
<line x1="534.8" y1="22.60" x2="532.5999999999999" y2="22.60" stroke="#767676" stroke-width="0.8"/>
<text transform="translate(308.40,25.60) scale(0.982,1)" text-anchor="end" font-size="9.5">300</text>
<text transform="translate(423.80,17.15) scale(1.03,1)" text-anchor="middle" font-size="10.2">Trajectory CSI between RP2 and RP3</text>
<text transform="translate(423.40,218.50) scale(1.025,1)" text-anchor="middle" font-size="10.2">Samples (time series)</text>
<text transform="translate(287.40,106.85) rotate(-90) scale(1.035,1)" x="0" y="0" text-anchor="middle" font-size="10.2">CSI Amplitude</text>
<g fill="none" stroke-width="9.0" stroke-linejoin="round" transform="scale(0.1)">
<path d="M394 4160l12 1 12 1 12 1 12 1 12 1 12 1 12 2 12 1 12 1 12 1 12 2 12 2 12 2 12 2 12 2 12 1 12 1 12-2 12-7 12-11 12-11 12-10 12-9 11-9 12-9 12-8 12-6 12-4 12-4 12-3 12 1 12 8 12 11 12 11 12 12 12 14 12 13 12 9 12-3 12-28 12-43 12-38 12-26 12-24 12-23 12-16 12-8 12 8 12 26 12 35 12 38 12 59 12 45 12 0 12-20 12-26 12-21 12-13 12-12 12-10 12-7 12-2 12 4 12 11 12 15 12 19 12 39 12 27 12-8 11-25 12-30 12-27 12-17 12-16 12-13 12-6 12 5 12 13 12 19 12 19 12 17 12 21 12 22 12 18 12 8 12-36 12-83 12-70 12-33 12-27 12-20 12-6 12 13 12 29 12 36 12 33 12 44 12 50 12 43 12 25 12-5 12-28 12-35 12-25 12-13 12-10 12-6 12 4 12 22 12 27 12 41 12 36 12-31 12-123 12-68 12-7 11-4 12-3 12-3 12-3 12-2 12-2 12-3 12-3 12-5 12-6 12-9 12-10 12-10 12-10 12-10 12-10 12-10 12-10 12-10 12-8 12-8 12-7 12-6 12-6 12-6 12-6 12-6 12-5 12-6 12-5 12-5 12-5 12-6 12-5 12-6 12-7 12-8 12-11 12-16 12-18 12-20 12-21 12-18 12-15 12-11 12-6 11-5 12-4 12-3 12 1 12 10 12 15 12 20 12 22 12 22 12 19 12 16 12 16 12 16 12 16 12 15 12 14 12 12 12 11 12 8 12 8 12 7 12 6 12 5 12 3" stroke="#EDB120"/>
<path d="M394 4157l12 1 12 1 12 1 12 2 12 1 12 1 12 1 12 1 12 2 12 1 12 2 12 2 12 2 12 3 12 2 12 1 12 1 12-2 12-7 12-11 12-11 12-11 12-9 11-10 12-9 12-9 12-6 12-5 12-4 12-3 12 1 12 8 12 12 12 11 12 13 12 15 12 14 12 8 12-2 12-29 12-43 12-39 12-26 12-26 12-22 12-17 12-8 12 8 12 27 12 35 12 39 12 60 12 46 12-1 12-20 12-26 12-22 12-13 12-13 12-10 12-7 12-3 12 5 12 11 12 16 12 20 12 40 12 27 12-9 11-25 12-31 12-27 12-19 12-17 12-13 12-5 12 5 12 13 12 19 12 20 12 18 12 22 12 22 12 19 12 8 12-37 12-84 12-72 12-33 12-28 12-20 12-7 12 13 12 29 12 36 12 36 12 46 12 50 12 44 12 25 12-5 12-30 12-35 12-25 12-13 12-11 12-6 12 5 12 22 12 28 12 42 12 36 12-31 12-127 12-69 12-6 11-3 12-4 12-3 12-3 12-2 12-2 12-3 12-3 12-3 12-6 12-9 12-9 12-10 12-10 12-10 12-10 12-10 12-10 12-10 12-9 12-8 12-7 12-7 12-6 12-6 12-6 12-5 12-6 12-6 12-6 12-5 12-6 12-5 12-6 12-7 12-7 12-8 12-12 12-15 12-20 12-20 12-21 12-18 12-16 12-11 12-6 11-6 12-4 12-2 12 1 12 9 12 16 12 20 12 23 12 22 12 19 12 17 12 16 12 17 12 16 12 16 12 14 12 13 12 11 12 9 12 8 12 7 12 6 12 5 12 3" stroke="#D95319"/>
<path d="M394 4145l12 1 12 1 12 2 12 1 12 2 12 1 12 2 12 2 12 2 12 2 12 2 12 3 12 3 12 3 12 3 12 2 12 1 12-2 12-9 12-11 12-13 12-13 12-11 11-11 12-11 12-10 12-8 12-6 12-5 12-4 12 0 12 9 12 14 12 13 12 16 12 18 12 16 12 11 12-1 12-32 12-46 12-41 12-31 12-28 12-24 12-18 12-8 12 9 12 29 12 38 12 44 12 63 12 50 12 0 12-22 12-28 12-25 12-16 12-16 12-12 12-8 12-3 12 6 12 14 12 19 12 25 12 41 12 29 12-9 11-29 12-36 12-30 12-23 12-19 12-14 12-6 12 5 12 14 12 19 12 23 12 24 12 25 12 26 12 21 12 9 12-40 12-92 12-78 12-37 12-31 12-21 12-8 12 14 12 31 12 37 12 44 12 54 12 54 12 46 12 26 12-8 12-37 12-35 12-24 12-13 12-12 12-7 12 6 12 25 12 30 12 45 12 38 12-36 12-138 12-76 12-6 11-1 12-3 12-5 12-3 12-1 12-1 12 0 12 0 12-2 12-4 12-6 12-7 12-9 12-9 12-9 12-10 12-10 12-10 12-10 12-10 12-10 12-8 12-8 12-7 12-7 12-6 12-7 12-7 12-6 12-7 12-8 12-7 12-8 12-9 12-10 12-10 12-12 12-14 12-19 12-22 12-23 12-23 12-19 12-17 12-11 12-7 11-5 12-4 12 0 12 3 12 12 12 18 12 23 12 24 12 24 12 23 12 19 12 19 12 19 12 19 12 17 12 17 12 15 12 12 12 10 12 9 12 8 12 7 12 5 12 4" stroke="#0072BD"/>
<path d="M394 4145l12 0 12 1 12 1 12 1 12 1 12 2 12 2 12 1 12 3 12 2 12 3 12 3 12 3 12 3 12 3 12 3 12 1 12-2 12-8 12-12 12-13 12-13 12-11 11-12 12-12 12-11 12-8 12-7 12-5 12-4 12 1 12 10 12 14 12 14 12 17 12 18 12 16 12 12 12-2 12-32 12-46 12-42 12-31 12-29 12-25 12-18 12-8 12 9 12 29 12 39 12 45 12 63 12 51 12-1 12-21 12-29 12-25 12-17 12-16 12-12 12-10 12-3 12 6 12 14 12 19 12 26 12 43 12 29 12-9 11-29 12-35 12-30 12-22 12-19 12-14 12-6 12 5 12 13 12 19 12 22 12 23 12 26 12 25 12 22 12 9 12-41 12-93 12-79 12-36 12-30 12-21 12-6 12 15 12 31 12 38 12 43 12 54 12 53 12 46 12 26 12-8 12-38 12-35 12-24 12-14 12-12 12-7 12 6 12 26 12 31 12 44 12 39 12-36 12-138 12-76 12-7 11-1 12-4 12-4 12-4 12-2 12-1 12 0 12 0 12-2 12-3 12-6 12-7 12-9 12-9 12-9 12-10 12-10 12-10 12-11 12-10 12-10 12-9 12-8 12-7 12-6 12-6 12-6 12-6 12-6 12-6 12-7 12-6 12-8 12-8 12-9 12-10 12-12 12-14 12-20 12-23 12-23 12-23 12-21 12-16 12-12 12-7 11-5 12-3 12-1 12 4 12 11 12 18 12 21 12 23 12 24 12 21 12 18 12 19 12 18 12 18 12 18 12 17 12 15 12 13 12 10 12 9 12 9 12 7 12 6 12 4" stroke="#A2142F"/>
<path d="M394 4129l12 0 12 2 12 1 12 2 12 2 12 2 12 3 12 3 12 3 12 4 12 3 12 4 12 4 12 4 12 4 12 3 12 1 12-2 12-9 12-12 12-15 12-14 12-14 11-14 12-13 12-13 12-9 12-7 12-7 12-4 12 1 12 10 12 16 12 17 12 18 12 22 12 18 12 14 12-2 12-33 12-49 12-44 12-35 12-33 12-26 12-20 12-10 12 9 12 31 12 41 12 50 12 68 12 55 12 0 12-24 12-31 12-27 12-20 12-19 12-13 12-10 12-4 12 7 12 17 12 22 12 31 12 44 12 31 12-11 11-33 12-40 12-34 12-26 12-21 12-14 12-5 12 6 12 15 12 21 12 26 12 28 12 29 12 28 12 22 12 11 12-44 12-100 12-86 12-41 12-34 12-25 12-8 12 14 12 33 12 41 12 52 12 64 12 57 12 48 12 28 12-10 12-43 12-35 12-24 12-14 12-13 12-7 12 6 12 28 12 33 12 47 12 40 12-41 12-149 12-83 12-7 11 2 12-4 12-5 12-5 12-2 12 1 12 2 12 1 12 0 12-1 12-3 12-6 12-6 12-8 12-9 12-9 12-10 12-10 12-11 12-10 12-11 12-10 12-9 12-8 12-7 12-8 12-7 12-7 12-8 12-9 12-9 12-9 12-11 12-10 12-11 12-11 12-12 12-14 12-19 12-22 12-22 12-22 12-20 12-16 12-13 12-9 11-7 12-6 12-4 12 1 12 10 12 16 12 21 12 23 12 24 12 24 12 22 12 23 12 22 12 21 12 22 12 20 12 18 12 15 12 11 12 10 12 9 12 8 12 6 12 4" stroke="#4DBEEE"/>
<path d="M394 4130l12 1 12 1 12 2 12 1 12 2 12 2 12 2 12 3 12 2 12 3 12 4 12 3 12 4 12 4 12 5 12 3 12 1 12-2 12-9 12-12 12-14 12-14 12-13 11-13 12-13 12-12 12-10 12-7 12-8 12-5 12 0 12 9 12 15 12 15 12 19 12 22 12 19 12 15 12-2 12-33 12-50 12-44 12-36 12-32 12-26 12-19 12-9 12 10 12 31 12 41 12 49 12 68 12 55 12 0 12-24 12-32 12-28 12-21 12-18 12-14 12-9 12-3 12 9 12 18 12 23 12 30 12 45 12 31 12-11 11-33 12-39 12-34 12-27 12-23 12-15 12-8 12 5 12 14 12 20 12 26 12 29 12 31 12 29 12 24 12 10 12-44 12-100 12-86 12-39 12-34 12-24 12-7 12 14 12 32 12 40 12 51 12 64 12 57 12 48 12 28 12-11 12-45 12-35 12-23 12-15 12-12 12-7 12 6 12 29 12 34 12 47 12 41 12-41 12-149 12-82 12-7 11 2 12-4 12-6 12-5 12-3 12 1 12 1 12 1 12 0 12-1 12-3 12-5 12-7 12-7 12-9 12-9 12-10 12-10 12-10 12-11 12-11 12-10 12-8 12-8 12-7 12-7 12-7 12-7 12-8 12-9 12-9 12-10 12-11 12-11 12-12 12-13 12-14 12-16 12-21 12-23 12-24 12-23 12-20 12-17 12-12 12-7 11-7 12-4 12-2 12 3 12 12 12 17 12 22 12 23 12 24 12 24 12 22 12 22 12 21 12 21 12 21 12 20 12 19 12 15 12 12 12 11 12 10 12 8 12 7 12 5" stroke="#77AC30"/>
<path d="M394 4120l12 2 12 2 12 2 12 3 12 2 12 3 12 3 12 3 12 3 12 3 12 3 12 4 12 3 12 4 12 5 12 3 12 2 12-3 12-9 12-13 12-15 12-15 12-15 11-13 12-14 12-12 12-11 12-8 12-8 12-6 12-2 12 10 12 16 12 16 12 22 12 24 12 21 12 16 12 0 12-35 12-50 12-45 12-36 12-34 12-26 12-21 12-11 12 8 12 30 12 41 12 52 12 71 12 59 12 0 12-26 12-33 12-28 12-22 12-19 12-13 12-10 12-3 12 9 12 18 12 23 12 32 12 46 12 32 12-13 11-37 12-44 12-37 12-30 12-22 12-12 12-4 12 8 12 18 12 22 12 29 12 30 12 30 12 29 12 24 12 11 12-47 12-107 12-92 12-44 12-38 12-25 12-8 12 17 12 35 12 44 12 58 12 70 12 58 12 50 12 28 12-12 12-49 12-36 12-24 12-16 12-15 12-9 12 7 12 31 12 37 12 51 12 42 12-43 12-157 12-85 12-5 11 4 12-3 12-7 12-5 12-3 12 1 12 2 12 1 12 1 12 1 12-2 12-3 12-6 12-6 12-8 12-9 12-10 12-10 12-11 12-12 12-12 12-11 12-11 12-10 12-8 12-8 12-8 12-7 12-9 12-8 12-9 12-10 12-10 12-11 12-13 12-13 12-16 12-19 12-24 12-28 12-28 12-27 12-22 12-19 12-13 12-7 11-4 12-1 12 3 12 9 12 16 12 21 12 24 12 25 12 24 12 23 12 21 12 20 12 20 12 20 12 21 12 20 12 20 12 17 12 13 12 12 12 12 12 10 12 8 12 5" stroke="#7E2F8E"/>
<path d="M394 4112l12 1 12 2 12 2 12 3 12 3 12 3 12 4 12 4 12 3 12 4 12 5 12 4 12 5 12 4 12 5 12 3 12 2 12-3 12-10 12-14 12-16 12-18 12-17 11-16 12-15 12-14 12-10 12-8 12-6 12-4 12 2 12 12 12 18 12 17 12 22 12 23 12 21 12 16 12-1 12-37 12-54 12-49 12-43 12-40 12-28 12-22 12-9 12 13 12 36 12 47 12 58 12 73 12 61 12 0 12-25 12-33 12-30 12-24 12-22 12-17 12-13 12-6 12 7 12 19 12 26 12 37 12 50 12 33 12-13 11-38 12-45 12-36 12-30 12-21 12-12 12-4 12 6 12 17 12 21 12 27 12 32 12 31 12 30 12 26 12 11 12-49 12-114 12-98 12-47 12-39 12-27 12-8 12 19 12 38 12 46 12 65 12 74 12 62 12 51 12 29 12-13 12-50 12-36 12-24 12-16 12-16 12-10 12 6 12 31 12 38 12 51 12 44 12-48 12-167 12-91 12-3 11 8 12-1 12-4 12-3 12 1 12 3 12 4 12 3 12 1 12-1 12-3 12-4 12-6 12-8 12-9 12-10 12-10 12-11 12-11 12-12 12-13 12-11 12-10 12-7 12-7 12-6 12-7 12-7 12-8 12-9 12-11 12-12 12-14 12-15 12-16 12-17 12-17 12-21 12-25 12-27 12-27 12-24 12-21 12-17 12-12 12-8 11-5 12-3 12 0 12 6 12 13 12 20 12 23 12 25 12 26 12 26 12 25 12 24 12 23 12 23 12 23 12 22 12 20 12 16 12 13 12 12 12 10 12 9 12 7 12 5" stroke="#EDB120"/>
<path d="M394 4112l12 1 12 1 12 2 12 2 12 2 12 3 12 3 12 4 12 3 12 4 12 5 12 5 12 5 12 4 12 5 12 5 12 2 12-3 12-10 12-14 12-16 12-17 12-17 11-16 12-15 12-14 12-11 12-8 12-7 12-5 12 0 12 11 12 18 12 19 12 22 12 25 12 22 12 17 12-1 12-36 12-53 12-48 12-42 12-38 12-30 12-23 12-12 12 10 12 33 12 44 12 58 12 75 12 63 12 0 12-27 12-35 12-31 12-25 12-21 12-15 12-9 12-3 12 11 12 22 12 27 12 36 12 47 12 33 12-13 11-37 12-45 12-38 12-32 12-25 12-15 12-8 12 6 12 15 12 21 12 30 12 35 12 34 12 32 12 26 12 12 12-49 12-114 12-98 12-46 12-40 12-28 12-10 12 17 12 36 12 46 12 65 12 78 12 62 12 52 12 30 12-13 12-53 12-35 12-23 12-15 12-15 12-9 12 7 12 32 12 37 12 52 12 43 12-47 12-164 12-91 12-4 11 6 12-3 12-6 12-5 12-1 12 1 12 3 12 2 12 1 12 0 12-2 12-3 12-5 12-7 12-8 12-9 12-10 12-10 12-10 12-12 12-12 12-10 12-10 12-7 12-7 12-7 12-7 12-8 12-9 12-10 12-11 12-13 12-14 12-15 12-16 12-16 12-16 12-19 12-24 12-26 12-27 12-25 12-22 12-20 12-15 12-12 11-9 12-7 12-3 12 3 12 12 12 19 12 24 12 27 12 29 12 31 12 28 12 29 12 27 12 25 12 25 12 23 12 20 12 17 12 12 12 11 12 10 12 8 12 6 12 4" stroke="#D95319"/>
<path d="M394 4096l12 1 12 2 12 3 12 3 12 4 12 3 12 5 12 4 12 4 12 5 12 5 12 5 12 5 12 5 12 6 12 4 12 3 12-4 12-11 12-14 12-17 12-20 12-18 11-18 12-17 12-16 12-13 12-11 12-11 12-8 12-2 12 11 12 19 12 21 12 27 12 31 12 27 12 21 12 0 12-37 12-55 12-50 12-44 12-40 12-30 12-23 12-13 12 8 12 34 12 45 12 62 12 79 12 68 12 0 12-29 12-37 12-32 12-28 12-23 12-16 12-11 12-4 12 10 12 22 12 28 12 41 12 50 12 35 12-15 11-46 12-53 12-44 12-37 12-25 12-11 12-3 12 10 12 20 12 25 12 34 12 38 12 36 12 34 12 27 12 13 12-54 12-124 12-106 12-52 12-43 12-29 12-7 12 20 12 41 12 50 12 73 12 84 12 64 12 54 12 30 12-16 12-62 12-38 12-24 12-18 12-18 12-10 12 8 12 38 12 43 12 56 12 47 12-52 12-177 12-96 12-4 11 9 12-3 12-8 12-8 12-3 12 3 12 5 12 4 12 4 12 4 12 3 12 1 12-2 12-5 12-7 12-8 12-10 12-10 12-11 12-14 12-14 12-14 12-13 12-11 12-10 12-9 12-8 12-10 12-10 12-11 12-13 12-14 12-16 12-16 12-18 12-19 12-19 12-23 12-27 12-30 12-30 12-27 12-21 12-19 12-13 12-8 11-6 12-2 12 1 12 7 12 15 12 20 12 24 12 24 12 27 12 28 12 28 12 28 12 27 12 26 12 28 12 27 12 24 12 20 12 15 12 14 12 12 12 9 12 7 12 4" stroke="#0072BD"/>
<path d="M394 4099l12 1 12 2 12 2 12 2 12 2 12 3 12 3 12 4 12 4 12 5 12 5 12 6 12 5 12 6 12 6 12 5 12 2 12-3 12-11 12-14 12-19 12-20 12-19 11-19 12-17 12-17 12-13 12-9 12-8 12-6 12 1 12 13 12 20 12 21 12 26 12 29 12 25 12 20 12-1 12-39 12-57 12-52 12-48 12-42 12-31 12-23 12-10 12 12 12 38 12 49 12 63 12 78 12 67 12 0 12-29 12-37 12-33 12-29 12-26 12-18 12-14 12-5 12 10 12 25 12 30 12 43 12 52 12 36 12-15 11-43 12-51 12-43 12-37 12-28 12-15 12-7 12 6 12 17 12 23 12 34 12 42 12 39 12 35 12 30 12 14 12-53 12-121 12-102 12-49 12-40 12-29 12-9 12 16 12 36 12 46 12 71 12 85 12 65 12 54 12 31 12-17 12-62 12-37 12-21 12-16 12-16 12-9 12 8 12 37 12 41 12 54 12 46 12-52 12-178 12-100 12-6 11 8 12-3 12-9 12-7 12-2 12 4 12 6 12 6 12 4 12 4 12 3 12 0 12-2 12-5 12-8 12-8 12-10 12-10 12-11 12-13 12-14 12-13 12-12 12-9 12-8 12-8 12-7 12-9 12-9 12-11 12-13 12-14 12-16 12-16 12-18 12-18 12-19 12-23 12-27 12-30 12-30 12-29 12-24 12-22 12-17 12-13 11-10 12-6 12-1 12 5 12 15 12 21 12 26 12 27 12 31 12 32 12 30 12 31 12 28 12 27 12 27 12 26 12 23 12 19 12 14 12 13 12 12 12 10 12 8 12 5" stroke="#A2142F"/>
<path d="M394 4093l12-1 12 1 12 1 12 1 12 2 12 3 12 4 12 5 12 5 12 6 12 7 12 7 12 6 12 7 12 7 12 5 12 3 12-4 12-11 12-15 12-19 12-21 12-21 11-20 12-20 12-18 12-14 12-11 12-9 12-6 12 1 12 14 12 23 12 22 12 28 12 30 12 27 12 21 12-1 12-40 12-58 12-54 12-50 12-44 12-32 12-24 12-11 12 12 12 39 12 50 12 66 12 80 12 70 12 0 12-30 12-40 12-35 12-32 12-28 12-19 12-14 12-4 12 13 12 28 12 33 12 46 12 54 12 36 12-15 11-43 12-52 12-44 12-39 12-29 12-17 12-8 12 5 12 16 12 23 12 35 12 44 12 41 12 37 12 32 12 14 12-54 12-124 12-106 12-51 12-44 12-31 12-13 12 15 12 35 12 46 12 77 12 92 12 68 12 56 12 33 12-19 12-67 12-35 12-21 12-15 12-15 12-8 12 9 12 37 12 42 12 56 12 46 12-54 12-183 12-104 12-6 11 9 12-3 12-8 12-7 12 0 12 5 12 8 12 7 12 5 12 5 12 3 12 0 12-2 12-6 12-7 12-9 12-10 12-11 12-12 12-14 12-14 12-15 12-12 12-10 12-8 12-8 12-9 12-9 12-11 12-13 12-15 12-16 12-19 12-19 12-20 12-19 12-20 12-21 12-25 12-26 12-26 12-24 12-19 12-17 12-15 12-11 11-10 12-8 12-5 12 0 12 9 12 15 12 20 12 23 12 28 12 31 12 32 12 34 12 32 12 32 12 32 12 30 12 27 12 22 12 17 12 14 12 12 12 10 12 6 12 4" stroke="#4DBEEE"/>
<path d="M394 4080l12 1 12 1 12 1 12 2 12 2 12 4 12 5 12 5 12 6 12 6 12 8 12 8 12 7 12 7 12 8 12 6 12 3 12-4 12-11 12-15 12-19 12-22 12-22 11-22 12-21 12-20 12-17 12-12 12-12 12-7 12 0 12 14 12 23 12 25 12 30 12 34 12 28 12 24 12-1 12-41 12-61 12-56 12-53 12-47 12-33 12-24 12-11 12 14 12 41 12 53 12 70 12 83 12 72 12 0 12-31 12-40 12-36 12-33 12-30 12-21 12-16 12-7 12 12 12 28 12 35 12 50 12 56 12 38 12-16 11-48 12-56 12-46 12-41 12-29 12-15 12-6 12 7 12 18 12 24 12 37 12 46 12 43 12 37 12 32 12 15 12-57 12-130 12-112 12-54 12-47 12-34 12-12 12 15 12 38 12 49 12 83 12 99 12 70 12 58 12 33 12-20 12-72 12-35 12-21 12-16 12-16 12-10 12 10 12 39 12 45 12 58 12 48 12-57 12-191 12-107 12-4 11 11 12-2 12-8 12-7 12-1 12 6 12 8 12 6 12 6 12 5 12 3 12 2 12-1 12-6 12-7 12-9 12-10 12-10 12-12 12-14 12-16 12-14 12-12 12-9 12-9 12-7 12-8 12-9 12-10 12-13 12-16 12-17 12-20 12-21 12-22 12-22 12-23 12-25 12-29 12-31 12-31 12-28 12-23 12-21 12-17 12-13 11-11 12-8 12-3 12 4 12 13 12 21 12 25 12 27 12 33 12 36 12 36 12 36 12 34 12 32 12 33 12 30 12 27 12 22 12 16 12 14 12 12 12 10 12 7 12 4" stroke="#77AC30"/>
<path d="M394 4071l12 2 12 2 12 3 12 3 12 3 12 4 12 4 12 5 12 5 12 6 12 7 12 7 12 7 12 8 12 8 12 6 12 4 12-4 12-12 12-15 12-21 12-23 12-23 11-22 12-22 12-21 12-18 12-13 12-12 12-9 12 0 12 14 12 25 12 26 12 32 12 36 12 31 12 26 12 0 12-44 12-62 12-58 12-57 12-51 12-35 12-27 12-13 12 14 12 43 12 55 12 76 12 87 12 77 12 1 12-32 12-42 12-37 12-36 12-32 12-23 12-18 12-8 12 13 12 29 12 37 12 55 12 58 12 41 12-18 11-50 12-58 12-47 12-41 12-28 12-14 12-7 12 5 12 17 12 22 12 36 12 48 12 44 12 40 12 34 12 16 12-62 12-142 12-119 12-54 12-45 12-28 12-7 12 22 12 43 12 52 12 85 12 99 12 69 12 58 12 33 12-23 12-79 12-39 12-21 12-18 12-18 12-10 12 11 12 45 12 49 12 62 12 50 12-60 12-197 12-110 12-5 11 12 12-4 12-12 12-11 12-2 12 5 12 9 12 9 12 8 12 9 12 8 12 5 12 1 12-3 12-6 12-9 12-9 12-10 12-13 12-15 12-17 12-17 12-15 12-12 12-10 12-10 12-9 12-10 12-12 12-14 12-17 12-19 12-21 12-22 12-23 12-24 12-24 12-26 12-31 12-33 12-32 12-28 12-22 12-19 12-15 12-11 11-7 12-4 12 0 12 6 12 15 12 21 12 24 12 25 12 29 12 33 12 33 12 34 12 32 12 32 12 32 12 32 12 30 12 24 12 19 12 16 12 15 12 12 12 9 12 6" stroke="#7E2F8E"/>
<path d="M394 4069l12 2 12 2 12 3 12 3 12 3 12 4 12 4 12 5 12 5 12 6 12 7 12 7 12 8 12 8 12 8 12 7 12 4 12-4 12-12 12-15 12-20 12-24 12-23 11-23 12-24 12-22 12-20 12-15 12-14 12-10 12-1 12 16 12 26 12 28 12 35 12 38 12 31 12 27 12 0 12-44 12-63 12-59 12-59 12-52 12-36 12-28 12-13 12 14 12 45 12 57 12 77 12 89 12 78 12 1 12-32 12-41 12-36 12-35 12-32 12-22 12-17 12-8 12 11 12 29 12 37 12 53 12 58 12 40 12-18 11-51 12-59 12-49 12-46 12-31 12-17 12-8 12 5 12 16 12 24 12 40 12 52 12 47 12 42 12 36 12 16 12-61 12-139 12-118 12-55 12-47 12-34 12-12 12 17 12 39 12 51 12 89 12 106 12 72 12 60 12 35 12-23 12-77 12-36 12-20 12-17 12-17 12-11 12 10 12 41 12 47 12 61 12 50 12-63 12-206 12-116 12-3 11 16 12 0 12-7 12-5 12 3 12 9 12 11 12 9 12 7 12 6 12 5 12 2 12-1 12-5 12-7 12-10 12-10 12-10 12-13 12-15 12-17 12-16 12-14 12-11 12-9 12-10 12-10 12-12 12-14 12-17 12-20 12-22 12-23 12-24 12-24 12-22 12-21 12-22 12-25 12-27 12-26 12-24 12-20 12-19 12-18 12-14 11-12 12-10 12-4 12 3 12 13 12 21 12 26 12 29 12 34 12 37 12 37 12 36 12 33 12 31 12 31 12 29 12 27 12 21 12 16 12 14 12 13 12 12 12 9 12 6" stroke="#EDB120"/>
<path d="M394 4060l12 1 12 1 12 1 12 1 12 1 12 3 12 4 12 5 12 6 12 8 12 9 12 9 12 9 12 10 12 10 12 8 12 4 12-3 12-13 12-16 12-22 12-25 12-26 11-25 12-25 12-24 12-20 12-14 12-14 12-8 12 0 12 18 12 27 12 29 12 36 12 39 12 33 12 28 12-1 12-45 12-66 12-62 12-63 12-56 12-36 12-28 12-13 12 17 12 47 12 59 12 81 12 92 12 80 12 1 12-34 12-44 12-41 12-40 12-37 12-26 12-21 12-10 12 13 12 33 12 42 12 61 12 62 12 43 12-19 11-56 12-64 12-53 12-48 12-32 12-15 12-6 12 7 12 19 12 26 12 43 12 56 12 49 12 44 12 37 12 16 12-63 12-145 12-125 12-60 12-51 12-37 12-14 12 16 12 40 12 52 12 98 12 115 12 77 12 62 12 36 12-25 12-83 12-35 12-18 12-17 12-17 12-10 12 11 12 44 12 48 12 62 12 51 12-66 12-215 12-124 12-7 11 15 12-4 12-12 12-10 12 1 12 10 12 14 12 12 12 11 12 11 12 10 12 7 12 2 12-3 12-6 12-8 12-10 12-10 12-12 12-16 12-18 12-16 12-14 12-11 12-9 12-9 12-10 12-11 12-14 12-17 12-22 12-24 12-27 12-29 12-29 12-29 12-27 12-28 12-30 12-30 12-27 12-22 12-16 12-14 12-11 12-8 11-8 12-6 12-3 12 3 12 10 12 16 12 20 12 21 12 29 12 33 12 36 12 37 12 36 12 35 12 36 12 35 12 31 12 26 12 19 12 16 12 15 12 12 12 9 12 6" stroke="#D95319"/>
<path d="M394 4051l12 1 12 2 12 3 12 3 12 3 12 4 12 6 12 7 12 6 12 8 12 9 12 9 12 9 12 9 12 9 12 8 12 4 12-4 12-12 12-17 12-21 12-25 12-25 11-23 12-23 12-22 12-18 12-14 12-13 12-9 12-2 12 15 12 25 12 27 12 34 12 38 12 33 12 28 12 0 12-46 12-67 12-62 12-64 12-56 12-37 12-29 12-14 12 15 12 46 12 58 12 83 12 93 12 84 12 0 12-35 12-45 12-41 12-41 12-35 12-23 12-18 12-6 12 16 12 34 12 42 12 59 12 61 12 42 12-19 11-54 12-62 12-52 12-47 12-31 12-15 12-7 12 7 12 18 12 25 12 41 12 53 12 48 12 42 12 36 12 17 12-65 12-150 12-128 12-63 12-53 12-38 12-12 12 19 12 44 12 56 12 101 12 116 12 77 12 62 12 36 12-25 12-85 12-37 12-20 12-19 12-19 12-12 12 10 12 46 12 51 12 64 12 53 12-67 12-216 12-121 12-2 11 19 12 0 12-9 12-8 12 2 12 9 12 12 12 10 12 9 12 9 12 8 12 5 12 1 12-4 12-7 12-8 12-10 12-11 12-13 12-16 12-19 12-18 12-15 12-12 12-10 12-9 12-9 12-11 12-13 12-15 12-19 12-21 12-24 12-25 12-25 12-27 12-26 12-28 12-33 12-34 12-34 12-29 12-24 12-22 12-18 12-14 11-11 12-6 12-1 12 7 12 15 12 23 12 26 12 28 12 34 12 37 12 38 12 38 12 35 12 34 12 35 12 33 12 30 12 26 12 18 12 16 12 16 12 12 12 10 12 6" stroke="#0072BD"/>
<path d="M394 4057l12 1 12 2 12 2 12 2 12 2 12 3 12 4 12 6 12 6 12 7 12 9 12 10 12 9 12 9 12 10 12 8 12 4 12-4 12-13 12-16 12-23 12-26 12-28 11-26 12-27 12-26 12-22 12-16 12-15 12-9 12 1 12 19 12 31 12 32 12 38 12 42 12 34 12 28 12 1 12-45 12-65 12-62 12-63 12-58 12-40 12-33 12-18 12 12 12 44 12 59 12 86 12 96 12 86 12 1 12-35 12-45 12-39 12-39 12-33 12-22 12-17 12-6 12 14 12 33 12 39 12 58 12 60 12 42 12-20 11-56 12-65 12-54 12-51 12-34 12-16 12-7 12 6 12 19 12 26 12 44 12 57 12 51 12 44 12 38 12 17 12-65 12-149 12-128 12-60 12-51 12-36 12-11 12 19 12 43 12 54 12 99 12 115 12 75 12 62 12 36 12-26 12-86 12-37 12-19 12-19 12-19 12-11 12 11 12 46 12 51 12 64 12 53 12-67 12-219 12-124 12-4 11 18 12-2 12-11 12-9 12 1 12 10 12 14 12 12 12 11 12 11 12 10 12 6 12 3 12-3 12-6 12-9 12-9 12-11 12-12 12-17 12-18 12-18 12-16 12-12 12-11 12-11 12-10 12-13 12-14 12-18 12-22 12-24 12-27 12-28 12-27 12-28 12-25 12-26 12-29 12-29 12-27 12-23 12-17 12-16 12-14 12-11 11-11 12-9 12-6 12 0 12 8 12 14 12 19 12 21 12 29 12 36 12 40 12 41 12 40 12 39 12 40 12 39 12 35 12 28 12 21 12 18 12 16 12 12 12 9 12 4" stroke="#A2142F"/>
<path d="M394 4052l12-1 12 1 12 1 12 3 12 2 12 5 12 6 12 7 12 7 12 9 12 9 12 10 12 9 12 9 12 9 12 8 12 3 12-4 12-14 12-17 12-23 12-28 12-28 11-26 12-26 12-24 12-19 12-15 12-12 12-8 12 0 12 18 12 27 12 29 12 37 12 41 12 34 12 29 12 0 12-47 12-67 12-63 12-65 12-55 12-36 12-28 12-13 12 16 12 47 12 59 12 82 12 93 12 83 12 1 12-36 12-47 12-42 12-43 12-37 12-25 12-19 12-7 12 17 12 36 12 43 12 61 12 63 12 43 12-20 11-57 12-66 12-55 12-52 12-33 12-16 12-7 12 8 12 20 12 28 12 44 12 58 12 51 12 44 12 37 12 17 12-65 12-151 12-130 12-64 12-56 12-39 12-15 12 18 12 43 12 56 12 105 12 121 12 78 12 64 12 36 12-26 12-89 12-36 12-19 12-19 12-19 12-12 12 11 12 47 12 53 12 65 12 53 12-68 12-218 12-123 12-2 11 18 12-2 12-11 12-10 12-1 12 8 12 12 12 11 12 10 12 11 12 9 12 7 12 4 12-3 12-6 12-8 12-9 12-10 12-13 12-17 12-19 12-18 12-16 12-13 12-10 12-10 12-10 12-11 12-14 12-16 12-19 12-22 12-24 12-26 12-27 12-28 12-27 12-31 12-35 12-36 12-36 12-32 12-25 12-22 12-18 12-13 11-10 12-4 12 1 12 10 12 18 12 24 12 27 12 28 12 33 12 37 12 38 12 37 12 36 12 34 12 36 12 35 12 32 12 27 12 21 12 18 12 17 12 14 12 10 12 6" stroke="#4DBEEE"/>
<path d="M394 4050l12 1 12 1 12 1 12 2 12 3 12 3 12 5 12 7 12 6 12 8 12 10 12 10 12 9 12 10 12 10 12 8 12 5 12-4 12-13 12-17 12-22 12-27 12-27 11-26 12-26 12-26 12-21 12-16 12-16 12-10 12-1 12 18 12 28 12 31 12 39 12 42 12 36 12 30 12 0 12-46 12-67 12-63 12-64 12-58 12-39 12-31 12-17 12 13 12 45 12 58 12 86 12 97 12 87 12 1 12-36 12-47 12-42 12-41 12-35 12-22 12-17 12-5 12 16 12 35 12 42 12 59 12 62 12 42 12-20 11-59 12-68 12-57 12-54 12-36 12-16 12-7 12 8 12 21 12 29 12 46 12 61 12 52 12 45 12 39 12 17 12-65 12-150 12-129 12-62 12-55 12-39 12-14 12 17 12 41 12 55 12 103 12 120 12 78 12 64 12 36 12-27 12-90 12-37 12-19 12-20 12-20 12-12 12 10 12 49 12 53 12 67 12 54 12-70 12-225 12-124 12-2 11 21 12 0 12-9 12-8 12 2 12 10 12 13 12 11 12 10 12 10 12 9 12 6 12 2 12-3 12-7 12-8 12-10 12-10 12-13 12-17 12-19 12-18 12-15 12-11 12-9 12-8 12-9 12-10 12-13 12-16 12-21 12-23 12-27 12-29 12-31 12-31 12-32 12-35 12-38 12-39 12-37 12-32 12-24 12-20 12-16 12-10 11-7 12-2 12 4 12 12 12 20 12 26 12 29 12 29 12 34 12 37 12 38 12 37 12 35 12 34 12 35 12 34 12 31 12 27 12 19 12 18 12 17 12 14 12 11 12 7" stroke="#77AC30"/>
<path d="M394 4045l12 2 12 3 12 3 12 4 12 4 12 5 12 7 12 6 12 7 12 7 12 8 12 9 12 8 12 8 12 9 12 7 12 4 12-4 12-14 12-18 12-24 12-27 12-28 11-26 12-24 12-24 12-19 12-14 12-14 12-10 12 0 12 16 12 28 12 29 12 38 12 42 12 36 12 30 12 1 12-47 12-68 12-63 12-65 12-58 12-39 12-30 12-17 12 14 12 46 12 60 12 86 12 97 12 87 12 1 12-35 12-46 12-41 12-41 12-35 12-24 12-19 12-8 12 14 12 33 12 41 12 62 12 62 12 44 12-22 11-59 12-70 12-56 12-52 12-33 12-13 12-5 12 9 12 22 12 28 12 45 12 58 12 51 12 45 12 38 12 17 12-66 12-152 12-131 12-63 12-54 12-38 12-14 12 17 12 41 12 54 12 104 12 121 12 79 12 64 12 37 12-29 12-93 12-37 12-18 12-17 12-18 12-10 12 13 12 49 12 54 12 65 12 54 12-68 12-219 12-124 12-4 11 16 12-3 12-13 12-11 12 0 12 8 12 13 12 12 12 10 12 12 12 10 12 7 12 3 12-2 12-7 12-8 12-9 12-10 12-13 12-17 12-18 12-17 12-15 12-10 12-9 12-9 12-10 12-11 12-14 12-19 12-23 12-26 12-29 12-31 12-32 12-31 12-30 12-30 12-34 12-33 12-30 12-26 12-19 12-18 12-14 12-12 11-10 12-7 12-2 12 5 12 14 12 21 12 25 12 27 12 35 12 39 12 40 12 41 12 38 12 35 12 36 12 35 12 31 12 26 12 19 12 16 12 16 12 13 12 11 12 6" stroke="#7E2F8E"/>
<path d="M394 4039l12 1 12 2 12 3 12 3 12 3 12 5 12 7 12 7 12 8 12 8 12 10 12 10 12 9 12 10 12 10 12 8 12 4 12-4 12-14 12-18 12-23 12-28 12-29 11-26 12-26 12-24 12-20 12-14 12-14 12-9 12 0 12 17 12 27 12 30 12 37 12 42 12 36 12 30 12 1 12-49 12-69 12-64 12-66 12-58 12-37 12-28 12-14 12 15 12 47 12 59 12 85 12 95 12 87 12 1 12-38 12-50 12-44 12-45 12-38 12-24 12-18 12-5 12 19 12 39 12 44 12 64 12 63 12 43 12-21 11-60 12-70 12-59 12-56 12-37 12-16 12-7 12 10 12 23 12 30 12 49 12 62 12 53 12 46 12 38 12 17 12-66 12-154 12-134 12-68 12-59 12-43 12-16 12 18 12 45 12 60 12 112 12 125 12 81 12 64 12 37 12-26 12-88 12-37 12-21 12-21 12-23 12-15 12 8 12 48 12 54 12 69 12 55 12-73 12-232 12-127 12 2 11 25 12 2 12-9 12-9 12 1 12 8 12 11 12 10 12 9 12 10 12 10 12 8 12 5 12-2 12-4 12-7 12-8 12-9 12-11 12-16 12-18 12-18 12-16 12-13 12-13 12-12 12-13 12-14 12-16 12-20 12-22 12-24 12-25 12-24 12-25 12-24 12-23 12-26 12-31 12-35 12-36 12-34 12-29 12-28 12-26 12-21 11-16 12-11 12-2 12 9 12 19 12 28 12 31 12 33 12 39 12 42 12 42 12 40 12 37 12 34 12 35 12 34 12 31 12 27 12 19 12 18 12 17 12 15 12 12 12 8" stroke="#EDB120"/>
<path d="M394 4041l12 0 12 1 12 1 12 2 12 3 12 4 12 6 12 8 12 8 12 9 12 10 12 10 12 10 12 10 12 10 12 9 12 4 12-4 12-14 12-18 12-24 12-30 12-30 11-28 12-28 12-27 12-22 12-16 12-15 12-10 12 1 12 19 12 30 12 32 12 40 12 45 12 37 12 32 12 0 12-49 12-69 12-66 12-68 12-60 12-38 12-29 12-13 12 17 12 50 12 61 12 88 12 96 12 87 12 1 12-37 12-48 12-44 12-45 12-40 12-27 12-22 12-9 12 16 12 38 12 45 12 67 12 66 12 45 12-21 11-60 12-70 12-57 12-54 12-35 12-15 12-8 12 7 12 20 12 26 12 47 12 62 12 54 12 47 12 40 12 18 12-69 12-158 12-136 12-65 12-56 12-39 12-14 12 19 12 44 12 57 12 110 12 126 12 81 12 65 12 38 12-29 12-94 12-36 12-19 12-18 12-19 12-12 12 12 12 49 12 54 12 67 12 54 12-72 12-230 12-131 12-5 11 20 12-3 12-13 12-11 12 1 12 11 12 16 12 14 12 13 12 14 12 13 12 9 12 5 12-2 12-6 12-8 12-9 12-10 12-14 12-18 12-20 12-19 12-17 12-13 12-11 12-10 12-10 12-12 12-14 12-18 12-22 12-25 12-28 12-30 12-31 12-32 12-31 12-33 12-37 12-38 12-35 12-30 12-23 12-19 12-15 12-11 11-7 12-3 12 2 12 10 12 17 12 23 12 26 12 27 12 32 12 38 12 39 12 40 12 37 12 36 12 38 12 37 12 35 12 28 12 22 12 19 12 17 12 15 12 10 12 7" stroke="#D95319"/>
<path d="M394 4036l12 1 12 3 12 2 12 3 12 3 12 3 12 6 12 6 12 6 12 8 12 10 12 10 12 10 12 10 12 12 12 9 12 5 12-4 12-14 12-18 12-24 12-29 12-30 11-28 12-28 12-27 12-22 12-17 12-15 12-10 12 0 12 19 12 31 12 33 12 41 12 45 12 38 12 32 12 0 12-48 12-70 12-65 12-69 12-60 12-40 12-31 12-16 12 14 12 48 12 61 12 89 12 99 12 90 12 1 12-39 12-51 12-45 12-48 12-41 12-26 12-20 12-7 12 19 12 40 12 48 12 68 12 66 12 45 12-22 11-62 12-72 12-60 12-58 12-38 12-16 12-7 12 8 12 23 12 30 12 50 12 66 12 55 12 48 12 40 12 19 12-68 12-157 12-137 12-68 12-60 12-44 12-17 12 16 12 43 12 59 12 114 12 132 12 82 12 67 12 38 12-29 12-94 12-37 12-19 12-21 12-21 12-15 12 9 12 50 12 56 12 69 12 57 12-77 12-242 12-135 12 1 11 26 12 3 12-9 12-7 12 4 12 12 12 16 12 13 12 11 12 13 12 11 12 8 12 4 12-2 12-6 12-8 12-9 12-10 12-12 12-18 12-19 12-19 12-17 12-13 12-11 12-11 12-12 12-13 12-16 12-19 12-24 12-27 12-29 12-31 12-31 12-32 12-30 12-32 12-37 12-37 12-36 12-31 12-25 12-21 12-18 12-14 11-10 12-5 12 1 12 9 12 19 12 24 12 27 12 28 12 35 12 39 12 42 12 42 12 39 12 39 12 40 12 39 12 36 12 30 12 23 12 20 12 18 12 15 12 11 12 6" stroke="#0072BD"/>
<path d="M394 4032l12 1 12 2 12 3 12 3 12 4 12 5 12 7 12 7 12 8 12 8 12 10 12 10 12 10 12 10 12 10 12 9 12 4 12-4 12-14 12-18 12-25 12-29 12-31 11-28 12-27 12-27 12-21 12-17 12-15 12-10 12 0 12 18 12 30 12 32 12 41 12 45 12 38 12 33 12 0 12-49 12-71 12-67 12-71 12-61 12-40 12-32 12-16 12 16 12 49 12 63 12 91 12 100 12 92 12 1 12-39 12-50 12-44 12-47 12-40 12-26 12-20 12-7 12 18 12 39 12 47 12 67 12 66 12 45 12-22 11-61 12-71 12-59 12-55 12-36 12-16 12-8 12 8 12 20 12 28 12 47 12 63 12 55 12 48 12 41 12 18 12-71 12-162 12-140 12-68 12-58 12-41 12-14 12 20 12 46 12 60 12 114 12 131 12 82 12 66 12 38 12-29 12-97 12-38 12-18 12-20 12-21 12-13 12 11 12 51 12 56 12 69 12 57 12-75 12-237 12-132 12-2 11 23 12-1 12-12 12-9 12 1 12 11 12 15 12 14 12 12 12 14 12 12 12 9 12 5 12-1 12-6 12-8 12-9 12-10 12-13 12-18 12-20 12-20 12-17 12-13 12-11 12-11 12-11 12-12 12-15 12-19 12-23 12-26 12-29 12-30 12-31 12-32 12-30 12-32 12-36 12-38 12-35 12-32 12-24 12-22 12-20 12-16 11-12 12-8 12-1 12 7 12 17 12 23 12 27 12 29 12 37 12 42 12 45 12 44 12 42 12 39 12 41 12 39 12 36 12 29 12 21 12 19 12 17 12 15 12 10 12 6" stroke="#A2142F"/>
<path d="M394 4030l12 0 12 1 12 2 12 3 12 4 12 5 12 7 12 7 12 9 12 9 12 10 12 11 12 10 12 11 12 10 12 9 12 5 12-4 12-15 12-18 12-25 12-29 12-31 11-28 12-28 12-27 12-22 12-16 12-16 12-10 12-1 12 18 12 30 12 32 12 41 12 45 12 39 12 34 12 0 12-50 12-72 12-67 12-72 12-61 12-39 12-30 12-14 12 17 12 50 12 63 12 91 12 99 12 91 12 1 12-39 12-51 12-46 12-48 12-42 12-27 12-21 12-8 12 18 12 41 12 48 12 70 12 67 12 46 12-22 11-61 12-71 12-59 12-56 12-36 12-17 12-8 12 6 12 19 12 27 12 47 12 65 12 56 12 49 12 42 12 19 12-72 12-163 12-140 12-68 12-57 12-40 12-13 12 20 12 45 12 59 12 114 12 131 12 82 12 67 12 38 12-31 12-99 12-38 12-18 12-20 12-21 12-12 12 12 12 52 12 57 12 70 12 56 12-75 12-237 12-134 12-2 11 22 12-1 12-13 12-11 12 1 12 12 12 16 12 14 12 13 12 15 12 13 12 10 12 6 12-2 12-5 12-8 12-9 12-10 12-14 12-18 12-21 12-21 12-18 12-14 12-12 12-11 12-11 12-13 12-15 12-20 12-23 12-26 12-29 12-31 12-31 12-32 12-31 12-32 12-37 12-39 12-36 12-31 12-25 12-21 12-18 12-14 11-10 12-5 12 2 12 10 12 19 12 25 12 28 12 30 12 36 12 41 12 42 12 42 12 38 12 37 12 39 12 38 12 34 12 29 12 21 12 19 12 18 12 15 12 12 12 7" stroke="#4DBEEE"/>
<path d="M394 4030l12 0 12 2 12 3 12 3 12 3 12 5 12 7 12 7 12 8 12 9 12 11 12 10 12 10 12 10 12 11 12 9 12 5 12-4 12-15 12-18 12-24 12-30 12-30 11-28 12-28 12-27 12-23 12-17 12-16 12-11 12-2 12 18 12 30 12 33 12 41 12 46 12 39 12 34 12 1 12-51 12-72 12-68 12-73 12-63 12-41 12-31 12-15 12 16 12 51 12 65 12 93 12 102 12 92 12 1 12-38 12-50 12-45 12-46 12-40 12-25 12-20 12-8 12 17 12 39 12 46 12 68 12 65 12 46 12-22 11-63 12-73 12-60 12-58 12-37 12-16 12-7 12 8 12 21 12 28 12 49 12 66 12 56 12 48 12 42 12 19 12-71 12-164 12-140 12-68 12-59 12-42 12-14 12 19 12 45 12 59 12 116 12 133 12 82 12 67 12 38 12-30 12-101 12-37 12-19 12-20 12-22 12-13 12 12 12 53 12 58 12 70 12 57 12-76 12-239 12-133 12 0 11 24 12 0 12-11 12-9 12 2 12 12 12 15 12 14 12 12 12 13 12 12 12 10 12 4 12-2 12-6 12-8 12-10 12-10 12-14 12-18 12-21 12-21 12-18 12-13 12-12 12-11 12-11 12-13 12-15 12-19 12-23 12-27 12-29 12-30 12-31 12-32 12-30 12-32 12-36 12-38 12-36 12-32 12-25 12-22 12-21 12-16 11-13 12-8 12-1 12 7 12 17 12 24 12 28 12 30 12 38 12 44 12 46 12 46 12 42 12 40 12 42 12 40 12 35 12 30 12 21 12 19 12 17 12 14 12 10 12 6" stroke="#77AC30"/>
<path d="M394 4025l12 2 12 3 12 4 12 4 12 4 12 5 12 7 12 7 12 7 12 9 12 10 12 10 12 9 12 10 12 11 12 9 12 4 12-4 12-15 12-19 12-26 12-31 12-32 11-29 12-29 12-27 12-22 12-17 12-15 12-10 12 0 12 20 12 31 12 33 12 43 12 46 12 39 12 34 12 1 12-51 12-74 12-69 12-75 12-65 12-42 12-33 12-16 12 17 12 52 12 66 12 96 12 104 12 94 12 2 12-39 12-50 12-44 12-46 12-40 12-26 12-20 12-8 12 17 12 38 12 46 12 68 12 66 12 46 12-23 11-66 12-76 12-64 12-61 12-40 12-17 12-8 12 8 12 22 12 30 12 52 12 70 12 60 12 50 12 44 12 19 12-72 12-165 12-141 12-67 12-58 12-40 12-13 12 20 12 45 12 60 12 115 12 133 12 82 12 67 12 38 12-31 12-101 12-38 12-19 12-21 12-23 12-14 12 12 12 53 12 59 12 71 12 58 12-78 12-246 12-137 12-1 11 25 12 0 12-11 12-10 12 2 12 13 12 17 12 15 12 14 12 15 12 13 12 11 12 6 12-1 12-6 12-8 12-9 12-10 12-13 12-19 12-21 12-21 12-18 12-14 12-12 12-12 12-12 12-13 12-17 12-20 12-25 12-28 12-31 12-32 12-33 12-32 12-32 12-32 12-36 12-37 12-35 12-30 12-24 12-20 12-19 12-14 11-12 12-7 12-1 12 8 12 17 12 23 12 27 12 28 12 37 12 43 12 45 12 45 12 42 12 40 12 41 12 41 12 36 12 30 12 22 12 20 12 18 12 14 12 11 12 6" stroke="#7E2F8E"/>
<path d="M394 4020l12 1 12 3 12 4 12 4 12 4 12 5 12 7 12 8 12 8 12 9 12 11 12 11 12 10 12 10 12 11 12 10 12 4 12-4 12-15 12-19 12-25 12-31 12-32 11-30 12-30 12-29 12-24 12-19 12-17 12-12 12-1 12 19 12 32 12 35 12 45 12 49 12 41 12 35 12 1 12-50 12-73 12-69 12-73 12-65 12-41 12-33 12-17 12 16 12 50 12 65 12 95 12 104 12 95 12 1 12-40 12-52 12-46 12-48 12-41 12-26 12-20 12-8 12 19 12 41 12 48 12 70 12 67 12 46 12-23 11-65 12-76 12-62 12-61 12-39 12-17 12-7 12 8 12 22 12 29 12 50 12 69 12 59 12 50 12 43 12 20 12-74 12-171 12-146 12-72 12-61 12-43 12-14 12 21 12 48 12 63 12 123 12 138 12 85 12 68 12 39 12-31 12-101 12-38 12-18 12-21 12-22 12-15 12 11 12 53 12 59 12 72 12 58 12-79 12-247 12-138 12-1 11 26 12 1 12-11 12-10 12 2 12 13 12 16 12 15 12 13 12 14 12 13 12 11 12 5 12-1 12-5 12-8 12-10 12-10 12-14 12-19 12-21 12-21 12-18 12-14 12-12 12-11 12-11 12-14 12-16 12-20 12-25 12-28 12-31 12-32 12-32 12-32 12-31 12-32 12-35 12-37 12-34 12-30 12-24 12-22 12-20 12-17 11-14 12-10 12-3 12 5 12 15 12 23 12 26 12 29 12 37 12 45 12 47 12 48 12 44 12 42 12 43 12 41 12 38 12 30 12 22 12 19 12 17 12 14 12 10 12 5" stroke="#EDB120"/>
<path d="M394 4012l12 1 12 1 12 3 12 3 12 4 12 6 12 8 12 8 12 10 12 10 12 12 12 12 12 11 12 12 12 12 12 9 12 5 12-4 12-15 12-19 12-25 12-32 12-32 11-31 12-30 12-30 12-25 12-19 12-18 12-13 12-2 12 19 12 32 12 36 12 45 12 50 12 42 12 37 12 1 12-52 12-74 12-70 12-76 12-65 12-41 12-31 12-15 12 17 12 53 12 66 12 96 12 104 12 95 12 1 12-40 12-52 12-48 12-50 12-45 12-29 12-23 12-9 12 18 12 41 12 51 12 74 12 70 12 48 12-24 11-68 12-78 12-64 12-62 12-38 12-15 12-5 12 9 12 23 12 31 12 52 12 70 12 60 12 50 12 43 12 20 12-74 12-170 12-147 12-72 12-63 12-45 12-16 12 19 12 45 12 62 12 124 12 142 12 86 12 70 12 40 12-34 12-107 12-38 12-17 12-21 12-21 12-14 12 13 12 56 12 61 12 72 12 59 12-79 12-248 12-138 12-1 11 25 12-1 12-12 12-12 12 1 12 12 12 16 12 15 12 13 12 15 12 15 12 11 12 7 12-1 12-6 12-7 12-10 12-10 12-14 12-19 12-22 12-21 12-19 12-13 12-11 12-11 12-11 12-12 12-16 12-19 12-24 12-28 12-31 12-32 12-33 12-34 12-33 12-34 12-39 12-41 12-39 12-33 12-27 12-25 12-22 12-18 11-15 12-9 12-2 12 8 12 18 12 24 12 29 12 30 12 40 12 46 12 49 12 49 12 45 12 43 12 44 12 42 12 38 12 31 12 23 12 20 12 18 12 15 12 11 12 5" stroke="#D95319"/>
<path d="M394 4013l12 2 12 3 12 4 12 4 12 4 12 6 12 7 12 8 12 8 12 10 12 10 12 11 12 10 12 11 12 12 12 9 12 5 12-5 12-16 12-19 12-27 12-33 12-34 11-31 12-31 12-29 12-23 12-17 12-16 12-10 12 1 12 20 12 34 12 35 12 44 12 49 12 42 12 35 12 1 12-53 12-75 12-72 12-78 12-69 12-43 12-35 12-16 12 17 12 54 12 68 12 100 12 107 12 98 12 2 12-41 12-52 12-47 12-50 12-43 12-28 12-22 12-9 12 18 12 42 12 49 12 74 12 69 12 48 12-24 11-69 12-79 12-65 12-63 12-39 12-15 12-6 12 9 12 23 12 31 12 53 12 71 12 60 12 52 12 43 12 20 12-75 12-173 12-151 12-74 12-64 12-46 12-17 12 19 12 48 12 63 12 128 12 146 12 88 12 70 12 40 12-33 12-106 12-36 12-17 12-20 12-22 12-13 12 13 12 54 12 59 12 72 12 59 12-81 12-252 12-143 12-4 11 25 12-2 12-15 12-12 12 1 12 13 12 19 12 17 12 16 12 18 12 17 12 13 12 8 12 0 12-4 12-7 12-9 12-10 12-13 12-19 12-22 12-22 12-19 12-15 12-13 12-12 12-13 12-14 12-18 12-21 12-27 12-30 12-33 12-34 12-35 12-34 12-33 12-33 12-38 12-39 12-36 12-31 12-24 12-22 12-20 12-16 11-12 12-8 12-1 12 8 12 18 12 24 12 28 12 30 12 39 12 45 12 48 12 48 12 44 12 43 12 43 12 42 12 38 12 31 12 22 12 20 12 17 12 15 12 11 12 5" stroke="#0072BD"/>
<path d="M394 4012l12 2 12 3 12 5 12 4 12 5 12 5 12 7 12 8 12 8 12 8 12 11 12 10 12 10 12 11 12 12 12 10 12 5 12-4 12-16 12-19 12-26 12-32 12-34 11-31 12-30 12-31 12-26 12-20 12-18 12-13 12-1 12 20 12 35 12 37 12 48 12 51 12 43 12 37 12 2 12-52 12-73 12-70 12-77 12-67 12-45 12-36 12-19 12 15 12 51 12 67 12 100 12 108 12 99 12 2 12-41 12-53 12-48 12-50 12-45 12-28 12-23 12-10 12 18 12 42 12 52 12 75 12 71 12 48 12-23 11-68 12-77 12-62 12-60 12-37 12-16 12-7 12 7 12 20 12 28 12 50 12 69 12 60 12 52 12 44 12 21 12-77 12-176 12-150 12-72 12-62 12-42 12-14 12 21 12 47 12 62 12 126 12 144 12 86 12 70 12 41 12-34 12-109 12-37 12-16 12-20 12-21 12-13 12 13 12 56 12 60 12 72 12 59 12-81 12-252 12-144 12-4 11 26 12-2 12-14 12-11 12 3 12 14 12 19 12 17 12 16 12 16 12 16 12 12 12 7 12-1 12-6 12-8 12-10 12-10 12-14 12-20 12-22 12-22 12-18 12-13 12-11 12-10 12-11 12-13 12-15 12-21 12-26 12-30 12-33 12-35 12-36 12-36 12-34 12-35 12-39 12-38 12-37 12-31 12-23 12-23 12-20 12-18 11-15 12-10 12-4 12 5 12 15 12 23 12 27 12 30 12 40 12 48 12 51 12 52 12 47 12 45 12 45 12 43 12 39 12 31 12 23 12 19 12 18 12 14 12 11 12 6" stroke="#A2142F"/>
<path d="M394 4004l12 1 12 2 12 3 12 4 12 5 12 7 12 9 12 9 12 10 12 11 12 12 12 12 12 11 12 11 12 12 12 9 12 5 12-5 12-15 12-20 12-27 12-33 12-34 11-32 12-30 12-29 12-24 12-18 12-16 12-11 12-1 12 20 12 33 12 35 12 45 12 50 12 42 12 37 12 0 12-53 12-76 12-73 12-79 12-69 12-43 12-34 12-18 12 17 12 53 12 68 12 101 12 108 12 101 12 1 12-43 12-54 12-50 12-52 12-45 12-28 12-21 12-8 12 21 12 45 12 52 12 76 12 70 12 48 12-24 11-69 12-81 12-66 12-64 12-40 12-16 12-6 12 9 12 24 12 32 12 54 12 73 12 61 12 52 12 44 12 20 12-75 12-173 12-151 12-74 12-65 12-47 12-17 12 20 12 47 12 63 12 129 12 146 12 88 12 70 12 41 12-34 12-110 12-38 12-18 12-22 12-23 12-16 12 12 12 57 12 62 12 75 12 60 12-84 12-260 12-147 12 0 11 29 12 0 12-13 12-11 12 2 12 14 12 18 12 18 12 16 12 17 12 18 12 14 12 8 12 1 12-4 12-7 12-8 12-10 12-13 12-19 12-22 12-21 12-19 12-15 12-13 12-13 12-13 12-15 12-17 12-22 12-26 12-30 12-32 12-33 12-34 12-33 12-32 12-34 12-38 12-40 12-39 12-35 12-28 12-26 12-24 12-21 11-17 12-11 12-3 12 7 12 17 12 25 12 28 12 31 12 40 12 47 12 50 12 50 12 46 12 43 12 46 12 43 12 40 12 33 12 25 12 21 12 20 12 17 12 12 12 8" stroke="#4DBEEE"/>
<path d="M394 4004l12 2 12 3 12 4 12 4 12 4 12 6 12 8 12 8 12 9 12 10 12 11 12 12 12 11 12 12 12 12 12 11 12 5 12-5 12-15 12-19 12-27 12-33 12-35 11-32 12-32 12-32 12-26 12-21 12-19 12-13 12-1 12 21 12 34 12 38 12 48 12 53 12 44 12 38 12 1 12-53 12-76 12-72 12-78 12-68 12-42 12-34 12-16 12 18 12 53 12 68 12 100 12 107 12 98 12 2 12-43 12-54 12-50 12-54 12-47 12-30 12-24 12-8 12 20 12 46 12 54 12 78 12 71 12 49 12-23 11-69 12-79 12-65 12-63 12-40 12-18 12-8 12 7 12 21 12 28 12 54 12 73 12 63 12 53 12 45 12 21 12-78 12-179 12-154 12-75 12-64 12-45 12-15 12 22 12 50 12 66 12 130 12 148 12 88 12 71 12 41 12-34 12-110 12-37 12-18 12-22 12-23 12-15 12 12 12 57 12 62 12 74 12 60 12-83 12-259 12-146 12-1 11 27 12-1 12-14 12-12 12 1 12 14 12 19 12 18 12 16 12 19 12 17 12 15 12 9 12 0 12-4 12-7 12-8 12-11 12-14 12-20 12-24 12-24 12-21 12-17 12-14 12-14 12-13 12-14 12-17 12-21 12-25 12-29 12-30 12-31 12-32 12-33 12-32 12-35 12-40 12-42 12-41 12-37 12-28 12-26 12-22 12-18 11-12 12-6 12 1 12 12 12 21 12 27 12 29 12 30 12 37 12 44 12 45 12 47 12 43 12 41 12 44 12 44 12 40 12 34 12 26 12 23 12 20 12 18 12 13 12 7" stroke="#77AC30"/>
<path d="M394 4004l12 1 12 2 12 3 12 3 12 4 12 6 12 8 12 9 12 9 12 11 12 12 12 12 12 12 12 11 12 13 12 10 12 5 12-5 12-16 12-20 12-28 12-34 12-36 11-33 12-33 12-32 12-26 12-20 12-18 12-11 12 0 12 22 12 36 12 39 12 48 12 53 12 44 12 38 12 1 12-53 12-76 12-72 12-79 12-70 12-44 12-35 12-19 12 16 12 54 12 68 12 102 12 109 12 101 12 2 12-42 12-54 12-49 12-52 12-45 12-28 12-21 12-9 12 20 12 43 12 52 12 76 12 70 12 49 12-25 11-71 12-82 12-68 12-67 12-42 12-17 12-8 12 9 12 23 12 31 12 56 12 77 12 64 12 53 12 47 12 21 12-78 12-178 12-154 12-75 12-65 12-46 12-17 12 20 12 48 12 64 12 132 12 150 12 89 12 72 12 41 12-35 12-112 12-37 12-17 12-21 12-22 12-14 12 13 12 57 12 62 12 75 12 59 12-83 12-259 12-147 12-2 11 28 12-2 12-14 12-12 12 2 12 14 12 20 12 17 12 17 12 18 12 17 12 14 12 8 12 1 12-5 12-7 12-9 12-11 12-14 12-20 12-23 12-23 12-19 12-16 12-13 12-12 12-13 12-14 12-18 12-22 12-27 12-32 12-34 12-35 12-37 12-36 12-34 12-36 12-39 12-40 12-37 12-32 12-24 12-23 12-19 12-17 11-13 12-8 12-1 12 8 12 18 12 24 12 27 12 29 12 39 12 46 12 49 12 49 12 46 12 44 12 46 12 45 12 40 12 34 12 24 12 22 12 20 12 16 12 12 12 7" stroke="#7E2F8E"/>
<path d="M394 4002l12 1 12 3 12 4 12 4 12 4 12 5 12 7 12 8 12 8 12 10 12 12 12 12 12 11 12 12 12 13 12 11 12 6 12-5 12-16 12-19 12-28 12-33 12-35 11-32 12-31 12-31 12-26 12-19 12-19 12-13 12-1 12 20 12 34 12 37 12 48 12 53 12 44 12 39 12 1 12-54 12-78 12-74 12-82 12-71 12-44 12-36 12-17 12 18 12 55 12 70 12 104 12 111 12 102 12 2 12-43 12-55 12-50 12-55 12-47 12-30 12-23 12-10 12 21 12 45 12 55 12 79 12 73 12 49 12-24 11-70 12-81 12-67 12-65 12-41 12-18 12-8 12 6 12 21 12 29 12 54 12 76 12 65 12 54 12 47 12 22 12-79 12-181 12-155 12-74 12-64 12-45 12-15 12 20 12 48 12 63 12 131 12 152 12 89 12 72 12 41 12-36 12-116 12-37 12-16 12-21 12-21 12-13 12 14 12 59 12 63 12 75 12 60 12-83 12-260 12-148 12-3 11 26 12-2 12-16 12-13 12 1 12 15 12 20 12 19 12 17 12 19 12 18 12 15 12 8 12 1 12-5 12-8 12-10 12-11 12-14 12-22 12-24 12-24 12-20 12-15 12-12 12-11 12-11 12-13 12-16 12-20 12-26 12-30 12-32 12-35 12-37 12-37 12-36 12-37 12-42 12-43 12-41 12-35 12-26 12-25 12-21 12-18 11-14 12-8 12-1 12 9 12 18 12 25 12 29 12 31 12 40 12 48 12 51 12 51 12 47 12 45 12 47 12 44 12 41 12 33 12 24 12 20 12 19 12 16 12 11 12 6" stroke="#EDB120"/>
<path d="M394 3998l12 1 12 1 12 3 12 4 12 4 12 7 12 8 12 10 12 10 12 11 12 12 12 13 12 11 12 12 12 13 12 10 12 5 12-5 12-17 12-20 12-29 12-35 12-36 11-34 12-32 12-32 12-25 12-20 12-18 12-12 12 0 12 21 12 35 12 38 12 48 12 54 12 45 12 39 12 2 12-55 12-78 12-73 12-82 12-70 12-43 12-34 12-17 12 18 12 54 12 69 12 104 12 109 12 102 12 2 12-44 12-56 12-50 12-55 12-47 12-29 12-23 12-7 12 21 12 46 12 54 12 79 12 72 12 49 12-26 11-72 12-84 12-70 12-69 12-44 12-18 12-8 12 9 12 24 12 32 12 58 12 78 12 67 12 55 12 47 12 22 12-79 12-182 12-157 12-77 12-67 12-48 12-18 12 21 12 48 12 66 12 136 12 155 12 91 12 72 12 42 12-36 12-113 12-38 12-16 12-22 12-23 12-15 12 12 12 58 12 64 12 76 12 61 12-86 12-265 12-149 12-1 11 30 12 0 12-14 12-11 12 2 12 13 12 19 12 18 12 15 12 18 12 18 12 14 12 9 12 1 12-4 12-7 12-9 12-10 12-13 12-20 12-23 12-23 12-19 12-15 12-13 12-13 12-13 12-16 12-19 12-24 12-30 12-33 12-36 12-37 12-38 12-36 12-33 12-34 12-38 12-38 12-35 12-30 12-24 12-22 12-21 12-18 11-16 12-10 12-4 12 6 12 16 12 24 12 28 12 30 12 40 12 49 12 52 12 52 12 48 12 45 12 46 12 45 12 40 12 33 12 24 12 21 12 19 12 15 12 12 12 6" stroke="#D95319"/>
<path d="M394 3996l12 1 12 3 12 3 12 4 12 5 12 6 12 8 12 9 12 9 12 11 12 12 12 12 12 11 12 12 12 13 12 11 12 5 12-5 12-16 12-21 12-29 12-35 12-37 11-34 12-33 12-33 12-26 12-20 12-19 12-13 12 0 12 21 12 36 12 39 12 49 12 55 12 46 12 41 12 1 12-56 12-79 12-75 12-83 12-72 12-44 12-34 12-16 12 19 12 56 12 71 12 105 12 111 12 103 12 2 12-44 12-56 12-51 12-56 12-48 12-31 12-25 12-10 12 20 12 46 12 56 12 82 12 74 12 50 12-25 11-73 12-84 12-69 12-67 12-42 12-17 12-7 12 8 12 23 12 30 12 56 12 78 12 65 12 56 12 47 12 22 12-81 12-187 12-161 12-78 12-67 12-46 12-15 12 23 12 51 12 68 12 137 12 156 12 91 12 73 12 41 12-36 12-117 12-39 12-17 12-23 12-24 12-16 12 13 12 60 12 66 12 77 12 63 12-88 12-270 12-150 12 1 11 31 12 1 12-12 12-11 12 3 12 15 12 20 12 19 12 16 12 18 12 17 12 15 12 8 12 0 12-5 12-7 12-10 12-10 12-14 12-22 12-24 12-24 12-20 12-15 12-13 12-12 12-12 12-15 12-18 12-23 12-29 12-33 12-36 12-38 12-40 12-39 12-37 12-39 12-42 12-42 12-40 12-33 12-24 12-22 12-20 12-16 11-11 12-7 12 1 12 11 12 20 12 26 12 29 12 31 12 40 12 48 12 51 12 51 12 47 12 44 12 47 12 46 12 41 12 34 12 25 12 22 12 20 12 17 12 12 12 7" stroke="#0072BD"/>
<path d="M394 3994l12 1 12 2 12 2 12 4 12 3 12 6 12 8 12 9 12 10 12 11 12 12 12 13 12 12 12 13 12 14 12 11 12 5 12-5 12-16 12-21 12-29 12-35 12-37 11-34 12-34 12-33 12-26 12-21 12-18 12-13 12-1 12 22 12 37 12 39 12 50 12 55 12 46 12 40 12 2 12-56 12-80 12-75 12-85 12-74 12-46 12-36 12-19 12 18 12 56 12 72 12 108 12 114 12 106 12 1 12-44 12-57 12-52 12-56 12-49 12-30 12-24 12-9 12 22 12 47 12 57 12 81 12 74 12 51 12-26 11-74 12-85 12-70 12-69 12-43 12-17 12-8 12 8 12 23 12 31 12 58 12 79 12 67 12 56 12 48 12 22 12-81 12-188 12-162 12-78 12-68 12-48 12-17 12 22 12 50 12 67 12 140 12 159 12 92 12 74 12 42 12-37 12-119 12-38 12-16 12-22 12-24 12-15 12 14 12 61 12 65 12 78 12 62 12-87 12-270 12-152 12-1 11 30 12-1 12-15 12-13 12 1 12 15 12 20 12 18 12 17 12 20 12 19 12 16 12 10 12 1 12-4 12-7 12-9 12-10 12-14 12-20 12-24 12-24 12-20 12-15 12-13 12-12 12-12 12-15 12-18 12-23 12-29 12-33 12-37 12-39 12-39 12-40 12-38 12-39 12-43 12-44 12-41 12-34 12-26 12-23 12-22 12-17 11-13 12-7 12 0 12 11 12 21 12 26 12 31 12 32 12 42 12 49 12 53 12 52 12 48 12 46 12 47 12 46 12 42 12 34 12 24 12 22 12 19 12 16 12 12 12 6" stroke="#A2142F"/>
<path d="M394 3990l12 1 12 2 12 3 12 4 12 4 12 7 12 8 12 10 12 10 12 11 12 13 12 13 12 12 12 12 12 14 12 10 12 6 12-5 12-17 12-21 12-30 12-37 12-38 11-34 12-34 12-33 12-27 12-19 12-18 12-12 12 1 12 22 12 37 12 39 12 50 12 55 12 46 12 41 12 1 12-56 12-81 12-76 12-85 12-74 12-45 12-35 12-18 12 19 12 57 12 72 12 108 12 113 12 105 12 2 12-45 12-57 12-52 12-58 12-49 12-31 12-25 12-9 12 22 12 47 12 57 12 83 12 74 12 51 12-26 11-75 12-87 12-71 12-71 12-44 12-18 12-7 12 9 12 24 12 33 12 59 12 81 12 68 12 57 12 48 12 23 12-82 12-187 12-162 12-79 12-69 12-48 12-17 12 21 12 51 12 67 12 141 12 159 12 93 12 73 12 43 12-37 12-119 12-37 12-17 12-23 12-24 12-16 12 13 12 60 12 66 12 78 12 62 12-89 12-275 12-155 12 0 11 32 12 1 12-15 12-12 12 2 12 16 12 21 12 19 12 17 12 20 12 20 12 16 12 10 12 1 12-4 12-7 12-8 12-10 12-14 12-21 12-24 12-24 12-20 12-16 12-13 12-13 12-13 12-15 12-19 12-24 12-29 12-34 12-36 12-38 12-38 12-38 12-36 12-37 12-41 12-42 12-40 12-34 12-27 12-24 12-23 12-20 11-15 12-9 12-2 12 10 12 19 12 26 12 29 12 32 12 42 12 49 12 52 12 53 12 48 12 45 12 47 12 46 12 42 12 35 12 25 12 22 12 21 12 17 12 13 12 8" stroke="#4DBEEE"/>
<path d="M394 3985l12 1 12 1 12 3 12 4 12 4 12 7 12 9 12 10 12 10 12 12 12 14 12 13 12 13 12 13 12 14 12 11 12 6 12-6 12-16 12-21 12-30 12-37 12-38 11-35 12-35 12-35 12-28 12-21 12-20 12-14 12-1 12 22 12 38 12 40 12 52 12 57 12 48 12 42 12 2 12-57 12-81 12-77 12-87 12-75 12-44 12-36 12-17 12 19 12 58 12 73 12 109 12 114 12 107 12 1 12-45 12-59 12-53 12-59 12-52 12-32 12-25 12-9 12 23 12 49 12 59 12 85 12 76 12 52 12-26 11-75 12-86 12-71 12-70 12-45 12-18 12-9 12 6 12 22 12 30 12 58 12 83 12 69 12 58 12 50 12 23 12-84 12-192 12-165 12-79 12-68 12-47 12-15 12 24 12 51 12 69 12 142 12 160 12 93 12 75 12 42 12-38 12-122 12-38 12-17 12-23 12-24 12-16 12 14 12 62 12 67 12 79 12 63 12-91 12-278 12-156 12-1 11 33 12 0 12-15 12-12 12 3 12 17 12 22 12 20 12 19 12 21 12 19 12 17 12 10 12 1 12-5 12-7 12-10 12-10 12-15 12-22 12-25 12-26 12-21 12-15 12-13 12-12 12-12 12-14 12-17 12-23 12-29 12-33 12-36 12-39 12-40 12-41 12-39 12-41 12-45 12-46 12-43 12-36 12-27 12-24 12-22 12-17 11-12 12-6 12 1 12 13 12 21 12 27 12 31 12 31 12 41 12 49 12 52 12 52 12 48 12 46 12 48 12 47 12 42 12 36 12 26 12 23 12 21 12 17 12 13 12 8" stroke="#77AC30"/>
<path d="M394 3985l12 2 12 2 12 3 12 4 12 5 12 6 12 9 12 10 12 10 12 11 12 13 12 13 12 13 12 13 12 13 12 12 12 5 12-5 12-17 12-21 12-29 12-37 12-38 11-36 12-35 12-34 12-29 12-22 12-20 12-14 12-1 12 22 12 38 12 40 12 53 12 57 12 49 12 42 12 2 12-57 12-82 12-77 12-87 12-74 12-45 12-36 12-18 12 20 12 58 12 73 12 110 12 114 12 107 12 2 12-45 12-57 12-53 12-57 12-50 12-31 12-25 12-11 12 21 12 48 12 57 12 84 12 75 12 52 12-27 11-77 12-88 12-73 12-72 12-44 12-18 12-7 12 8 12 24 12 32 12 60 12 83 12 69 12 58 12 50 12 23 12-83 12-192 12-164 12-80 12-68 12-48 12-16 12 22 12 52 12 68 12 143 12 161 12 93 12 74 12 43 12-38 12-122 12-38 12-17 12-22 12-25 12-16 12 14 12 62 12 67 12 79 12 63 12-90 12-277 12-156 12 0 11 32 12 0 12-15 12-13 12 3 12 15 12 22 12 20 12 18 12 20 12 20 12 17 12 10 12 1 12-4 12-7 12-9 12-10 12-15 12-21 12-25 12-25 12-21 12-15 12-13 12-13 12-12 12-15 12-18 12-23 12-30 12-33 12-37 12-39 12-39 12-40 12-39 12-39 12-44 12-45 12-42 12-35 12-27 12-26 12-22 12-20 11-14 12-9 12-1 12 11 12 20 12 27 12 31 12 33 12 43 12 52 12 55 12 55 12 50 12 47 12 49 12 48 12 43 12 35 12 25 12 22 12 20 12 16 12 12 12 6" stroke="#7E2F8E"/>
<path d="M394 3980l12 1 12 2 12 4 12 5 12 5 12 7 12 9 12 10 12 10 12 12 12 13 12 13 12 12 12 13 12 14 12 11 12 6 12-5 12-17 12-22 12-30 12-37 12-39 11-35 12-35 12-34 12-28 12-22 12-20 12-13 12-2 12 22 12 37 12 41 12 53 12 58 12 49 12 43 12 1 12-57 12-82 12-78 12-88 12-76 12-45 12-37 12-18 12 19 12 58 12 73 12 111 12 116 12 109 12 2 12-46 12-59 12-54 12-60 12-51 12-31 12-25 12-10 12 23 12 49 12 59 12 86 12 76 12 53 12-27 11-78 12-89 12-72 12-73 12-44 12-18 12-7 12 9 12 24 12 32 12 60 12 83 12 69 12 58 12 50 12 23 12-84 12-195 12-168 12-82 12-71 12-49 12-16 12 24 12 53 12 70 12 146 12 165 12 95 12 75 12 43 12-39 12-124 12-39 12-16 12-24 12-25 12-16 12 14 12 63 12 68 12 80 12 65 12-93 12-281 12-158 12 1 11 33 12 0 12-15 12-13 12 2 12 16 12 22 12 20 12 19 12 22 12 21 12 17 12 12 12 1 12-3 12-7 12-9 12-10 12-14 12-22 12-26 12-25 12-22 12-17 12-15 12-13 12-14 12-16 12-19 12-24 12-30 12-34 12-37 12-39 12-39 12-39 12-37 12-38 12-43 12-44 12-42 12-36 12-28 12-27 12-24 12-21 11-16 12-10 12-1 12 10 12 21 12 28 12 32 12 33 12 44 12 53 12 56 12 55 12 50 12 47 12 49 12 48 12 43 12 35 12 25 12 23 12 20 12 17 12 13 12 6" stroke="#EDB120"/>
<path d="M394 3977l12 1 12 2 12 4 12 4 12 5 12 6 12 10 12 10 12 10 12 13 12 13 12 14 12 13 12 14 12 14 12 12 12 5 12-5 12-17 12-21 12-31 12-37 12-40 11-37 12-36 12-36 12-29 12-23 12-21 12-14 12-1 12 23 12 39 12 42 12 54 12 59 12 50 12 43 12 2 12-58 12-83 12-78 12-90 12-77 12-47 12-37 12-19 12 18 12 59 12 75 12 113 12 118 12 110 12 2 12-46 12-60 12-54 12-60 12-51 12-32 12-25 12-10 12 23 12 50 12 60 12 87 12 77 12 52 12-27 11-78 12-89 12-73 12-73 12-45 12-18 12-8 12 8 12 23 12 32 12 60 12 84 12 71 12 59 12 50 12 24 12-86 12-197 12-170 12-82 12-71 12-50 12-16 12 23 12 53 12 70 12 149 12 167 12 96 12 76 12 43 12-40 12-126 12-38 12-16 12-23 12-25 12-17 12 15 12 63 12 69 12 81 12 65 12-93 12-284 12-160 12 1 11 34 12 0 12-15 12-12 12 3 12 17 12 23 12 20 12 19 12 22 12 21 12 17 12 11 12 2 12-5 12-7 12-9 12-10 12-15 12-22 12-26 12-26 12-22 12-17 12-14 12-12 12-14 12-15 12-19 12-25 12-31 12-35 12-38 12-41 12-41 12-41 12-40 12-40 12-44 12-44 12-42 12-34 12-27 12-24 12-22 12-19 11-14 12-8 12 0 12 11 12 20 12 27 12 30 12 32 12 43 12 52 12 55 12 55 12 51 12 48 12 50 12 49 12 44 12 36 12 25 12 23 12 21 12 17 12 13 12 7" stroke="#D95319"/>
<path d="M394 3976l12 1 12 3 12 3 12 4 12 5 12 7 12 9 12 10 12 11 12 12 12 13 12 14 12 13 12 13 12 15 12 11 12 6 12-5 12-17 12-22 12-30 12-38 12-39 11-36 12-36 12-34 12-28 12-21 12-20 12-14 12 0 12 22 12 38 12 41 12 52 12 59 12 49 12 43 12 1 12-58 12-83 12-79 12-89 12-77 12-47 12-37 12-18 12 19 12 60 12 74 12 113 12 117 12 110 12 1 12-47 12-60 12-55 12-61 12-52 12-33 12-25 12-10 12 23 12 52 12 60 12 88 12 78 12 53 12-28 11-77 12-90 12-73 12-73 12-45 12-18 12-8 12 8 12 24 12 32 12 60 12 85 12 70 12 59 12 51 12 23 12-85 12-197 12-169 12-82 12-70 12-50 12-16 12 24 12 52 12 70 12 148 12 167 12 95 12 75 12 44 12-40 12-126 12-39 12-16 12-24 12-25 12-17 12 14 12 64 12 69 12 81 12 65 12-93 12-285 12-160 12 0 11 35 12 0 12-15 12-14 12 3 12 16 12 23 12 20 12 20 12 21 12 22 12 18 12 12 12 2 12-4 12-6 12-9 12-10 12-14 12-22 12-25 12-25 12-22 12-16 12-14 12-14 12-13 12-16 12-20 12-25 12-31 12-35 12-39 12-40 12-41 12-40 12-38 12-40 12-43 12-44 12-42 12-35 12-27 12-25 12-24 12-21 11-16 12-10 12-2 12 9 12 19 12 26 12 29 12 32 12 43 12 53 12 56 12 57 12 52 12 49 12 51 12 50 12 45 12 37 12 27 12 24 12 21 12 18 12 12 12 7" stroke="#0072BD"/>
<path d="M394 3970l12 1 12 3 12 3 12 5 12 5 12 7 12 9 12 11 12 11 12 13 12 14 12 14 12 13 12 14 12 14 12 12 12 6 12-6 12-17 12-22 12-31 12-39 12-41 11-38 12-37 12-36 12-29 12-22 12-21 12-14 12 0 12 23 12 40 12 42 12 55 12 60 12 50 12 45 12 2 12-59 12-85 12-80 12-92 12-78 12-48 12-37 12-19 12 20 12 60 12 76 12 115 12 119 12 112 12 2 12-47 12-62 12-55 12-62 12-54 12-33 12-26 12-10 12 24 12 53 12 61 12 90 12 78 12 54 12-28 11-79 12-92 12-75 12-75 12-47 12-19 12-8 12 8 12 23 12 33 12 62 12 87 12 73 12 61 12 52 12 24 12-87 12-200 12-173 12-84 12-72 12-51 12-18 12 23 12 53 12 71 12 153 12 172 12 97 12 77 12 44 12-41 12-128 12-38 12-16 12-23 12-25 12-16 12 14 12 64 12 69 12 82 12 65 12-95 12-292 12-164 12 0 11 35 12 1 12-15 12-13 12 4 12 19 12 25 12 22 12 20 12 23 12 22 12 19 12 11 12 2 12-4 12-7 12-9 12-11 12-15 12-23 12-26 12-26 12-23 12-16 12-14 12-13 12-13 12-16 12-19 12-26 12-32 12-36 12-40 12-42 12-43 12-43 12-40 12-41 12-45 12-44 12-41 12-34 12-25 12-23 12-22 12-19 11-14 12-10 12-1 12 9 12 18 12 25 12 28 12 31 12 42 12 52 12 56 12 57 12 53 12 51 12 52 12 51 12 47 12 38 12 27 12 24 12 22 12 17 12 13 12 7" stroke="#A2142F"/>
<path d="M394 3969l12 0 12 2 12 4 12 4 12 5 12 7 12 9 12 11 12 11 12 13 12 14 12 15 12 13 12 14 12 15 12 12 12 6 12-6 12-18 12-22 12-31 12-40 12-41 11-38 12-37 12-37 12-30 12-22 12-21 12-15 12 0 12 23 12 40 12 43 12 56 12 61 12 51 12 45 12 3 12-60 12-85 12-80 12-93 12-79 12-48 12-38 12-19 12 19 12 61 12 76 12 117 12 120 12 113 12 2 12-48 12-61 12-56 12-62 12-53 12-34 12-26 12-10 12 24 12 51 12 62 12 90 12 79 12 54 12-28 11-81 12-93 12-76 12-76 12-46 12-18 12-7 12 9 12 24 12 32 12 63 12 87 12 73 12 61 12 52 12 24 12-88 12-203 12-175 12-85 12-73 12-51 12-17 12 25 12 54 12 72 12 155 12 173 12 97 12 78 12 44 12-42 12-131 12-38 12-16 12-24 12-26 12-16 12 15 12 66 12 71 12 83 12 66 12-96 12-291 12-165 12 0 11 36 12 0 12-17 12-13 12 3 12 17 12 25 12 22 12 21 12 24 12 23 12 19 12 12 12 3 12-4 12-7 12-9 12-10 12-16 12-23 12-27 12-27 12-23 12-17 12-15 12-13 12-14 12-16 12-19 12-26 12-32 12-36 12-40 12-43 12-43 12-43 12-41 12-42 12-46 12-47 12-42 12-36 12-26 12-24 12-23 12-19 11-14 12-8 12-1 12 11 12 21 12 27 12 30 12 32 12 43 12 53 12 58 12 58 12 53 12 50 12 53 12 51 12 46 12 38 12 27 12 24 12 21 12 18 12 13 12 7" stroke="#4DBEEE"/>
<path d="M394 3965l12 1 12 3 12 3 12 4 12 5 12 7 12 9 12 10 12 11 12 13 12 14 12 15 12 14 12 14 12 15 12 13 12 6 12-5 12-18 12-22 12-32 12-39 12-42 11-38 12-38 12-38 12-30 12-24 12-22 12-15 12-1 12 24 12 40 12 44 12 57 12 63 12 52 12 46 12 2 12-60 12-85 12-82 12-94 12-80 12-48 12-39 12-20 12 20 12 61 12 77 12 118 12 122 12 114 12 2 12-48 12-62 12-57 12-64 12-55 12-34 12-27 12-11 12 25 12 53 12 63 12 92 12 80 12 55 12-29 11-82 12-94 12-77 12-77 12-47 12-18 12-8 12 10 12 24 12 34 12 63 12 89 12 74 12 62 12 53 12 24 12-89 12-204 12-177 12-86 12-74 12-52 12-17 12 24 12 54 12 73 12 157 12 176 12 98 12 79 12 44 12-42 12-133 12-38 12-16 12-24 12-26 12-17 12 14 12 67 12 71 12 84 12 67 12-98 12-297 12-168 12 1 11 37 12 1 12-16 12-14 12 4 12 18 12 25 12 23 12 21 12 24 12 24 12 20 12 12 12 3 12-3 12-7 12-9 12-10 12-15 12-23 12-26 12-27 12-23 12-17 12-15 12-13 12-15 12-16 12-21 12-26 12-33 12-38 12-42 12-43 12-44 12-43 12-41 12-42 12-45 12-45 12-42 12-35 12-26 12-25 12-23 12-21 11-16 12-10 12-2 12 10 12 19 12 26 12 29 12 32 12 44 12 54 12 59 12 59 12 55 12 52 12 54 12 52 12 47 12 39 12 28 12 25 12 22 12 18 12 13 12 7" stroke="#77AC30"/>
<path d="M394 3964l12 1 12 2 12 4 12 4 12 5 12 7 12 10 12 11 12 11 12 12 12 15 12 14 12 14 12 14 12 15 12 13 12 6 12-5 12-18 12-23 12-31 12-40 12-42 11-38 12-38 12-37 12-31 12-23 12-22 12-15 12-2 12 24 12 41 12 44 12 56 12 63 12 52 12 47 12 2 12-60 12-86 12-81 12-95 12-80 12-49 12-39 12-20 12 20 12 61 12 77 12 119 12 122 12 115 12 2 12-49 12-62 12-57 12-63 12-55 12-34 12-27 12-11 12 24 12 54 12 63 12 92 12 80 12 55 12-29 11-82 12-94 12-76 12-78 12-46 12-18 12-8 12 9 12 24 12 32 12 64 12 89 12 74 12 62 12 53 12 25 12-90 12-206 12-177 12-86 12-73 12-52 12-16 12 24 12 55 12 73 12 157 12 175 12 99 12 78 12 45 12-43 12-133 12-38 12-16 12-24 12-26 12-17 12 15 12 66 12 72 12 84 12 67 12-98 12-297 12-168 12 0 11 37 12 1 12-16 12-14 12 4 12 19 12 25 12 23 12 22 12 24 12 23 12 20 12 12 12 3 12-4 12-6 12-10 12-10 12-15 12-23 12-27 12-27 12-23 12-17 12-14 12-13 12-14 12-16 12-20 12-27 12-32 12-38 12-42 12-43 12-45 12-44 12-42 12-43 12-46 12-46 12-43 12-35 12-27 12-24 12-23 12-20 11-15 12-9 12-1 12 11 12 20 12 27 12 31 12 33 12 44 12 54 12 59 12 59 12 53 12 51 12 53 12 52 12 46 12 38 12 28 12 24 12 22 12 18 12 13 12 8" stroke="#7E2F8E"/>
<path d="M394 3960l12 1 12 3 12 3 12 5 12 5 12 7 12 9 12 11 12 11 12 13 12 15 12 15 12 14 12 15 12 15 12 13 12 6 12-5 12-19 12-22 12-32 12-41 12-42 11-40 12-38 12-38 12-32 12-24 12-22 12-15 12-1 12 25 12 41 12 45 12 58 12 63 12 53 12 47 12 2 12-61 12-86 12-82 12-96 12-82 12-49 12-40 12-19 12 20 12 62 12 78 12 120 12 123 12 117 12 2 12-49 12-63 12-57 12-65 12-56 12-34 12-28 12-10 12 24 12 54 12 64 12 94 12 80 12 56 12-29 11-84 12-95 12-78 12-79 12-48 12-17 12-8 12 9 12 25 12 33 12 64 12 91 12 75 12 63 12 54 12 25 12-91 12-208 12-179 12-88 12-75 12-52 12-18 12 25 12 55 12 74 12 160 12 179 12 99 12 80 12 45 12-43 12-135 12-39 12-15 12-24 12-27 12-18 12 15 12 68 12 72 12 85 12 68 12-100 12-300 12-170 12 2 11 37 12 2 12-17 12-13 12 3 12 19 12 26 12 23 12 21 12 25 12 24 12 20 12 13 12 3 12-3 12-7 12-9 12-10 12-15 12-24 12-27 12-28 12-23 12-18 12-14 12-14 12-14 12-17 12-20 12-27 12-33 12-39 12-41 12-44 12-45 12-44 12-41 12-43 12-46 12-47 12-43 12-36 12-27 12-26 12-24 12-20 11-16 12-10 12-1 12 10 12 21 12 27 12 31 12 33 12 46 12 55 12 60 12 60 12 55 12 51 12 54 12 53 12 47 12 39 12 28 12 24 12 22 12 18 12 14 12 7" stroke="#EDB120"/>
<path d="M394 3957l12 1 12 2 12 4 12 5 12 5 12 7 12 10 12 11 12 11 12 14 12 15 12 15 12 14 12 14 12 16 12 13 12 6 12-5 12-19 12-22 12-33 12-41 12-43 11-39 12-40 12-38 12-32 12-24 12-22 12-15 12-1 12 24 12 42 12 45 12 59 12 64 12 53 12 48 12 2 12-61 12-87 12-83 12-97 12-83 12-49 12-40 12-20 12 20 12 63 12 79 12 121 12 124 12 117 12 2 12-49 12-63 12-58 12-66 12-56 12-35 12-28 12-10 12 24 12 55 12 65 12 95 12 81 12 56 12-30 11-84 12-97 12-79 12-79 12-49 12-18 12-7 12 9 12 25 12 34 12 65 12 92 12 76 12 63 12 55 12 25 12-91 12-210 12-180 12-88 12-76 12-53 12-18 12 24 12 56 12 74 12 161 12 181 12 100 12 80 12 46 12-44 12-137 12-38 12-16 12-24 12-27 12-17 12 15 12 68 12 74 12 85 12 68 12-101 12-302 12-171 12 1 11 38 12 1 12-17 12-14 12 4 12 19 12 26 12 24 12 22 12 25 12 25 12 20 12 14 12 3 12-3 12-7 12-9 12-10 12-15 12-24 12-28 12-28 12-23 12-18 12-15 12-13 12-15 12-16 12-21 12-27 12-34 12-38 12-42 12-45 12-45 12-44 12-43 12-43 12-47 12-47 12-44 12-36 12-28 12-25 12-24 12-21 11-16 12-9 12-1 12 11 12 21 12 28 12 31 12 33 12 45 12 55 12 60 12 60 12 55 12 52 12 54 12 53 12 48 12 39 12 29 12 25 12 23 12 18 12 14 12 7" stroke="#D95319"/>
<path d="M394 3955l12 1 12 3 12 3 12 5 12 5 12 7 12 10 12 11 12 12 12 13 12 15 12 16 12 14 12 14 12 16 12 13 12 7 12-6 12-18 12-23 12-33 12-41 12-44 11-40 12-39 12-39 12-32 12-24 12-23 12-15 12-1 12 25 12 42 12 46 12 59 12 64 12 54 12 48 12 2 12-61 12-88 12-83 12-98 12-83 12-50 12-40 12-21 12 21 12 63 12 79 12 123 12 124 12 118 12 2 12-49 12-64 12-58 12-66 12-57 12-35 12-28 12-11 12 25 12 55 12 65 12 96 12 82 12 56 12-30 11-84 12-98 12-79 12-80 12-49 12-18 12-8 12 9 12 25 12 34 12 66 12 93 12 76 12 64 12 55 12 25 12-92 12-210 12-182 12-88 12-77 12-53 12-18 12 25 12 55 12 75 12 162 12 182 12 101 12 80 12 46 12-44 12-138 12-38 12-16 12-24 12-27 12-17 12 15 12 68 12 74 12 86 12 68 12-101 12-305 12-172 12 1 11 39 12 1 12-17 12-14 12 4 12 19 12 27 12 24 12 22 12 26 12 25 12 21 12 14 12 3 12-3 12-7 12-9 12-10 12-16 12-23 12-29 12-28 12-23 12-18 12-15 12-14 12-14 12-17 12-21 12-27 12-34 12-39 12-42 12-45 12-46 12-45 12-43 12-43 12-48 12-47 12-44 12-37 12-27 12-25 12-24 12-21 11-16 12-9 12-1 12 11 12 21 12 28 12 31 12 33 12 45 12 55 12 61 12 60 12 56 12 52 12 55 12 54 12 48 12 40 12 28 12 25 12 23 12 19 12 14 12 7" stroke="#0072BD"/>
</g>
<rect x="39.4" y="251.5" width="222.80" height="168.90" fill="none" stroke="#767676" stroke-width="1.1"/>
<line x1="39.40" y1="420.4" x2="39.40" y2="418.2" stroke="#767676" stroke-width="0.8"/>
<line x1="39.40" y1="251.5" x2="39.40" y2="253.7" stroke="#767676" stroke-width="0.8"/>
<text transform="translate(39.40,433.60) scale(0.982,1)" text-anchor="middle" font-size="9.5">0</text>
<line x1="95.10" y1="420.4" x2="95.10" y2="418.2" stroke="#767676" stroke-width="0.8"/>
<line x1="95.10" y1="251.5" x2="95.10" y2="253.7" stroke="#767676" stroke-width="0.8"/>
<text transform="translate(95.10,433.60) scale(0.982,1)" text-anchor="middle" font-size="9.5">500</text>
<line x1="150.80" y1="420.4" x2="150.80" y2="418.2" stroke="#767676" stroke-width="0.8"/>
<line x1="150.80" y1="251.5" x2="150.80" y2="253.7" stroke="#767676" stroke-width="0.8"/>
<text transform="translate(150.80,433.60) scale(0.982,1)" text-anchor="middle" font-size="9.5">1000</text>
<line x1="206.50" y1="420.4" x2="206.50" y2="418.2" stroke="#767676" stroke-width="0.8"/>
<line x1="206.50" y1="251.5" x2="206.50" y2="253.7" stroke="#767676" stroke-width="0.8"/>
<text transform="translate(206.50,433.60) scale(0.982,1)" text-anchor="middle" font-size="9.5">1500</text>
<line x1="262.20" y1="420.4" x2="262.20" y2="418.2" stroke="#767676" stroke-width="0.8"/>
<line x1="262.20" y1="251.5" x2="262.20" y2="253.7" stroke="#767676" stroke-width="0.8"/>
<text transform="translate(262.20,433.60) scale(0.982,1)" text-anchor="middle" font-size="9.5">2000</text>
<line x1="39.4" y1="420.40" x2="41.6" y2="420.40" stroke="#767676" stroke-width="0.8"/>
<line x1="262.2" y1="420.40" x2="260.0" y2="420.40" stroke="#767676" stroke-width="0.8"/>
<text transform="translate(35.80,423.40) scale(0.982,1)" text-anchor="end" font-size="9.5">0</text>
<line x1="39.4" y1="386.62" x2="41.6" y2="386.62" stroke="#767676" stroke-width="0.8"/>
<line x1="262.2" y1="386.62" x2="260.0" y2="386.62" stroke="#767676" stroke-width="0.8"/>
<text transform="translate(35.80,389.62) scale(0.982,1)" text-anchor="end" font-size="9.5">200</text>
<line x1="39.4" y1="352.84" x2="41.6" y2="352.84" stroke="#767676" stroke-width="0.8"/>
<line x1="262.2" y1="352.84" x2="260.0" y2="352.84" stroke="#767676" stroke-width="0.8"/>
<text transform="translate(35.80,355.84) scale(0.982,1)" text-anchor="end" font-size="9.5">400</text>
<line x1="39.4" y1="319.06" x2="41.6" y2="319.06" stroke="#767676" stroke-width="0.8"/>
<line x1="262.2" y1="319.06" x2="260.0" y2="319.06" stroke="#767676" stroke-width="0.8"/>
<text transform="translate(35.80,322.06) scale(0.982,1)" text-anchor="end" font-size="9.5">600</text>
<line x1="39.4" y1="285.28" x2="41.6" y2="285.28" stroke="#767676" stroke-width="0.8"/>
<line x1="262.2" y1="285.28" x2="260.0" y2="285.28" stroke="#767676" stroke-width="0.8"/>
<text transform="translate(35.80,288.28) scale(0.982,1)" text-anchor="end" font-size="9.5">800</text>
<line x1="39.4" y1="251.50" x2="41.6" y2="251.50" stroke="#767676" stroke-width="0.8"/>
<line x1="262.2" y1="251.50" x2="260.0" y2="251.50" stroke="#767676" stroke-width="0.8"/>
<text transform="translate(35.80,254.50) scale(0.982,1)" text-anchor="end" font-size="9.5">1000</text>
<text transform="translate(151.20,246.05) scale(1.03,1)" text-anchor="middle" font-size="10.2">Trajectory CSI between RP3 and RP4</text>
<text transform="translate(150.80,447.80) scale(1.025,1)" text-anchor="middle" font-size="10.2">Samples (time series)</text>
<text transform="translate(14.80,335.95) rotate(-90) scale(1.035,1)" x="0" y="0" text-anchor="middle" font-size="10.2">CSI Amplitude</text>
<g fill="none" stroke-width="9.0" stroke-linejoin="round" transform="scale(0.1)">
<path d="M3120 4030l12-1 12 0 12-1 12-1 12-1 12-1 12-1 12-1 12-1 12-1 12-1 12-2 12-2 12-2 12-1 12-2 12-1 12 0 12 4 12 7 12 11 12 50 12 62 11 11 12-49 12-69 12-48 12-35 12-32 12-28 12-22 12-16 12-14 12-12 12-9 12-5 12 2 12 8 12 14 12 19 12 38 12 65 12 70 12 87 12 15 12-109 12-73 12-28 12-20 12-9 12 7 12 25 12 36 12 58 12 104 12 27 12-74 12-93 12-46 12-35 12-28 12-19 12-7 12 22 12 43 12 70 12 88 12 30 12-60 11-95 12-70 12-38 12-30 12-8 12 104 12 143 12 23 12-59 12-63 12-25 12-17 12-8 12 22 12 46 12 38 12 41 12 29 12-4 12-48 12-62 12-42 12-19 12-17 12-15 12-13 12-9 12-5 12-1 12 22 12 45 12 51 12 72 12 85 12 42 12-31 12-64 12-47 12-30 12-25 12-11 12 19 12 47 12 49 12 61 12 32 12-28 11-58 12-55 12-25 12-17 12-13 12-10 12-8 12-7 12-5 12-5 12-4 12-3 12 4 12 32 12 41 12 49 12 49 12 6 12-37 12-49 12-37 12-25 12-21 12-11 12 5 12 22 12 26 12 21 12 5 12-6 12-11 12-15 12-26 12-44 12-53 12-56 12-50 12-53 12-55 12-49 12-33 12-24 12-22 12-19 12-17 12-13 11-8 12-4 12 4 12 12 12 18 12 22 12 23 12 23 12 21 12 23 12 24 12 26 12 26 12 26 12 27 12 25 12 24 12 24 12 24 12 23 12 24 12 23 12 23 12 22" stroke="#EDB120"/>
<path d="M3120 4015l12-1 12 0 12-1 12-1 12 0 12-1 12-1 12-1 12-2 12-1 12-1 12-2 12-1 12-2 12 0 12 0 12 1 12 2 12 6 12 9 12 12 12 49 12 60 11 9 12-50 12-68 12-49 12-38 12-34 12-30 12-25 12-18 12-15 12-14 12-10 12-5 12 2 12 10 12 15 12 21 12 43 12 66 12 71 12 87 12 14 12-106 12-72 12-29 12-20 12-9 12 7 12 25 12 37 12 58 12 102 12 27 12-76 12-95 12-49 12-38 12-30 12-19 12-6 12 23 12 45 12 72 12 91 12 29 12-63 11-99 12-71 12-41 12-30 12-10 12 107 12 149 12 24 12-59 12-63 12-25 12-18 12-7 12 23 12 46 12 39 12 42 12 29 12-4 12-49 12-63 12-43 12-22 12-19 12-16 12-12 12-9 12-5 12-1 12 25 12 47 12 53 12 74 12 86 12 42 12-30 12-62 12-46 12-30 12-24 12-12 12 19 12 47 12 49 12 60 12 32 12-28 11-57 12-55 12-27 12-18 12-14 12-12 12-9 12-7 12-7 12-5 12-5 12-2 12 4 12 32 12 42 12 50 12 50 12 6 12-35 12-48 12-35 12-24 12-20 12-10 12 7 12 21 12 26 12 20 12 3 12-9 12-15 12-18 12-29 12-46 12-56 12-57 12-52 12-54 12-55 12-48 12-33 12-23 12-20 12-19 12-16 12-12 11-9 12-3 12 4 12 12 12 18 12 21 12 23 12 22 12 20 12 22 12 23 12 25 12 25 12 25 12 25 12 25 12 23 12 23 12 23 12 23 12 22 12 22 12 22 12 22" stroke="#D95319"/>
<path d="M3120 4009l12-1 12 0 12-1 12-1 12-1 12 0 12-1 12-1 12 0 12-1 12-1 12-1 12-1 12-1 12-1 12 1 12 1 12 2 12 6 12 9 12 12 12 49 12 59 11 8 12-51 12-68 12-50 12-38 12-35 12-30 12-24 12-17 12-15 12-13 12-10 12-6 12 2 12 8 12 16 12 21 12 43 12 66 12 72 12 86 12 14 12-105 12-71 12-28 12-20 12-9 12 7 12 26 12 36 12 59 12 101 12 27 12-76 12-97 12-51 12-40 12-30 12-21 12-7 12 24 12 46 12 73 12 92 12 31 12-65 11-100 12-72 12-41 12-30 12-9 12 107 12 151 12 25 12-59 12-63 12-25 12-18 12-7 12 23 12 47 12 39 12 42 12 29 12-4 12-50 12-63 12-43 12-23 12-20 12-17 12-12 12-9 12-5 12-1 12 25 12 49 12 53 12 74 12 86 12 43 12-30 12-61 12-45 12-29 12-24 12-12 12 19 12 47 12 49 12 60 12 32 12-28 11-57 12-55 12-27 12-19 12-15 12-12 12-10 12-8 12-6 12-6 12-4 12-3 12 5 12 32 12 43 12 50 12 50 12 6 12-34 12-48 12-35 12-23 12-20 12-10 12 7 12 22 12 25 12 19 12 4 12-11 12-16 12-18 12-30 12-47 12-56 12-58 12-53 12-55 12-56 12-48 12-33 12-23 12-20 12-18 12-15 12-12 11-7 12-3 12 4 12 13 12 17 12 21 12 23 12 21 12 19 12 22 12 22 12 24 12 24 12 24 12 25 12 23 12 23 12 23 12 23 12 22 12 22 12 22 12 22 12 22" stroke="#0072BD"/>
<path d="M3120 3994l12-1 12 0 12 0 12 0 12-1 12-1 12 0 12-1 12-1 12-1 12-1 12-1 12-1 12-1 12 1 12 2 12 2 12 5 12 8 12 10 12 14 12 48 12 57 11 5 12-51 12-69 12-52 12-41 12-37 12-33 12-25 12-20 12-15 12-13 12-10 12-5 12 2 12 11 12 17 12 23 12 47 12 68 12 71 12 85 12 14 12-103 12-71 12-28 12-20 12-10 12 7 12 27 12 37 12 59 12 100 12 25 12-77 12-99 12-55 12-44 12-33 12-21 12-7 12 25 12 48 12 76 12 96 12 31 12-67 11-103 12-74 12-41 12-31 12-10 12 109 12 156 12 26 12-60 12-64 12-25 12-18 12-8 12 24 12 49 12 40 12 43 12 30 12-4 12-50 12-64 12-44 12-25 12-22 12-19 12-14 12-10 12-6 12-2 12 26 12 51 12 56 12 76 12 88 12 44 12-28 12-58 12-43 12-28 12-24 12-12 12 19 12 48 12 48 12 60 12 31 12-28 11-57 12-54 12-29 12-21 12-16 12-14 12-11 12-9 12-7 12-7 12-4 12-3 12 4 12 33 12 43 12 51 12 52 12 7 12-33 12-46 12-33 12-22 12-19 12-9 12 9 12 21 12 25 12 18 12 2 12-14 12-21 12-23 12-33 12-50 12-58 12-60 12-53 12-55 12-54 12-47 12-32 12-20 12-18 12-17 12-15 12-12 11-8 12-3 12 4 12 12 12 17 12 20 12 20 12 20 12 19 12 20 12 21 12 22 12 22 12 23 12 22 12 23 12 21 12 21 12 22 12 22 12 21 12 22 12 22 12 22" stroke="#A2142F"/>
<path d="M3120 3987l12-1 12-1 12-1 12-2 12-1 12-2 12-2 12-1 12-2 12-2 12-1 12-1 12-1 12 0 12 3 12 4 12 5 12 7 12 10 12 12 12 14 12 48 12 56 11 4 12-52 12-69 12-52 12-43 12-39 12-35 12-28 12-22 12-18 12-14 12-12 12-6 12 2 12 11 12 18 12 26 12 50 12 70 12 73 12 85 12 15 12-100 12-70 12-28 12-20 12-9 12 7 12 28 12 37 12 60 12 98 12 25 12-78 12-101 12-57 12-47 12-34 12-23 12-8 12 26 12 50 12 77 12 97 12 32 12-70 11-106 12-77 12-44 12-32 12-12 12 110 12 161 12 27 12-61 12-65 12-26 12-17 12-7 12 26 12 50 12 43 12 45 12 31 12-2 12-49 12-62 12-44 12-24 12-22 12-19 12-13 12-10 12-7 12-3 12 25 12 50 12 56 12 75 12 87 12 43 12-28 12-57 12-42 12-29 12-24 12-12 12 19 12 48 12 48 12 59 12 31 12-27 11-56 12-54 12-29 12-21 12-17 12-14 12-11 12-8 12-7 12-5 12-5 12-2 12 4 12 33 12 44 12 51 12 51 12 7 12-32 12-45 12-34 12-22 12-18 12-8 12 9 12 21 12 23 12 17 12 1 12-18 12-25 12-26 12-36 12-51 12-60 12-61 12-53 12-54 12-53 12-45 12-31 12-19 12-16 12-16 12-15 12-12 11-8 12-3 12 4 12 11 12 16 12 18 12 20 12 19 12 17 12 19 12 21 12 21 12 22 12 23 12 23 12 22 12 22 12 21 12 22 12 21 12 21 12 21 12 21 12 21" stroke="#4DBEEE"/>
<path d="M3120 3965l12-2 12-1 12-2 12-1 12 0 12 0 12 0 12 0 12 1 12 1 12 1 12 2 12 1 12 2 12 4 12 5 12 5 12 6 12 10 12 12 12 14 12 48 12 53 11 2 12-53 12-71 12-54 12-46 12-44 12-36 12-30 12-23 12-17 12-13 12-10 12-4 12 4 12 13 12 21 12 28 12 52 12 70 12 73 12 84 12 13 12-99 12-70 12-29 12-21 12-10 12 7 12 28 12 38 12 59 12 97 12 24 12-80 12-103 12-60 12-50 12-34 12-22 12-7 12 28 12 53 12 80 12 99 12 33 12-71 11-108 12-77 12-45 12-31 12-11 12 111 12 165 12 27 12-61 12-65 12-26 12-17 12-8 12 25 12 50 12 41 12 44 12 30 12-4 12-50 12-65 12-46 12-29 12-26 12-20 12-14 12-10 12-6 12-1 12 29 12 54 12 60 12 78 12 90 12 45 12-27 12-55 12-40 12-29 12-24 12-12 12 18 12 47 12 48 12 58 12 29 12-27 11-55 12-54 12-31 12-22 12-17 12-14 12-11 12-8 12-6 12-6 12-4 12-2 12 4 12 33 12 43 12 51 12 51 12 6 12-33 12-44 12-32 12-22 12-17 12-8 12 11 12 22 12 22 12 17 12 1 12-20 12-27 12-26 12-36 12-51 12-60 12-61 12-54 12-56 12-56 12-48 12-33 12-22 12-18 12-18 12-15 12-13 11-7 12-3 12 5 12 11 12 17 12 19 12 21 12 20 12 19 12 21 12 22 12 22 12 23 12 22 12 22 12 22 12 19 12 20 12 18 12 19 12 18 12 18 12 18 12 18" stroke="#77AC30"/>
<path d="M3120 3948l12 0 12 1 12 1 12 0 12 0 12-1 12-1 12-1 12-2 12-2 12-2 12-1 12-1 12 1 12 5 12 7 12 9 12 10 12 15 12 15 12 17 12 47 12 50 11 0 12-53 12-70 12-55 12-47 12-45 12-39 12-32 12-25 12-21 12-17 12-14 12-8 12 1 12 13 12 21 12 31 12 59 12 74 12 75 12 84 12 15 12-93 12-67 12-28 12-20 12-10 12 8 12 29 12 38 12 60 12 94 12 22 12-83 12-108 12-67 12-59 12-39 12-26 12-9 12 30 12 58 12 85 12 106 12 35 12-74 11-111 12-78 12-45 12-31 12-10 12 113 12 171 12 28 12-63 12-67 12-28 12-19 12-10 12 25 12 52 12 42 12 46 12 32 12-3 12-50 12-65 12-46 12-30 12-27 12-20 12-14 12-10 12-6 12-1 12 30 12 56 12 61 12 79 12 91 12 44 12-25 12-51 12-39 12-27 12-24 12-12 12 19 12 48 12 47 12 58 12 29 12-26 11-56 12-53 12-34 12-25 12-20 12-18 12-14 12-11 12-8 12-8 12-5 12-3 12 5 12 35 12 46 12 55 12 54 12 9 12-29 12-41 12-30 12-20 12-16 12-6 12 11 12 21 12 21 12 14 12-1 12-27 12-36 12-35 12-44 12-57 12-64 12-63 12-54 12-53 12-51 12-41 12-28 12-14 12-11 12-14 12-14 12-12 11-9 12-5 12 3 12 9 12 14 12 15 12 15 12 15 12 14 12 16 12 17 12 18 12 19 12 20 12 21 12 21 12 21 12 21 12 22 12 21 12 21 12 21 12 20 12 19" stroke="#7E2F8E"/>
<path d="M3120 3945l12-1 12-2 12-1 12-1 12 0 12-1 12 0 12 0 12 0 12 0 12 1 12 1 12 1 12 2 12 6 12 7 12 8 12 9 12 13 12 15 12 16 12 47 12 50 11-1 12-55 12-71 12-56 12-49 12-46 12-40 12-32 12-25 12-19 12-15 12-12 12-5 12 3 12 15 12 22 12 31 12 59 12 73 12 74 12 84 12 15 12-95 12-68 12-29 12-21 12-10 12 7 12 28 12 39 12 59 12 94 12 22 12-82 12-109 12-67 12-57 12-37 12-24 12-7 12 31 12 57 12 86 12 104 12 35 12-75 11-113 12-80 12-47 12-34 12-12 12 112 12 173 12 28 12-62 12-67 12-26 12-18 12-7 12 27 12 54 12 44 12 46 12 33 12-3 12-51 12-65 12-48 12-31 12-30 12-24 12-17 12-12 12-9 12-2 12 30 12 58 12 64 12 81 12 93 12 47 12-23 12-50 12-38 12-26 12-24 12-12 12 19 12 48 12 46 12 57 12 29 12-28 11-56 12-55 12-34 12-26 12-20 12-18 12-14 12-10 12-8 12-6 12-5 12-2 12 5 12 35 12 46 12 53 12 54 12 7 12-29 12-41 12-30 12-19 12-16 12-5 12 12 12 22 12 21 12 15 12 0 12-26 12-33 12-33 12-42 12-57 12-65 12-66 12-57 12-58 12-55 12-45 12-31 12-18 12-12 12-14 12-13 12-10 11-6 12-2 12 5 12 11 12 16 12 17 12 18 12 17 12 15 12 17 12 18 12 19 12 19 12 20 12 20 12 20 12 20 12 19 12 19 12 19 12 19 12 17 12 18 12 16" stroke="#EDB120"/>
<path d="M3120 3938l12-1 12-2 12-2 12-1 12-2 12-2 12-1 12-1 12 0 12 0 12 0 12 2 12 2 12 3 12 7 12 9 12 9 12 11 12 15 12 15 12 17 12 47 12 48 11-2 12-55 12-70 12-57 12-49 12-46 12-40 12-32 12-26 12-21 12-17 12-14 12-9 12 0 12 12 12 21 12 32 12 62 12 75 12 76 12 84 12 16 12-91 12-66 12-27 12-20 12-9 12 8 12 29 12 38 12 60 12 92 12 22 12-84 12-111 12-69 12-60 12-40 12-24 12-8 12 32 12 59 12 86 12 106 12 35 12-79 11-116 12-84 12-49 12-35 12-13 12 115 12 179 12 31 12-62 12-66 12-25 12-16 12-7 12 28 12 54 12 44 12 46 12 32 12-4 12-51 12-66 12-48 12-33 12-29 12-22 12-14 12-10 12-5 12-1 12 31 12 58 12 62 12 79 12 91 12 43 12-25 12-50 12-37 12-27 12-25 12-12 12 20 12 48 12 48 12 59 12 30 12-26 11-54 12-53 12-34 12-26 12-21 12-19 12-16 12-13 12-9 12-8 12-6 12-3 12 5 12 36 12 47 12 56 12 55 12 9 12-28 12-40 12-30 12-19 12-16 12-6 12 13 12 21 12 19 12 14 12-2 12-29 12-38 12-35 12-44 12-57 12-65 12-65 12-56 12-57 12-55 12-45 12-32 12-18 12-12 12-14 12-12 12-9 11-5 12-1 12 6 12 12 12 16 12 18 12 18 12 16 12 15 12 16 12 16 12 17 12 17 12 17 12 18 12 18 12 18 12 18 12 19 12 18 12 18 12 18 12 17 12 16" stroke="#D95319"/>
<path d="M3120 3924l12 0 12-1 12-1 12-1 12-1 12-2 12-1 12-2 12-1 12-1 12 0 12 1 12 2 12 5 12 9 12 11 12 12 12 13 12 16 12 17 12 17 12 46 12 49 11-3 12-57 12-71 12-60 12-54 12-52 12-46 12-37 12-30 12-23 12-16 12-12 12-4 12 6 12 18 12 26 12 38 12 64 12 76 12 76 12 83 12 14 12-92 12-66 12-29 12-21 12-11 12 8 12 30 12 39 12 60 12 93 12 22 12-84 12-112 12-71 12-62 12-42 12-27 12-11 12 31 12 58 12 88 12 108 12 35 12-81 11-119 12-83 12-49 12-32 12-11 12 118 12 183 12 32 12-62 12-66 12-26 12-17 12-6 12 28 12 55 12 45 12 48 12 33 12-4 12-51 12-67 12-49 12-36 12-34 12-27 12-19 12-16 12-10 12-4 12 31 12 61 12 67 12 85 12 95 12 49 12-20 12-45 12-34 12-25 12-23 12-11 12 20 12 47 12 47 12 56 12 28 12-27 11-56 12-54 12-36 12-28 12-22 12-19 12-16 12-12 12-8 12-8 12-6 12-3 12 3 12 35 12 45 12 53 12 55 12 7 12-27 12-38 12-27 12-17 12-13 12-4 12 16 12 22 12 20 12 14 12 0 12-29 12-37 12-35 12-44 12-58 12-66 12-67 12-59 12-59 12-57 12-47 12-33 12-20 12-14 12-17 12-15 12-12 11-7 12-3 12 4 12 11 12 15 12 16 12 19 12 18 12 18 12 19 12 21 12 21 12 22 12 22 12 20 12 19 12 18 12 16 12 14 12 14 12 12 12 12 12 12 12 12" stroke="#0072BD"/>
<path d="M3120 3906l12-3 12-3 12-3 12-3 12-2 12-2 12 0 12 0 12 0 12 2 12 2 12 4 12 4 12 6 12 10 12 12 12 12 12 15 12 18 12 17 12 20 12 44 12 44 11-8 12-58 12-71 12-60 12-56 12-52 12-43 12-34 12-28 12-19 12-16 12-12 12-6 12 2 12 14 12 23 12 35 12 66 12 76 12 75 12 81 12 14 12-87 12-64 12-28 12-20 12-9 12 9 12 31 12 41 12 61 12 90 12 20 12-86 12-117 12-77 12-70 12-45 12-30 12-10 12 34 12 63 12 94 12 113 12 38 12-83 11-122 12-85 12-50 12-35 12-14 12 117 12 188 12 32 12-65 12-69 12-27 12-17 12-6 12 30 12 58 12 48 12 50 12 36 12-3 12-51 12-66 12-50 12-38 12-36 12-29 12-19 12-15 12-10 12-3 12 33 12 65 12 70 12 87 12 96 12 50 12-19 12-44 12-33 12-26 12-24 12-13 12 19 12 46 12 45 12 54 12 26 12-27 11-55 12-53 12-37 12-30 12-22 12-19 12-15 12-10 12-8 12-6 12-6 12-4 12 4 12 33 12 45 12 53 12 54 12 6 12-27 12-35 12-26 12-15 12-12 12-1 12 17 12 23 12 19 12 13 12-1 12-33 12-43 12-40 12-50 12-63 12-72 12-71 12-62 12-60 12-56 12-44 12-30 12-15 12-8 12-10 12-12 12-9 11-6 12-2 12 5 12 10 12 14 12 14 12 14 12 14 12 13 12 14 12 15 12 16 12 17 12 17 12 18 12 17 12 17 12 16 12 15 12 15 12 14 12 13 12 13 12 12" stroke="#A2142F"/>
<path d="M3120 3893l12 0 12 0 12 0 12 0 12 1 12 0 12 1 12 1 12 1 12 1 12 2 12 2 12 3 12 5 12 9 12 12 12 12 12 14 12 18 12 17 12 20 12 44 12 44 11-8 12-58 12-72 12-62 12-57 12-54 12-46 12-37 12-30 12-21 12-16 12-11 12-5 12 5 12 17 12 25 12 38 12 67 12 77 12 75 12 80 12 13 12-87 12-65 12-29 12-21 12-11 12 9 12 32 12 42 12 61 12 91 12 22 12-86 12-114 12-75 12-67 12-44 12-30 12-12 12 31 12 60 12 90 12 112 12 35 12-87 11-126 12-88 12-51 12-32 12-11 12 122 12 195 12 35 12-62 12-66 12-25 12-17 12-6 12 28 12 57 12 46 12 48 12 34 12-3 12-52 12-67 12-50 12-36 12-34 12-27 12-17 12-14 12-10 12-4 12 31 12 62 12 66 12 83 12 93 12 47 12-21 12-43 12-32 12-25 12-23 12-12 12 20 12 49 12 47 12 57 12 28 12-25 11-54 12-53 12-37 12-30 12-24 12-21 12-18 12-14 12-10 12-8 12-6 12-3 12 6 12 38 12 48 12 58 12 58 12 10 12-25 12-35 12-27 12-17 12-13 12-4 12 15 12 20 12 17 12 11 12-4 12-38 12-50 12-45 12-54 12-65 12-72 12-70 12-59 12-57 12-52 12-40 12-28 12-13 12-8 12-11 12-12 12-9 11-6 12-2 12 4 12 11 12 14 12 15 12 15 12 16 12 14 12 15 12 16 12 16 12 17 12 16 12 16 12 16 12 15 12 14 12 15 12 14 12 14 12 14 12 15 12 14" stroke="#4DBEEE"/>
<path d="M3120 3886l12-2 12-3 12-2 12-2 12-2 12-1 12-1 12-1 12 0 12 1 12 2 12 3 12 5 12 6 12 12 12 15 12 15 12 18 12 20 12 20 12 20 12 45 12 42 11-8 12-58 12-72 12-61 12-58 12-56 12-47 12-39 12-32 12-24 12-17 12-14 12-7 12 4 12 17 12 27 12 41 12 71 12 79 12 77 12 80 12 14 12-86 12-64 12-30 12-22 12-11 12 7 12 32 12 41 12 61 12 87 12 21 12-88 12-118 12-79 12-70 12-44 12-28 12-10 12 34 12 64 12 93 12 113 12 36 12-91 11-129 12-91 12-54 12-34 12-11 12 124 12 201 12 38 12-61 12-65 12-24 12-16 12-6 12 29 12 56 12 45 12 47 12 32 12-6 12-54 12-69 12-53 12-41 12-36 12-27 12-14 12-10 12-5 12 2 12 37 12 66 12 70 12 85 12 94 12 46 12-22 12-44 12-33 12-27 12-25 12-13 12 19 12 47 12 47 12 55 12 28 12-24 11-52 12-52 12-37 12-31 12-24 12-22 12-19 12-15 12-12 12-11 12-9 12-5 12 3 12 36 12 47 12 58 12 59 12 10 12-22 12-32 12-23 12-14 12-11 12-2 12 18 12 22 12 17 12 12 12-4 12-39 12-48 12-46 12-53 12-65 12-72 12-71 12-61 12-59 12-54 12-43 12-29 12-15 12-8 12-12 12-12 12-10 11-7 12-2 12 4 12 11 12 12 12 14 12 13 12 13 12 11 12 12 12 13 12 13 12 13 12 14 12 15 12 15 12 15 12 16 12 16 12 16 12 16 12 16 12 16 12 14" stroke="#77AC30"/>
<path d="M3120 3867l12-2 12-2 12-1 12-2 12 0 12-1 12 0 12 0 12 0 12 1 12 1 12 3 12 3 12 7 12 13 12 16 12 17 12 20 12 22 12 22 12 22 12 44 12 39 11-11 12-60 12-72 12-64 12-62 12-60 12-51 12-42 12-34 12-24 12-17 12-13 12-5 12 5 12 20 12 29 12 43 12 75 12 80 12 77 12 80 12 12 12-81 12-64 12-29 12-21 12-11 12 9 12 34 12 42 12 63 12 88 12 21 12-88 12-119 12-82 12-74 12-48 12-33 12-14 12 32 12 64 12 94 12 117 12 36 12-94 11-133 12-92 12-55 12-34 12-12 12 125 12 206 12 38 12-65 12-68 12-26 12-18 12-6 12 30 12 60 12 49 12 51 12 35 12-2 12-53 12-67 12-51 12-41 12-38 12-29 12-16 12-13 12-7 12-1 12 36 12 68 12 72 12 88 12 96 12 48 12-18 12-41 12-31 12-26 12-25 12-14 12 18 12 46 12 45 12 52 12 25 12-26 11-53 12-52 12-40 12-33 12-26 12-21 12-18 12-13 12-8 12-8 12-6 12-3 12 4 12 37 12 47 12 57 12 58 12 10 12-23 12-31 12-23 12-13 12-10 12 0 12 19 12 22 12 16 12 11 12-4 12-42 12-52 12-49 12-58 12-69 12-77 12-76 12-66 12-63 12-58 12-45 12-32 12-15 12-8 12-11 12-10 12-8 11-4 12 0 12 7 12 12 12 14 12 15 12 16 12 16 12 15 12 15 12 16 12 16 12 15 12 14 12 14 12 13 12 11 12 12 12 11 12 12 12 11 12 13 12 13 12 13" stroke="#7E2F8E"/>
<path d="M3120 3853l12 0 12 0 12 0 12 0 12 0 12 0 12 0 12 0 12 0 12 1 12 1 12 2 12 3 12 7 12 13 12 17 12 18 12 20 12 24 12 23 12 22 12 44 12 37 11-12 12-61 12-72 12-66 12-63 12-62 12-53 12-44 12-35 12-26 12-18 12-13 12-6 12 7 12 21 12 31 12 47 12 78 12 82 12 79 12 79 12 13 12-81 12-63 12-30 12-23 12-12 12 7 12 33 12 42 12 62 12 84 12 20 12-90 12-123 12-85 12-76 12-46 12-30 12-10 12 36 12 68 12 97 12 118 12 36 12-96 11-137 12-97 12-58 12-37 12-15 12 126 12 212 12 40 12-64 12-66 12-24 12-14 12-4 12 33 12 62 12 49 12 52 12 35 12-4 12-54 12-69 12-54 12-45 12-42 12-32 12-19 12-15 12-10 12-2 12 37 12 70 12 75 12 89 12 98 12 49 12-16 12-38 12-29 12-24 12-25 12-13 12 20 12 47 12 45 12 53 12 25 12-25 11-53 12-52 12-41 12-35 12-27 12-24 12-20 12-15 12-10 12-9 12-7 12-4 12 5 12 38 12 49 12 60 12 59 12 11 12-21 12-30 12-21 12-13 12-9 12 0 12 19 12 22 12 15 12 10 12-6 12-45 12-58 12-53 12-61 12-72 12-80 12-77 12-65 12-61 12-54 12-40 12-28 12-10 12-3 12-8 12-9 12-8 11-6 12-1 12 4 12 10 12 11 12 10 12 11 12 10 12 9 12 10 12 11 12 13 12 13 12 15 12 15 12 16 12 17 12 17 12 17 12 17 12 16 12 16 12 13 12 13" stroke="#EDB120"/>
<path d="M3120 3843l12-2 12-1 12 1 12 1 12 3 12 3 12 4 12 3 12 3 12 3 12 2 12 3 12 2 12 5 12 10 12 15 12 15 12 19 12 23 12 23 12 24 12 42 12 35 11-14 12-60 12-71 12-63 12-62 12-58 12-48 12-40 12-32 12-25 12-19 12-16 12-10 12 1 12 16 12 27 12 43 12 78 12 82 12 78 12 80 12 14 12-77 12-61 12-27 12-21 12-10 12 9 12 33 12 42 12 61 12 84 12 17 12-92 12-126 12-90 12-83 12-51 12-31 12-10 12 41 12 74 12 103 12 124 12 42 12-89 11-128 12-90 12-53 12-36 12-16 12 119 12 200 12 33 12-71 12-74 12-32 12-21 12-10 12 30 12 63 12 51 12 55 12 39 12 0 12-49 12-64 12-49 12-40 12-37 12-28 12-18 12-16 12-12 12-7 12 32 12 65 12 71 12 87 12 97 12 48 12-16 12-34 12-26 12-22 12-23 12-10 12 21 12 49 12 47 12 55 12 26 12-26 11-54 12-54 12-42 12-37 12-29 12-27 12-22 12-17 12-11 12-9 12-6 12-1 12 7 12 41 12 51 12 61 12 60 12 11 12-23 12-32 12-23 12-15 12-12 12-1 12 19 12 21 12 13 12 8 12-7 12-49 12-60 12-52 12-58 12-65 12-72 12-69 12-57 12-56 12-51 12-40 12-30 12-14 12-8 12-14 12-15 12-12 11-9 12-3 12 4 12 10 12 12 12 13 12 13 12 13 12 13 12 13 12 13 12 13 12 13 12 12 12 12 12 11 12 10 12 10 12 10 12 10 12 11 12 12 12 13 12 14" stroke="#D95319"/>
<path d="M3120 3825l12 0 12 1 12 1 12 2 12 2 12 2 12 2 12 1 12 1 12 0 12 1 12 2 12 4 12 6 12 14 12 18 12 19 12 23 12 27 12 25 12 24 12 43 12 34 11-15 12-61 12-73 12-66 12-67 12-64 12-57 12-47 12-40 12-30 12-22 12-18 12-9 12 4 12 22 12 33 12 52 12 87 12 87 12 82 12 81 12 16 12-75 12-60 12-28 12-21 12-12 12 9 12 33 12 41 12 61 12 82 12 16 12-94 12-129 12-95 12-88 12-53 12-34 12-13 12 39 12 74 12 105 12 126 12 41 12-99 11-138 12-95 12-56 12-34 12-12 12 129 12 218 12 41 12-64 12-68 12-25 12-16 12-5 12 31 12 62 12 49 12 50 12 34 12-6 12-57 12-72 12-59 12-52 12-49 12-38 12-22 12-17 12-10 12-2 12 42 12 79 12 82 12 95 12 104 12 54 12-11 12-32 12-25 12-22 12-23 12-12 12 20 12 48 12 45 12 52 12 24 12-26 11-54 12-53 12-44 12-38 12-30 12-27 12-23 12-17 12-12 12-11 12-9 12-5 12 4 12 37 12 50 12 60 12 60 12 11 12-19 12-26 12-19 12-10 12-7 12 3 12 23 12 23 12 14 12 9 12-6 12-48 12-61 12-55 12-63 12-74 12-82 12-81 12-69 12-65 12-58 12-43 12-30 12-12 12-3 12-6 12-8 12-5 11-3 12 1 12 7 12 11 12 13 12 11 12 12 12 11 12 9 12 9 12 10 12 10 12 10 12 10 12 11 12 12 12 12 12 13 12 13 12 13 12 13 12 13 12 12 12 12" stroke="#0072BD"/>
<path d="M3120 3842l12 1 12 1 12 0 12-1 12-1 12-2 12-2 12-2 12-3 12-3 12-1 12 1 12 3 12 6 12 16 12 20 12 21 12 25 12 28 12 26 12 25 12 43 12 35 11-15 12-60 12-73 12-66 12-66 12-65 12-57 12-48 12-42 12-32 12-24 12-20 12-11 12 2 12 21 12 33 12 53 12 89 12 88 12 82 12 81 12 16 12-74 12-59 12-28 12-21 12-12 12 9 12 34 12 42 12 62 12 82 12 17 12-93 12-128 12-92 12-84 12-50 12-32 12-10 12 40 12 73 12 103 12 124 12 39 12-98 11-138 12-96 12-57 12-35 12-14 12 128 12 215 12 41 12-66 12-69 12-26 12-18 12-8 12 29 12 60 12 47 12 49 12 33 12-6 12-58 12-71 12-58 12-49 12-45 12-32 12-15 12-10 12-3 12 3 12 43 12 77 12 79 12 91 12 99 12 48 12-18 12-36 12-28 12-25 12-26 12-14 12 19 12 48 12 45 12 53 12 27 12-22 11-49 12-50 12-39 12-33 12-26 12-23 12-20 12-16 12-13 12-13 12-11 12-8 12 0 12 34 12 47 12 58 12 60 12 10 12-19 12-26 12-18 12-10 12-7 12 3 12 23 12 22 12 14 12 8 12-6 12-51 12-63 12-57 12-65 12-74 12-82 12-79 12-67 12-63 12-56 12-42 12-30 12-12 12-4 12-8 12-9 12-8 11-4 12 0 12 7 12 11 12 12 12 12 12 12 12 12 12 12 12 11 12 12 12 12 12 11 12 11 12 11 12 11 12 10 12 9 12 10 12 9 12 9 12 10 12 10 12 10" stroke="#A2142F"/>
<path d="M3120 3818l12-1 12-1 12-1 12 0 12 1 12 0 12 2 12 1 12 2 12 2 12 3 12 5 12 5 12 8 12 15 12 19 12 20 12 23 12 27 12 25 12 25 12 42 12 31 11-18 12-62 12-73 12-67 12-68 12-65 12-56 12-45 12-39 12-28 12-21 12-17 12-10 12 3 12 20 12 32 12 51 12 87 12 87 12 81 12 79 12 15 12-72 12-59 12-28 12-22 12-11 12 8 12 35 12 42 12 62 12 81 12 16 12-94 12-129 12-95 12-87 12-51 12-32 12-11 12 41 12 74 12 104 12 126 12 39 12-102 11-143 12-101 12-61 12-39 12-16 12 128 12 224 12 42 12-66 12-68 12-25 12-15 12-5 12 34 12 64 12 51 12 52 12 36 12-5 12-55 12-70 12-57 12-48 12-45 12-34 12-18 12-13 12-8 12-2 12 40 12 74 12 77 12 90 12 98 12 48 12-15 12-33 12-24 12-23 12-24 12-12 12 21 12 49 12 47 12 54 12 28 12-23 11-50 12-51 12-41 12-37 12-29 12-27 12-24 12-20 12-14 12-13 12-10 12-7 12 4 12 38 12 49 12 61 12 61 12 11 12-19 12-27 12-19 12-12 12-7 12 2 12 24 12 21 12 12 12 7 12-7 12-54 12-64 12-55 12-60 12-68 12-76 12-74 12-64 12-62 12-57 12-45 12-33 12-17 12-7 12-11 12-12 12-9 11-4 12 1 12 7 12 12 12 13 12 13 12 12 12 11 12 9 12 9 12 8 12 7 12 7 12 8 12 8 12 9 12 9 12 12 12 12 12 13 12 14 12 14 12 13 12 12" stroke="#4DBEEE"/>
<path d="M3120 3817l12 0 12-1 12 0 12 0 12 0 12 0 12 0 12 0 12 0 12 0 12 1 12 2 12 4 12 8 12 16 12 21 12 22 12 25 12 29 12 27 12 26 12 41 12 31 11-18 12-62 12-73 12-68 12-69 12-66 12-55 12-46 12-38 12-26 12-19 12-14 12-7 12 5 12 22 12 32 12 50 12 85 12 85 12 80 12 77 12 13 12-75 12-61 12-30 12-23 12-13 12 8 12 35 12 43 12 62 12 79 12 16 12-95 12-132 12-98 12-91 12-52 12-33 12-10 12 44 12 79 12 108 12 130 12 43 12-98 11-137 12-94 12-56 12-34 12-13 12 128 12 216 12 39 12-68 12-72 12-30 12-20 12-11 12 29 12 61 12 49 12 51 12 36 12-5 12-56 12-71 12-56 12-51 12-46 12-33 12-18 12-12 12-7 12 0 12 43 12 78 12 81 12 93 12 102 12 51 12-13 12-32 12-25 12-22 12-25 12-13 12 20 12 48 12 44 12 51 12 25 12-25 11-52 12-53 12-44 12-39 12-31 12-27 12-23 12-18 12-11 12-10 12-7 12-3 12 6 12 39 12 51 12 62 12 62 12 11 12-18 12-27 12-19 12-11 12-8 12 2 12 23 12 21 12 12 12 6 12-9 12-57 12-70 12-63 12-70 12-78 12-85 12-82 12-68 12-62 12-55 12-38 12-27 12-8 12 1 12-3 12-6 12-4 11-2 12 2 12 8 12 12 12 14 12 13 12 12 12 12 12 11 12 11 12 11 12 10 12 10 12 9 12 8 12 8 12 7 12 7 12 7 12 6 12 6 12 6 12 7 12 6" stroke="#77AC30"/>
<path d="M3120 3806l12 0 12 0 12 0 12 0 12 0 12 0 12-1 12 0 12-1 12 0 12 0 12 2 12 4 12 7 12 17 12 23 12 23 12 28 12 31 12 28 12 27 12 41 12 30 11-20 12-62 12-72 12-69 12-69 12-67 12-56 12-47 12-39 12-28 12-20 12-17 12-8 12 4 12 21 12 33 12 52 12 88 12 86 12 80 12 77 12 13 12-71 12-60 12-30 12-22 12-13 12 8 12 36 12 43 12 62 12 78 12 15 12-96 12-134 12-101 12-94 12-54 12-33 12-10 12 45 12 80 12 111 12 132 12 43 12-100 11-141 12-96 12-58 12-35 12-16 12 128 12 221 12 39 12-69 12-74 12-29 12-21 12-9 12 31 12 64 12 51 12 54 12 38 12-3 12-54 12-68 12-56 12-49 12-45 12-34 12-19 12-14 12-10 12-4 12 39 12 76 12 79 12 92 12 100 12 50 12-12 12-29 12-22 12-22 12-23 12-13 12 22 12 49 12 46 12 52 12 26 12-23 11-50 12-51 12-44 12-38 12-30 12-28 12-23 12-18 12-13 12-12 12-9 12-6 12 4 12 37 12 49 12 61 12 61 12 10 12-19 12-26 12-18 12-10 12-6 12 3 12 25 12 21 12 10 12 5 12-10 12-60 12-74 12-64 12-68 12-74 12-80 12-76 12-62 12-56 12-49 12-35 12-24 12-7 12 1 12-8 12-12 12-10 11-9 12-4 12 4 12 7 12 9 12 7 12 8 12 7 12 7 12 8 12 8 12 9 12 10 12 10 12 10 12 11 12 11 12 11 12 10 12 10 12 9 12 8 12 8 12 7" stroke="#7E2F8E"/>
<path d="M3120 3811l12 0 12 0 12 0 12 0 12-1 12-1 12-1 12-2 12-1 12-2 12 0 12 2 12 3 12 8 12 17 12 23 12 23 12 28 12 31 12 29 12 27 12 42 12 30 11-20 12-61 12-73 12-67 12-69 12-66 12-56 12-47 12-40 12-29 12-22 12-18 12-11 12 2 12 19 12 31 12 51 12 88 12 87 12 80 12 76 12 13 12-69 12-58 12-28 12-22 12-11 12 11 12 37 12 45 12 64 12 81 12 18 12-94 12-130 12-96 12-90 12-54 12-36 12-14 12 38 12 74 12 105 12 127 12 40 12-106 11-147 12-101 12-61 12-37 12-15 12 132 12 230 12 43 12-66 12-70 12-25 12-17 12-6 12 34 12 65 12 52 12 54 12 36 12-4 12-55 12-71 12-58 12-52 12-49 12-38 12-21 12-17 12-11 12-4 12 41 12 79 12 82 12 95 12 103 12 53 12-11 12-27 12-21 12-21 12-23 12-12 12 21 12 49 12 46 12 52 12 25 12-25 11-52 12-53 12-46 12-41 12-33 12-30 12-27 12-21 12-15 12-13 12-10 12-6 12 4 12 39 12 52 12 64 12 64 12 14 12-15 12-23 12-15 12-8 12-6 12 5 12 24 12 22 12 12 12 7 12-9 12-56 12-70 12-64 12-70 12-80 12-88 12-84 12-72 12-66 12-57 12-41 12-29 12-10 12 2 12-4 12-6 12-3 11-1 12 2 12 9 12 13 12 13 12 12 12 12 12 12 12 10 12 10 12 9 12 8 12 8 12 7 12 6 12 6 12 5 12 5 12 5 12 5 12 6 12 6 12 6 12 8" stroke="#EDB120"/>
<path d="M3120 3801l12 0 12 0 12-1 12 0 12-1 12 0 12 0 12 0 12 0 12 0 12 2 12 4 12 6 12 9 12 18 12 23 12 23 12 27 12 30 12 27 12 27 12 41 12 29 11-21 12-64 12-75 12-70 12-73 12-72 12-60 12-49 12-42 12-29 12-21 12-15 12-8 12 5 12 23 12 34 12 55 12 91 12 88 12 81 12 76 12 13 12-68 12-58 12-29 12-21 12-12 12 10 12 38 12 45 12 64 12 81 12 17 12-94 12-131 12-97 12-92 12-55 12-36 12-15 12 38 12 75 12 106 12 129 12 40 12-106 11-146 12-100 12-61 12-36 12-15 12 132 12 229 12 42 12-68 12-72 12-28 12-19 12-8 12 31 12 65 12 52 12 53 12 38 12-4 12-55 12-70 12-57 12-51 12-48 12-35 12-18 12-14 12-9 12-2 12 42 12 79 12 82 12 95 12 103 12 52 12-11 12-28 12-22 12-21 12-24 12-12 12 21 12 48 12 46 12 51 12 24 12-25 11-52 12-53 12-46 12-42 12-33 12-30 12-26 12-20 12-13 12-11 12-9 12-4 12 5 12 40 12 52 12 62 12 63 12 11 12-17 12-25 12-17 12-10 12-6 12 4 12 25 12 22 12 10 12 5 12-9 12-61 12-72 12-63 12-68 12-74 12-80 12-76 12-64 12-59 12-53 12-38 12-28 12-10 12-1 12-9 12-12 12-9 11-7 12-2 12 5 12 9 12 10 12 9 12 10 12 8 12 8 12 8 12 8 12 8 12 7 12 8 12 7 12 8 12 8 12 7 12 8 12 9 12 8 12 8 12 9 12 8" stroke="#D95319"/>
<path d="M3120 3778l12 0 12 1 12 1 12 1 12 2 12 1 12 1 12 1 12 1 12 1 12 1 12 4 12 5 12 10 12 19 12 25 12 24 12 29 12 32 12 29 12 28 12 41 12 28 11-21 12-64 12-74 12-71 12-74 12-73 12-62 12-52 12-44 12-31 12-22 12-16 12-8 12 6 12 25 12 37 12 56 12 94 12 89 12 81 12 77 12 13 12-69 12-58 12-29 12-23 12-13 12 10 12 37 12 45 12 63 12 78 12 16 12-97 12-136 12-103 12-97 12-58 12-38 12-15 12 42 12 80 12 112 12 134 12 43 12-106 11-145 12-99 12-58 12-34 12-12 12 133 12 231 12 42 12-68 12-72 12-29 12-20 12-9 12 32 12 65 12 51 12 54 12 38 12-4 12-56 12-70 12-58 12-54 12-50 12-39 12-21 12-17 12-12 12-5 12 42 12 80 12 84 12 96 12 104 12 53 12-9 12-25 12-19 12-20 12-23 12-13 12 21 12 49 12 45 12 51 12 25 12-24 11-50 12-51 12-45 12-40 12-31 12-28 12-24 12-18 12-13 12-11 12-10 12-7 12 2 12 36 12 49 12 59 12 61 12 9 12-17 12-23 12-15 12-8 12-5 12 6 12 27 12 22 12 10 12 5 12-10 12-63 12-76 12-67 12-72 12-78 12-85 12-80 12-66 12-59 12-51 12-36 12-24 12-6 12 2 12-6 12-10 12-9 11-7 12-2 12 4 12 8 12 9 12 7 12 8 12 7 12 8 12 7 12 8 12 8 12 8 12 9 12 8 12 7 12 8 12 7 12 7 12 6 12 7 12 7 12 7 12 8" stroke="#0072BD"/>
<path d="M3120 3787l12-6 12-7 12-7 12-5 12-4 12-2 12 1 12 2 12 4 12 5 12 8 12 9 12 11 12 13 12 21 12 24 12 24 12 27 12 31 12 27 12 28 12 39 12 24 11-25 12-66 12-74 12-72 12-74 12-71 12-59 12-46 12-39 12-27 12-20 12-17 12-11 12 1 12 19 12 31 12 53 12 94 12 89 12 81 12 76 12 14 12-63 12-56 12-27 12-21 12-11 12 11 12 39 12 45 12 63 12 78 12 15 12-98 12-137 12-105 12-100 12-59 12-39 12-16 12 42 12 80 12 112 12 134 12 43 12-111 11-150 12-102 12-61 12-34 12-12 12 138 12 237 12 46 12-66 12-71 12-28 12-19 12-11 12 30 12 62 12 49 12 51 12 35 12-6 12-57 12-71 12-58 12-52 12-46 12-31 12-12 12-7 12-3 12 2 12 43 12 79 12 79 12 90 12 98 12 46 12-15 12-28 12-21 12-22 12-24 12-12 12 22 12 51 12 48 12 54 12 28 12-22 11-48 12-51 12-45 12-42 12-35 12-34 12-31 12-25 12-19 12-17 12-12 12-7 12 5 12 41 12 55 12 67 12 68 12 16 12-13 12-20 12-14 12-8 12-6 12 5 12 25 12 21 12 9 12 3 12-11 12-66 12-80 12-69 12-74 12-80 12-85 12-82 12-67 12-62 12-52 12-38 12-26 12-7 12 3 12-5 12-8 12-7 11-4 12 0 12 6 12 9 12 9 12 7 12 7 12 5 12 5 12 4 12 5 12 5 12 6 12 7 12 9 12 10 12 11 12 12 12 12 12 11 12 10 12 8 12 7 12 4" stroke="#A2142F"/>
<path d="M3120 3770l12 1 12 1 12 2 12 2 12 3 12 2 12 1 12 2 12 0 12 1 12 0 12 3 12 3 12 8 12 18 12 24 12 25 12 30 12 34 12 30 12 29 12 40 12 25 11-24 12-64 12-73 12-71 12-74 12-72 12-61 12-50 12-43 12-30 12-22 12-18 12-10 12 3 12 23 12 34 12 56 12 95 12 89 12 81 12 75 12 12 12-65 12-57 12-30 12-22 12-12 12 10 12 39 12 46 12 65 12 78 12 17 12-96 12-134 12-100 12-94 12-54 12-35 12-14 12 41 12 76 12 108 12 131 12 39 12-113 11-154 12-107 12-66 12-40 12-16 12 135 12 241 12 46 12-67 12-71 12-25 12-17 12-6 12 35 12 68 12 54 12 55 12 38 12-4 12-57 12-71 12-59 12-56 12-52 12-38 12-21 12-17 12-11 12-4 12 43 12 81 12 85 12 97 12 104 12 52 12-9 12-23 12-18 12-20 12-23 12-12 12 22 12 50 12 45 12 51 12 25 12-24 11-50 12-52 12-47 12-43 12-35 12-31 12-28 12-21 12-15 12-13 12-10 12-5 12 4 12 40 12 52 12 63 12 65 12 12 12-16 12-21 12-15 12-7 12-5 12 6 12 27 12 22 12 9 12 3 12-10 12-65 12-78 12-68 12-73 12-79 12-85 12-82 12-68 12-64 12-54 12-40 12-29 12-10 12 0 12-6 12-9 12-7 11-4 12 0 12 6 12 11 12 11 12 9 12 9 12 9 12 8 12 8 12 8 12 8 12 7 12 7 12 8 12 7 12 8 12 7 12 7 12 7 12 6 12 6 12 6 12 4" stroke="#4DBEEE"/>
<path d="M3120 3761l12-3 12-3 12-2 12-1 12 0 12 1 12 1 12 3 12 3 12 4 12 5 12 7 12 8 12 11 12 21 12 26 12 25 12 30 12 33 12 30 12 29 12 40 12 24 11-25 12-65 12-74 12-72 12-75 12-73 12-63 12-52 12-46 12-34 12-25 12-22 12-15 12 1 12 21 12 35 12 60 12 101 12 94 12 85 12 78 12 16 12-60 12-54 12-27 12-20 12-11 12 10 12 38 12 44 12 62 12 75 12 12 12-101 12-141 12-111 12-106 12-60 12-39 12-13 12 47 12 85 12 117 12 139 12 45 12-110 11-152 12-103 12-64 12-37 12-16 12 135 12 240 12 45 12-68 12-72 12-27 12-17 12-7 12 34 12 67 12 53 12 55 12 37 12-6 12-58 12-74 12-61 12-59 12-54 12-40 12-20 12-15 12-9 12 0 12 47 12 85 12 87 12 98 12 105 12 52 12-9 12-24 12-19 12-21 12-24 12-13 12 22 12 49 12 45 12 51 12 26 12-23 11-48 12-51 12-46 12-43 12-35 12-32 12-29 12-24 12-18 12-16 12-13 12-8 12 3 12 40 12 53 12 66 12 68 12 15 12-11 12-18 12-12 12-6 12-4 12 6 12 27 12 21 12 8 12 3 12-12 12-69 12-83 12-74 12-77 12-82 12-87 12-83 12-67 12-62 12-52 12-37 12-28 12-8 12 1 12-8 12-10 12-9 11-4 12-1 12 7 12 10 12 10 12 10 12 10 12 10 12 9 12 10 12 9 12 8 12 7 12 6 12 6 12 5 12 4 12 4 12 4 12 5 12 4 12 5 12 6 12 6" stroke="#77AC30"/>
<path d="M3120 3760l12-2 12-2 12-2 12-2 12-2 12-2 12 0 12-1 12 1 12 1 12 3 12 7 12 9 12 13 12 24 12 29 12 29 12 33 12 34 12 31 12 29 12 40 12 24 11-27 12-67 12-76 12-76 12-81 12-80 12-68 12-56 12-46 12-32 12-20 12-14 12-5 12 9 12 29 12 41 12 61 12 99 12 92 12 82 12 75 12 11 12-64 12-57 12-30 12-23 12-13 12 9 12 39 12 46 12 64 12 76 12 14 12-99 12-139 12-109 12-104 12-62 12-40 12-16 12 43 12 83 12 116 12 139 12 45 12-112 11-152 12-102 12-60 12-34 12-13 12 137 12 241 12 44 12-71 12-75 12-31 12-23 12-12 12 31 12 66 12 52 12 56 12 39 12-2 12-55 12-69 12-56 12-54 12-48 12-34 12-17 12-12 12-10 12-3 12 42 12 80 12 83 12 94 12 102 12 51 12-10 12-22 12-17 12-20 12-24 12-12 12 23 12 49 12 46 12 50 12 25 12-23 11-50 12-52 12-48 12-46 12-36 12-34 12-29 12-22 12-15 12-13 12-10 12-5 12 6 12 41 12 54 12 65 12 66 12 13 12-14 12-20 12-13 12-7 12-4 12 6 12 28 12 22 12 7 12 2 12-11 12-70 12-83 12-73 12-76 12-82 12-88 12-83 12-69 12-63 12-54 12-37 12-27 12-7 12 5 12-5 12-7 12-6 11-4 12 0 12 6 12 10 12 9 12 7 12 6 12 4 12 4 12 3 12 3 12 2 12 2 12 4 12 4 12 6 12 7 12 9 12 10 12 11 12 12 12 12 12 11 12 10" stroke="#7E2F8E"/>
<path d="M3120 3756l12-3 12-4 12-2 12-2 12-1 12-1 12 1 12 1 12 2 12 2 12 3 12 6 12 8 12 12 12 23 12 28 12 28 12 33 12 36 12 32 12 30 12 39 12 24 11-26 12-65 12-74 12-73 12-78 12-77 12-65 12-55 12-47 12-35 12-25 12-19 12-11 12 5 12 25 12 39 12 62 12 103 12 93 12 84 12 76 12 14 12-63 12-56 12-29 12-23 12-14 12 9 12 39 12 45 12 63 12 74 12 15 12-100 12-140 12-109 12-103 12-58 12-37 12-13 12 45 12 83 12 115 12 137 12 43 12-114 11-155 12-106 12-65 12-37 12-16 12 137 12 245 12 47 12-69 12-73 12-29 12-18 12-9 12 34 12 67 12 54 12 56 12 39 12-4 12-56 12-71 12-60 12-57 12-53 12-38 12-21 12-16 12-12 12-4 12 44 12 83 12 87 12 98 12 105 12 53 12-7 12-20 12-16 12-19 12-23 12-12 12 22 12 49 12 45 12 51 12 23 12-24 11-50 12-51 12-49 12-45 12-36 12-33 12-28 12-21 12-15 12-13 12-11 12-7 12 4 12 38 12 51 12 63 12 64 12 12 12-14 12-18 12-12 12-5 12-2 12 8 12 30 12 23 12 8 12 4 12-11 12-68 12-82 12-72 12-76 12-83 12-89 12-85 12-70 12-63 12-54 12-36 12-26 12-5 12 5 12-5 12-9 12-8 11-6 12-3 12 4 12 8 12 6 12 5 12 4 12 4 12 3 12 4 12 5 12 4 12 6 12 6 12 6 12 7 12 8 12 7 12 8 12 7 12 8 12 8 12 7 12 8" stroke="#EDB120"/>
<path d="M3120 3746l12-2 12-3 12-3 12-3 12-2 12-1 12-1 12 0 12 0 12 2 12 3 12 7 12 9 12 14 12 25 12 30 12 31 12 34 12 37 12 32 12 31 12 39 12 21 11-28 12-67 12-75 12-75 12-80 12-79 12-66 12-54 12-47 12-32 12-23 12-18 12-10 12 4 12 25 12 37 12 61 12 103 12 93 12 83 12 74 12 14 12-59 12-55 12-28 12-22 12-13 12 11 12 39 12 46 12 64 12 73 12 12 12-102 12-146 12-115 12-112 12-64 12-42 12-15 12 48 12 89 12 122 12 145 12 47 12-113 11-155 12-103 12-63 12-36 12-16 12 137 12 245 12 45 12-71 12-76 12-30 12-20 12-9 12 34 12 70 12 55 12 58 12 40 12-3 12-57 12-71 12-61 12-59 12-56 12-42 12-22 12-17 12-11 12-3 12 46 12 87 12 91 12 100 12 108 12 55 12-6 12-20 12-15 12-20 12-24 12-13 12 20 12 48 12 43 12 47 12 22 12-24 11-50 12-51 12-51 12-47 12-36 12-32 12-27 12-21 12-13 12-12 12-9 12-6 12 5 12 39 12 51 12 64 12 64 12 12 12-14 12-17 12-11 12-5 12-1 12 9 12 31 12 22 12 8 12 3 12-11 12-71 12-85 12-74 12-79 12-86 12-91 12-88 12-73 12-65 12-54 12-38 12-26 12-5 12 6 12-3 12-7 12-7 11-4 12-2 12 6 12 8 12 6 12 4 12 4 12 3 12 3 12 2 12 3 12 4 12 4 12 5 12 6 12 7 12 7 12 8 12 8 12 7 12 6 12 6 12 5 12 4" stroke="#D95319"/>
<path d="M3120 3726l12-1 12-1 12 0 12 0 12 0 12 1 12 1 12 1 12 1 12 1 12 3 12 5 12 8 12 13 12 25 12 31 12 32 12 36 12 38 12 34 12 32 12 39 12 23 11-27 12-66 12-75 12-75 12-80 12-81 12-70 12-60 12-53 12-39 12-29 12-23 12-13 12 4 12 27 12 42 12 67 12 110 12 98 12 86 12 77 12 15 12-58 12-54 12-29 12-22 12-14 12 10 12 39 12 45 12 64 12 71 12 13 12-102 12-144 12-113 12-107 12-60 12-36 12-11 12 49 12 88 12 119 12 140 12 44 12-117 11-160 12-110 12-70 12-43 12-21 12 136 12 251 12 46 12-72 12-75 12-28 12-18 12-7 12 37 12 72 12 57 12 58 12 40 12-3 12-57 12-73 12-61 12-61 12-56 12-41 12-19 12-14 12-8 12 1 12 50 12 90 12 91 12 101 12 107 12 54 12-8 12-22 12-17 12-22 12-26 12-15 12 19 12 47 12 41 12 47 12 21 12-24 11-49 12-50 12-50 12-47 12-35 12-31 12-26 12-19 12-12 12-11 12-9 12-5 12 4 12 39 12 51 12 63 12 65 12 11 12-14 12-17 12-12 12-4 12-1 12 9 12 31 12 22 12 7 12 2 12-12 12-74 12-88 12-78 12-82 12-88 12-93 12-89 12-74 12-65 12-54 12-35 12-25 12-3 12 9 12-1 12-6 12-4 11-4 12 0 12 6 12 9 12 6 12 4 12 3 12 2 12 2 12 1 12 1 12 2 12 2 12 4 12 5 12 6 12 8 12 9 12 9 12 10 12 10 12 9 12 8 12 7" stroke="#0072BD"/>
<path d="M3120 3738l12-1 12-1 12 0 12 0 12 0 12 0 12 1 12 0 12 0 12 0 12 1 12 4 12 6 12 10 12 23 12 30 12 30 12 36 12 39 12 34 12 33 12 38 12 19 11-29 12-67 12-75 12-75 12-81 12-80 12-68 12-56 12-49 12-34 12-25 12-20 12-11 12 5 12 26 12 40 12 65 12 107 12 95 12 86 12 75 12 15 12-58 12-54 12-28 12-22 12-13 12 10 12 40 12 45 12 63 12 72 12 12 12-103 12-146 12-116 12-113 12-65 12-42 12-16 12 48 12 88 12 122 12 144 12 46 12-117 11-158 12-108 12-66 12-38 12-16 12 138 12 252 12 47 12-72 12-75 12-29 12-19 12-8 12 35 12 72 12 56 12 59 12 41 12-2 12-56 12-71 12-60 12-58 12-55 12-40 12-21 12-17 12-11 12-4 12 45 12 86 12 89 12 99 12 107 12 53 12-7 12-18 12-15 12-19 12-23 12-13 12 21 12 49 12 44 12 48 12 22 12-23 11-50 12-51 12-52 12-48 12-38 12-35 12-31 12-23 12-15 12-13 12-10 12-5 12 6 12 41 12 55 12 67 12 67 12 14 12-11 12-17 12-11 12-5 12-1 12 8 12 30 12 22 12 6 12 2 12-13 12-74 12-88 12-77 12-80 12-85 12-90 12-85 12-71 12-64 12-53 12-38 12-28 12-8 12 3 12-6 12-10 12-8 11-5 12 0 12 6 12 10 12 8 12 7 12 6 12 6 12 7 12 6 12 6 12 5 12 6 12 5 12 5 12 4 12 5 12 4 12 4 12 4 12 4 12 4 12 3 12 5" stroke="#A2142F"/>
<path d="M3120 3724l12 1 12 1 12 1 12 0 12 0 12-1 12-1 12 0 12-1 12-1 12 2 12 4 12 8 12 13 12 26 12 32 12 33 12 37 12 39 12 34 12 32 12 39 12 19 11-30 12-69 12-76 12-78 12-85 12-84 12-71 12-59 12-50 12-33 12-23 12-16 12-7 12 8 12 29 12 41 12 65 12 106 12 94 12 83 12 73 12 12 12-58 12-54 12-29 12-22 12-13 12 12 12 42 12 48 12 66 12 73 12 15 12-101 12-144 12-115 12-113 12-67 12-47 12-21 12 42 12 85 12 120 12 144 12 46 12-120 11-162 12-106 12-62 12-33 12-11 12 144 12 256 12 48 12-70 12-75 12-31 12-22 12-11 12 32 12 68 12 55 12 57 12 40 12-3 12-56 12-71 12-59 12-58 12-54 12-39 12-19 12-15 12-11 12-4 12 44 12 86 12 88 12 98 12 106 12 53 12-6 12-16 12-13 12-19 12-22 12-13 12 22 12 50 12 44 12 48 12 23 12-24 11-49 12-51 12-52 12-49 12-38 12-35 12-29 12-22 12-14 12-12 12-8 12-5 12 6 12 41 12 53 12 64 12 65 12 11 12-14 12-17 12-12 12-4 12-1 12 9 12 33 12 22 12 7 12 1 12-12 12-74 12-88 12-77 12-80 12-87 12-93 12-91 12-77 12-70 12-59 12-41 12-30 12-8 12 6 12 2 12 0 12 3 11 6 12 9 12 19 12 20 12 16 12 12 12 10 12 8 12 5 12 3 12 2 12 1 12 0 12 1 12 1 12 3 12 5 12 6 12 8 12 9 12 9 12 10 12 9 12 9" stroke="#4DBEEE"/>
<path d="M3120 3713l12 0 12-1 12 0 12 0 12 1 12 1 12 1 12 1 12 2 12 2 12 3 12 6 12 8 12 13 12 26 12 31 12 32 12 37 12 39 12 35 12 32 12 38 12 19 11-31 12-68 12-76 12-77 12-84 12-83 12-71 12-59 12-51 12-36 12-26 12-20 12-11 12 6 12 27 12 42 12 67 12 110 12 96 12 85 12 74 12 14 12-55 12-54 12-29 12-22 12-14 12 10 12 42 12 46 12 65 12 71 12 12 12-103 12-147 12-117 12-113 12-63 12-41 12-14 12 49 12 89 12 123 12 144 12 46 12-119 11-162 12-110 12-68 12-39 12-18 12 139 12 255 12 48 12-72 12-77 12-29 12-20 12-10 12 35 12 72 12 56 12 59 12 40 12-3 12-58 12-72 12-62 12-62 12-57 12-41 12-19 12-15 12-8 12-1 12 49 12 91 12 92 12 102 12 107 12 54 12-6 12-17 12-15 12-20 12-24 12-14 12 21 12 48 12 43 12 47 12 21 12-23 11-49 12-50 12-52 12-50 12-38 12-34 12-30 12-23 12-15 12-13 12-10 12-5 12 5 12 41 12 54 12 66 12 67 12 13 12-11 12-15 12-10 12-4 12-1 12 10 12 31 12 22 12 5 12 0 12-13 12-79 12-94 12-81 12-84 12-88 12-93 12-88 12-71 12-64 12-52 12-35 12-25 12-6 12 6 12 1 12-1 12 0 11 3 12 8 12 19 12 21 12 16 12 12 12 11 12 9 12 9 12 7 12 7 12 6 12 5 12 5 12 6 12 5 12 6 12 6 12 6 12 7 12 7 12 6 12 7 12 7" stroke="#77AC30"/>
<path d="M3120 3712l12-1 12 0 12-1 12 0 12 0 12-1 12 0 12-1 12 0 12 0 12 1 12 4 12 7 12 13 12 26 12 34 12 34 12 40 12 41 12 37 12 34 12 38 12 17 11-32 12-67 12-75 12-78 12-85 12-84 12-72 12-60 12-53 12-38 12-27 12-22 12-12 12 4 12 28 12 42 12 70 12 113 12 98 12 87 12 74 12 14 12-53 12-52 12-29 12-23 12-14 12 10 12 41 12 46 12 65 12 69 12 11 12-105 12-149 12-120 12-116 12-64 12-40 12-13 12 50 12 92 12 124 12 147 12 45 12-122 11-166 12-113 12-72 12-42 12-21 12 140 12 262 12 49 12-73 12-75 12-28 12-18 12-6 12 39 12 75 12 60 12 61 12 42 12-2 12-57 12-73 12-62 12-64 12-60 12-45 12-24 12-19 12-14 12-5 12 47 12 91 12 93 12 103 12 109 12 55 12-3 12-13 12-11 12-18 12-23 12-13 12 22 12 49 12 44 12 48 12 23 12-23 11-48 12-50 12-52 12-50 12-39 12-36 12-32 12-24 12-18 12-15 12-13 12-8 12 2 12 40 12 54 12 66 12 68 12 14 12-8 12-12 12-7 12-2 12 2 12 12 12 33 12 23 12 6 12 0 12-13 12-79 12-95 12-83 12-88 12-92 12-99 12-94 12-78 12-69 12-56 12-37 12-26 12-7 12 7 12 7 12 8 12 8 11 12 12 17 12 32 12 31 12 24 12 19 12 17 12 14 12 12 12 11 12 9 12 8 12 7 12 7 12 7 12 6 12 7 12 7 12 6 12 7 12 6 12 6 12 6 12 5" stroke="#7E2F8E"/>
<path d="M3120 3702l12-3 12-3 12-2 12-2 12 0 12 1 12 1 12 3 12 2 12 4 12 5 12 8 12 10 12 15 12 27 12 33 12 33 12 37 12 41 12 35 12 33 12 38 12 15 11-33 12-70 12-76 12-80 12-87 12-86 12-73 12-60 12-51 12-36 12-25 12-19 12-10 12 7 12 28 12 43 12 69 12 112 12 98 12 86 12 73 12 14 12-53 12-52 12-29 12-23 12-12 12 10 12 42 12 47 12 65 12 69 12 12 12-105 12-150 12-122 12-120 12-68 12-45 12-18 12 48 12 92 12 125 12 150 12 47 12-122 11-165 12-109 12-66 12-36 12-15 12 144 12 262 12 50 12-72 12-76 12-30 12-20 12-11 12 34 12 71 12 56 12 58 12 40 12-4 12-59 12-72 12-62 12-64 12-58 12-41 12-19 12-14 12-10 12-1 12 49 12 91 12 92 12 101 12 107 12 53 12-5 12-15 12-13 12-19 12-23 12-14 12 22 12 50 12 44 12 49 12 23 12-21 11-47 12-50 12-51 12-49 12-39 12-36 12-33 12-26 12-19 12-18 12-14 12-10 12 2 12 39 12 54 12 67 12 70 12 15 12-6 12-10 12-6 12-1 12 3 12 11 12 34 12 22 12 6 12 0 12-14 12-80 12-97 12-85 12-91 12-96 12-101 12-95 12-79 12-69 12-54 12-35 12-24 12-4 12 10 12 10 12 10 12 10 11 13 12 19 12 33 12 33 12 25 12 20 12 16 12 15 12 11 12 10 12 9 12 7 12 7 12 6 12 6 12 7 12 7 12 7 12 8 12 8 12 8 12 8 12 7 12 7" stroke="#EDB120"/>
<path d="M3120 3693l12-1 12-1 12-1 12-1 12 0 12 0 12 1 12 0 12 1 12 1 12 2 12 6 12 8 12 14 12 27 12 35 12 36 12 41 12 43 12 38 12 35 12 37 12 15 11-33 12-69 12-75 12-77 12-86 12-85 12-71 12-60 12-53 12-38 12-28 12-23 12-14 12 3 12 25 12 40 12 69 12 115 12 98 12 86 12 73 12 13 12-49 12-50 12-29 12-21 12-13 12 12 12 43 12 48 12 65 12 69 12 11 12-106 12-151 12-125 12-121 12-69 12-45 12-17 12 49 12 94 12 127 12 151 12 48 12-124 11-165 12-111 12-67 12-37 12-15 12 143 12 265 12 50 12-73 12-77 12-30 12-22 12-10 12 34 12 71 12 56 12 59 12 40 12-5 12-59 12-74 12-64 12-67 12-61 12-43 12-20 12-14 12-9 12 0 12 52 12 95 12 96 12 104 12 110 12 56 12-4 12-13 12-11 12-19 12-24 12-13 12 21 12 48 12 43 12 47 12 22 12-23 11-48 12-51 12-54 12-51 12-41 12-37 12-33 12-25 12-17 12-15 12-12 12-7 12 5 12 41 12 55 12 67 12 69 12 14 12-8 12-11 12-8 12-1 12 1 12 12 12 34 12 22 12 4 12-1 12-15 12-83 12-100 12-85 12-87 12-90 12-95 12-88 12-73 12-64 12-52 12-35 12-27 12-9 12 3 12 5 12 6 12 8 11 13 12 22 12 39 12 38 12 29 12 24 12 21 12 19 12 17 12 16 12 15 12 15 12 14 12 13 12 12 12 11 12 11 12 10 12 8 12 7 12 6 12 4 12 4 12 2" stroke="#D95319"/>
<path d="M3120 3690l12 0 12 1 12 1 12 0 12 1 12 0 12 0 12 0 12-1 12-1 12 1 12 4 12 7 12 13 12 28 12 35 12 36 12 42 12 44 12 39 12 36 12 37 12 13 11-35 12-69 12-76 12-80 12-89 12-89 12-77 12-64 12-57 12-40 12-28 12-23 12-11 12 7 12 31 12 47 12 76 12 120 12 102 12 89 12 75 12 16 12-51 12-51 12-29 12-23 12-14 12 9 12 41 12 46 12 64 12 66 12 10 12-108 12-154 12-127 12-124 12-69 12-43 12-16 12 52 12 95 12 129 12 151 12 47 12-127 11-172 12-116 12-73 12-42 12-20 12 144 12 272 12 52 12-72 12-76 12-27 12-17 12-6 12 40 12 77 12 61 12 62 12 42 12-2 12-58 12-73 12-64 12-66 12-62 12-46 12-23 12-18 12-12 12-3 12 49 12 94 12 96 12 105 12 110 12 55 12-3 12-12 12-11 12-18 12-25 12-14 12 21 12 47 12 43 12 45 12 21 12-23 11-47 12-50 12-55 12-51 12-40 12-36 12-31 12-24 12-15 12-14 12-11 12-6 12 4 12 40 12 54 12 67 12 68 12 13 12-9 12-11 12-6 12-1 12 2 12 13 12 35 12 23 12 4 12-1 12-15 12-83 12-100 12-88 12-90 12-95 12-100 12-95 12-79 12-69 12-56 12-36 12-26 12-8 12 8 12 12 12 16 12 17 11 21 12 29 12 48 12 47 12 34 12 29 12 24 12 20 12 18 12 14 12 12 12 11 12 10 12 9 12 8 12 8 12 9 12 9 12 9 12 9 12 9 12 9 12 8 12 7" stroke="#0072BD"/>
<path d="M3120 3680l12-2 12-1 12-1 12 0 12 0 12 0 12 1 12 2 12 1 12 2 12 4 12 7 12 10 12 16 12 29 12 36 12 36 12 41 12 43 12 38 12 35 12 37 12 14 11-34 12-70 12-76 12-81 12-89 12-88 12-76 12-63 12-56 12-39 12-27 12-22 12-12 12 5 12 29 12 44 12 72 12 118 12 100 12 88 12 72 12 13 12-49 12-51 12-29 12-23 12-14 12 11 12 42 12 48 12 65 12 67 12 10 12-107 12-154 12-127 12-124 12-69 12-44 12-15 12 52 12 96 12 130 12 153 12 49 12-126 11-167 12-113 12-68 12-37 12-16 12 145 12 268 12 52 12-72 12-76 12-29 12-19 12-9 12 35 12 72 12 57 12 58 12 39 12-5 12-61 12-76 12-67 12-71 12-66 12-48 12-24 12-18 12-13 12-2 12 52 12 98 12 99 12 107 12 113 12 57 12 0 12-9 12-7 12-17 12-23 12-12 12 22 12 49 12 44 12 47 12 23 12-23 11-47 12-50 12-54 12-51 12-41 12-37 12-33 12-26 12-17 12-16 12-13 12-8 12 2 12 41 12 54 12 66 12 69 12 13 12-8 12-10 12-7 12 0 12 2 12 12 12 36 12 22 12 3 12-2 12-16 12-85 12-103 12-89 12-90 12-94 12-98 12-93 12-76 12-66 12-54 12-35 12-26 12-8 12 5 12 11 12 14 12 16 11 21 12 30 12 50 12 48 12 36 12 31 12 26 12 24 12 21 12 19 12 16 12 15 12 14 12 12 12 11 12 10 12 9 12 8 12 7 12 6 12 6 12 5 12 4 12 4" stroke="#A2142F"/>
<path d="M3120 3677l12-3 12-2 12-2 12-1 12-2 12-1 12 0 12 1 12 1 12 1 12 4 12 8 12 11 12 16 12 31 12 37 12 37 12 43 12 44 12 39 12 36 12 36 12 12 11-38 12-71 12-77 12-82 12-92 12-91 12-77 12-65 12-56 12-39 12-26 12-22 12-11 12 7 12 31 12 46 12 75 12 121 12 101 12 89 12 72 12 14 12-48 12-50 12-29 12-24 12-14 12 10 12 42 12 48 12 64 12 65 12 9 12-108 12-156 12-130 12-126 12-69 12-42 12-14 12 54 12 98 12 132 12 153 12 49 12-129 11-172 12-117 12-74 12-42 12-21 12 144 12 274 12 52 12-73 12-77 12-28 12-18 12-7 12 39 12 77 12 60 12 61 12 42 12-4 12-60 12-76 12-66 12-71 12-65 12-48 12-22 12-17 12-10 12 0 12 55 12 99 12 99 12 107 12 112 12 56 12-2 12-11 12-10 12-19 12-26 12-15 12 21 12 47 12 42 12 46 12 21 12-22 11-45 12-48 12-54 12-51 12-39 12-36 12-32 12-24 12-18 12-16 12-14 12-10 12 1 12 39 12 52 12 67 12 69 12 14 12-6 12-8 12-4 12 2 12 4 12 14 12 36 12 23 12 3 12-3 12-16 12-87 12-106 12-92 12-94 12-97 12-101 12-95 12-76 12-66 12-51 12-33 12-24 12-8 12 6 12 14 12 17 12 19 11 24 12 34 12 58 12 54 12 40 12 33 12 30 12 26 12 25 12 22 12 20 12 20 12 18 12 17 12 15 12 13 12 12 12 10 12 8 12 7 12 5 12 3 12 3 12 2" stroke="#4DBEEE"/>
<path d="M3120 3668l12-2 12-1 12-2 12-1 12-1 12 0 12 0 12 0 12 0 12 2 12 3 12 7 12 10 12 16 12 32 12 38 12 39 12 44 12 46 12 40 12 36 12 37 12 12 11-37 12-71 12-76 12-82 12-92 12-91 12-79 12-66 12-58 12-41 12-29 12-23 12-13 12 5 12 31 12 46 12 76 12 123 12 102 12 89 12 73 12 14 12-46 12-50 12-29 12-23 12-14 12 11 12 43 12 48 12 65 12 66 12 9 12-108 12-157 12-130 12-127 12-69 12-44 12-16 12 54 12 98 12 131 12 155 12 49 12-129 11-172 12-117 12-73 12-41 12-20 12 144 12 274 12 51 12-75 12-79 12-30 12-21 12-9 12 38 12 76 12 61 12 62 12 43 12-2 12-58 12-73 12-64 12-67 12-63 12-45 12-21 12-16 12-10 12-3 12 51 12 96 12 98 12 105 12 110 12 55 12-2 12-9 12-8 12-18 12-24 12-14 12 22 12 48 12 43 12 46 12 21 12-22 11-47 12-50 12-55 12-54 12-42 12-40 12-34 12-26 12-18 12-15 12-13 12-7 12 4 12 42 12 56 12 69 12 70 12 15 12-5 12-9 12-4 12 1 12 3 12 14 12 36 12 22 12 3 12-3 12-16 12-89 12-106 12-91 12-95 12-97 12-102 12-97 12-79 12-70 12-55 12-36 12-27 12-11 12 5 12 15 12 23 12 24 11 30 12 40 12 66 12 61 12 46 12 39 12 34 12 30 12 26 12 24 12 20 12 19 12 17 12 15 12 13 12 12 12 10 12 9 12 8 12 7 12 6 12 5 12 5 12 4" stroke="#77AC30"/>
<path d="M3120 3669l12-3 12-2 12-3 12-3 12-2 12-2 12-1 12-1 12 0 12 1 12 3 12 8 12 11 12 17 12 32 12 40 12 40 12 45 12 47 12 40 12 37 12 37 12 11 11-38 12-71 12-77 12-82 12-93 12-93 12-79 12-66 12-59 12-41 12-28 12-23 12-12 12 6 12 32 12 46 12 77 12 123 12 102 12 89 12 72 12 13 12-46 12-50 12-29 12-23 12-15 12 11 12 44 12 48 12 66 12 65 12 9 12-108 12-156 12-130 12-127 12-70 12-43 12-16 12 54 12 97 12 131 12 154 12 48 12-131 11-176 12-119 12-75 12-42 12-20 12 146 12 279 12 53 12-74 12-77 12-29 12-18 12-7 12 39 12 77 12 61 12 62 12 43 12-4 12-59 12-75 12-67 12-71 12-67 12-48 12-24 12-19 12-12 12-3 12 53 12 100 12 101 12 108 12 114 12 58 12 1 12-7 12-7 12-17 12-23 12-13 12 21 12 49 12 42 12 45 12 20 12-23 11-48 12-51 12-58 12-57 12-44 12-41 12-35 12-27 12-18 12-15 12-12 12-6 12 6 12 44 12 57 12 71 12 72 12 16 12-5 12-8 12-5 12 1 12 3 12 13 12 37 12 22 12 2 12-4 12-17 12-90 12-108 12-92 12-95 12-96 12-102 12-95 12-78 12-68 12-55 12-35 12-28 12-12 12 3 12 15 12 22 12 25 11 31 12 42 12 70 12 64 12 49 12 40 12 36 12 33 12 29 12 26 12 23 12 23 12 20 12 18 12 16 12 14 12 13 12 11 12 9 12 7 12 6 12 4 12 4 12 2" stroke="#7E2F8E"/>
<path d="M3120 3654l12-3 12-2 12-1 12-1 12-1 12 0 12 0 12 2 12 1 12 3 12 4 12 8 12 11 12 17 12 31 12 40 12 39 12 44 12 47 12 41 12 37 12 35 12 8 11-41 12-73 12-78 12-84 12-96 12-95 12-79 12-66 12-57 12-38 12-26 12-19 12-10 12 9 12 32 12 48 12 76 12 124 12 102 12 87 12 71 12 12 12-45 12-50 12-30 12-24 12-15 12 11 12 44 12 49 12 66 12 64 12 9 12-109 12-158 12-133 12-130 12-71 12-46 12-17 12 53 12 99 12 133 12 157 12 49 12-134 11-178 12-120 12-75 12-41 12-19 12 149 12 283 12 55 12-74 12-77 12-29 12-19 12-8 12 39 12 78 12 61 12 62 12 44 12-4 12-59 12-75 12-66 12-71 12-67 12-48 12-24 12-18 12-13 12-3 12 52 12 98 12 101 12 107 12 113 12 56 12 1 12-6 12-5 12-16 12-24 12-13 12 22 12 49 12 43 12 46 12 20 12-21 11-47 12-49 12-57 12-56 12-43 12-41 12-35 12-27 12-18 12-15 12-13 12-7 12 4 12 42 12 57 12 69 12 71 12 15 12-6 12-7 12-4 12 1 12 4 12 14 12 38 12 22 12 1 12-4 12-18 12-93 12-111 12-94 12-95 12-97 12-101 12-95 12-78 12-67 12-54 12-35 12-28 12-13 12 3 12 17 12 27 12 28 11 36 12 48 12 79 12 72 12 55 12 46 12 40 12 37 12 32 12 28 12 26 12 23 12 20 12 18 12 15 12 13 12 11 12 9 12 7 12 6 12 5 12 5 12 4 12 4" stroke="#EDB120"/>
<path d="M3120 3645l12-2 12-1 12-1 12 0 12-1 12 1 12 0 12 1 12 1 12 2 12 4 12 7 12 10 12 17 12 32 12 41 12 40 12 46 12 48 12 42 12 38 12 35 12 8 11-41 12-72 12-77 12-83 12-96 12-94 12-80 12-67 12-59 12-41 12-27 12-23 12-12 12 6 12 32 12 47 12 78 12 126 12 104 12 88 12 71 12 13 12-43 12-48 12-30 12-23 12-14 12 10 12 45 12 49 12 66 12 63 12 9 12-110 12-160 12-135 12-132 12-73 12-46 12-18 12 55 12 100 12 134 12 158 12 50 12-135 11-179 12-120 12-75 12-41 12-20 12 149 12 285 12 56 12-74 12-78 12-29 12-19 12-8 12 39 12 79 12 61 12 62 12 44 12-4 12-59 12-75 12-67 12-72 12-67 12-48 12-24 12-18 12-12 12-2 12 53 12 100 12 101 12 108 12 113 12 57 12 1 12-6 12-5 12-17 12-24 12-14 12 22 12 49 12 42 12 45 12 20 12-22 11-46 12-50 12-57 12-57 12-43 12-41 12-35 12-27 12-18 12-15 12-13 12-7 12 4 12 43 12 56 12 70 12 71 12 15 12-4 12-7 12-3 12 2 12 4 12 15 12 38 12 23 12 1 12-5 12-17 12-94 12-112 12-96 12-98 12-99 12-104 12-97 12-79 12-69 12-54 12-34 12-27 12-12 12 4 12 21 12 30 12 32 11 39 12 51 12 83 12 76 12 57 12 48 12 42 12 36 12 33 12 28 12 25 12 23 12 21 12 19 12 16 12 15 12 13 12 12 12 10 12 9 12 8 12 7 12 7 12 5" stroke="#D95319"/>
<path d="M3120 3651l12-2 12-2 12-1 12-2 12-1 12-1 12-1 12 0 12 0 12 1 12 3 12 8 12 10 12 17 12 33 12 41 12 41 12 47 12 48 12 42 12 38 12 35 12 8 11-41 12-73 12-78 12-85 12-97 12-96 12-82 12-69 12-60 12-41 12-28 12-21 12-11 12 8 12 34 12 50 12 80 12 127 12 104 12 89 12 72 12 13 12-44 12-49 12-30 12-24 12-15 12 10 12 44 12 49 12 66 12 62 12 9 12-111 12-160 12-135 12-132 12-72 12-45 12-17 12 56 12 100 12 135 12 158 12 49 12-135 11-180 12-122 12-76 12-42 12-19 12 149 12 287 12 55 12-73 12-77 12-28 12-17 12-7 12 40 12 78 12 62 12 62 12 43 12-4 12-61 12-76 12-68 12-74 12-70 12-51 12-25 12-20 12-13 12-3 12 54 12 102 12 104 12 109 12 115 12 58 12 2 12-4 12-5 12-16 12-24 12-14 12 22 12 49 12 42 12 44 12 19 12-22 11-46 12-49 12-58 12-57 12-43 12-40 12-35 12-25 12-17 12-14 12-12 12-6 12 5 12 43 12 56 12 70 12 70 12 14 12-6 12-7 12-4 12 1 12 4 12 14 12 39 12 21 12 1 12-5 12-18 12-95 12-114 12-97 12-98 12-100 12-103 12-98 12-79 12-69 12-54 12-34 12-27 12-13 12 4 12 22 12 32 12 33 11 41 12 53 12 86 12 78 12 59 12 49 12 43 12 38 12 34 12 30 12 26 12 24 12 22 12 20 12 17 12 15 12 14 12 13 12 11 12 10 12 8 12 8 12 7 12 6" stroke="#0072BD"/>
<path d="M3120 3637l12-1 12-1 12-1 12-1 12-1 12-1 12 0 12 0 12 0 12 1 12 3 12 8 12 11 12 17 12 34 12 42 12 42 12 48 12 50 12 42 12 39 12 35 12 7 11-43 12-73 12-78 12-85 12-98 12-97 12-83 12-69 12-60 12-42 12-28 12-23 12-12 12 7 12 33 12 48 12 80 12 129 12 105 12 90 12 70 12 13 12-41 12-47 12-29 12-23 12-14 12 11 12 46 12 50 12 66 12 62 12 8 12-111 12-162 12-138 12-136 12-76 12-48 12-19 12 55 12 101 12 138 12 161 12 51 12-137 11-180 12-121 12-75 12-40 12-19 12 150 12 288 12 55 12-75 12-79 12-31 12-20 12-9 12 40 12 79 12 62 12 64 12 45 12-3 12-59 12-74 12-67 12-73 12-68 12-49 12-25 12-19 12-13 12-4 12 52 12 101 12 102 12 109 12 114 12 58 12 2 12-2 12-3 12-16 12-23 12-13 12 22 12 49 12 43 12 44 12 20 12-22 11-46 12-50 12-59 12-58 12-44 12-42 12-36 12-27 12-18 12-16 12-13 12-7 12 5 12 42 12 57 12 70 12 71 12 15 12-5 12-5 12-3 12 3 12 5 12 16 12 40 12 22 12 0 12-5 12-18 12-97 12-115 12-98 12-98 12-100 12-105 12-97 12-80 12-69 12-54 12-34 12-26 12-13 12 4 12 24 12 35 12 37 11 44 12 58 12 94 12 85 12 62 12 53 12 45 12 39 12 35 12 30 12 27 12 25 12 23 12 22 12 19 12 18 12 17 12 16 12 15 12 13 12 12 12 10 12 8 12 7" stroke="#A2142F"/>
<path d="M3120 3628l12-2 12-2 12-1 12-1 12-1 12 0 12 0 12 1 12 1 12 1 12 4 12 8 12 11 12 18 12 34 12 43 12 42 12 49 12 50 12 44 12 39 12 35 12 5 11-44 12-74 12-78 12-86 12-99 12-99 12-83 12-70 12-61 12-43 12-28 12-23 12-13 12 7 12 33 12 50 12 82 12 131 12 106 12 90 12 70 12 13 12-39 12-47 12-29 12-23 12-15 12 12 12 46 12 50 12 66 12 61 12 8 12-112 12-163 12-140 12-138 12-76 12-49 12-19 12 56 12 102 12 138 12 163 12 50 12-139 11-183 12-123 12-77 12-41 12-19 12 151 12 293 12 57 12-75 12-79 12-29 12-20 12-8 12 40 12 80 12 62 12 64 12 44 12-3 12-60 12-76 12-67 12-75 12-70 12-49 12-24 12-18 12-12 12-2 12 55 12 103 12 104 12 109 12 115 12 57 12 3 12-3 12-3 12-16 12-24 12-14 12 22 12 49 12 41 12 44 12 19 12-22 11-46 12-49 12-60 12-59 12-45 12-43 12-36 12-28 12-18 12-16 12-12 12-7 12 6 12 43 12 58 12 72 12 73 12 15 12-3 12-5 12-2 12 3 12 6 12 16 12 39 12 22 12-1 12-6 12-19 12-99 12-119 12-101 12-102 12-102 12-107 12-99 12-81 12-70 12-54 12-33 12-27 12-13 12 4 12 26 12 40 12 42 11 50 12 64 12 102 12 93 12 69 12 59 12 50 12 45 12 39 12 35 12 30 12 28 12 25 12 23 12 19 12 17 12 16 12 14 12 12 12 11 12 9 12 9 12 7 12 6" stroke="#4DBEEE"/>
<path d="M3120 3621l12-2 12-2 12-1 12-1 12 0 12 0 12 0 12 1 12 2 12 2 12 4 12 8 12 12 12 18 12 34 12 43 12 43 12 49 12 51 12 44 12 39 12 35 12 4 11-45 12-74 12-78 12-86 12-100 12-99 12-83 12-70 12-61 12-43 12-28 12-24 12-12 12 6 12 33 12 50 12 81 12 132 12 107 12 90 12 69 12 14 12-38 12-47 12-29 12-24 12-14 12 11 12 47 12 50 12 66 12 61 12 7 12-113 12-165 12-141 12-140 12-77 12-49 12-19 12 56 12 104 12 140 12 164 12 51 12-139 11-184 12-122 12-76 12-41 12-19 12 152 12 294 12 57 12-76 12-79 12-30 12-19 12-9 12 40 12 80 12 62 12 64 12 44 12-4 12-60 12-76 12-68 12-77 12-71 12-50 12-25 12-18 12-13 12-2 12 55 12 105 12 105 12 111 12 115 12 58 12 3 12-1 12-2 12-16 12-23 12-14 12 22 12 49 12 42 12 43 12 19 12-21 11-46 12-49 12-60 12-59 12-46 12-42 12-37 12-28 12-19 12-16 12-13 12-8 12 4 12 44 12 57 12 71 12 73 12 15 12-3 12-3 12-1 12 3 12 6 12 17 12 41 12 22 12-1 12-7 12-19 12-100 12-119 12-102 12-103 12-103 12-107 12-100 12-81 12-69 12-53 12-33 12-26 12-13 12 5 12 28 12 42 12 43 11 51 12 67 12 105 12 96 12 71 12 59 12 51 12 45 12 40 12 34 12 31 12 28 12 26 12 24 12 20 12 19 12 17 12 16 12 14 12 12 12 11 12 10 12 8 12 6" stroke="#77AC30"/>
<path d="M3120 3618l12-1 12-2 12 0 12-1 12 0 12 0 12 0 12 1 12 1 12 1 12 4 12 7 12 11 12 18 12 34 12 43 12 43 12 50 12 52 12 45 12 40 12 34 12 3 11-45 12-75 12-77 12-87 12-101 12-100 12-85 12-70 12-62 12-43 12-29 12-24 12-12 12 7 12 35 12 50 12 84 12 133 12 107 12 91 12 70 12 14 12-38 12-47 12-29 12-24 12-15 12 11 12 46 12 50 12 65 12 60 12 7 12-114 12-166 12-143 12-142 12-77 12-49 12-18 12 57 12 106 12 141 12 164 12 52 12-141 11-185 12-124 12-77 12-41 12-20 12 154 12 296 12 58 12-75 12-78 12-29 12-19 12-8 12 40 12 80 12 62 12 64 12 44 12-4 12-61 12-77 12-70 12-78 12-72 12-52 12-25 12-19 12-12 12-2 12 56 12 106 12 107 12 112 12 116 12 58 12 4 12 0 12-2 12-16 12-23 12-14 12 22 12 49 12 42 12 43 12 19 12-21 11-45 12-49 12-60 12-59 12-46 12-43 12-38 12-28 12-20 12-17 12-13 12-9 12 4 12 43 12 57 12 71 12 73 12 16 12-2 12-3 12 0 12 4 12 7 12 17 12 41 12 22 12-1 12-7 12-19 12-101 12-121 12-103 12-102 12-103 12-107 12-99 12-80 12-69 12-53 12-32 12-26 12-14 12 4 12 28 12 43 12 44 11 53 12 68 12 110 12 98 12 74 12 61 12 53 12 47 12 41 12 36 12 32 12 30 12 27 12 24 12 21 12 19 12 18 12 16 12 14 12 12 12 11 12 10 12 9 12 7" stroke="#7E2F8E"/>
<path d="M3120 3597l12-2 12-1 12-2 12 0 12-1 12 1 12 0 12 1 12 1 12 2 12 4 12 8 12 12 12 20 12 36 12 46 12 46 12 52 12 54 12 46 12 42 12 33 12 1 11-48 12-75 12-79 12-89 12-103 12-104 12-88 12-73 12-65 12-45 12-30 12-25 12-13 12 8 12 35 12 53 12 86 12 139 12 109 12 92 12 69 12 13 12-34 12-45 12-30 12-24 12-14 12 11 12 47 12 51 12 66 12 58 12 6 12-115 12-168 12-147 12-146 12-79 12-50 12-19 12 59 12 107 12 143 12 168 12 52 12-144 11-190 12-127 12-80 12-42 12-20 12 155 12 304 12 59 12-76 12-80 12-30 12-19 12-8 12 41 12 82 12 64 12 66 12 45 12-4 12-62 12-76 12-71 12-79 12-75 12-53 12-25 12-18 12-13 12-2 12 58 12 108 12 109 12 113 12 117 12 59 12 5 12 3 12 0 12-15 12-24 12-14 12 22 12 49 12 41 12 42 12 19 12-21 11-45 12-49 12-62 12-62 12-48 12-44 12-39 12-30 12-19 12-17 12-14 12-8 12 5 12 44 12 58 12 73 12 74 12 16 12 0 12-1 12 1 12 5 12 8 12 19 12 42 12 22 12-2 12-8 12-21 12-106 12-125 12-107 12-107 12-106 12-109 12-102 12-83 12-70 12-53 12-32 12-26 12-16 12 3 12 34 12 52 12 53 11 63 12 80 12 127 12 114 12 84 12 72 12 61 12 54 12 48 12 41 12 37 12 35 12 31 12 27 12 24 12 21 12 20 12 17 12 15 12 13 12 11 12 10 12 9 12 7" stroke="#EDB120"/>
<path d="M3120 3592l12-2 12-1 12-1 12-1 12 0 12 1 12 0 12 1 12 2 12 1 12 5 12 8 12 12 12 20 12 37 12 46 12 46 12 52 12 55 12 46 12 42 12 33 12 1 11-49 12-75 12-79 12-89 12-104 12-104 12-88 12-74 12-65 12-45 12-31 12-24 12-13 12 7 12 35 12 53 12 87 12 139 12 109 12 92 12 69 12 13 12-33 12-45 12-30 12-23 12-15 12 11 12 48 12 51 12 66 12 58 12 6 12-116 12-169 12-148 12-147 12-79 12-51 12-19 12 59 12 108 12 144 12 169 12 52 12-145 11-191 12-127 12-79 12-42 12-21 12 156 12 305 12 60 12-76 12-80 12-30 12-20 12-8 12 41 12 83 12 64 12 65 12 45 12-4 12-62 12-77 12-70 12-81 12-75 12-53 12-25 12-19 12-12 12-3 12 58 12 109 12 109 12 114 12 118 12 59 12 6 12 3 12 0 12-15 12-23 12-14 12 22 12 49 12 41 12 42 12 18 12-21 11-44 12-49 12-62 12-62 12-48 12-45 12-39 12-30 12-20 12-17 12-14 12-8 12 5 12 44 12 58 12 73 12 74 12 16 12 0 12 0 12 1 12 6 12 8 12 19 12 43 12 22 12-3 12-8 12-21 12-107 12-127 12-108 12-107 12-107 12-110 12-102 12-83 12-70 12-53 12-32 12-26 12-16 12 4 12 35 12 53 12 55 11 65 12 82 12 130 12 117 12 87 12 73 12 63 12 55 12 49 12 42 12 38 12 35 12 31 12 29 12 24 12 22 12 19 12 18 12 16 12 13 12 12 12 10 12 9 12 8" stroke="#D95319"/>
<path d="M3120 3590l12-2 12-1 12-1 12-1 12 0 12 0 12 1 12 1 12 1 12 2 12 4 12 9 12 12 12 19 12 38 12 46 12 46 12 53 12 55 12 47 12 42 12 33 12 0 11-49 12-76 12-78 12-90 12-104 12-104 12-89 12-74 12-66 12-45 12-30 12-25 12-13 12 7 12 36 12 52 12 88 12 139 12 110 12 92 12 69 12 13 12-33 12-45 12-29 12-24 12-15 12 12 12 47 12 51 12 67 12 57 12 6 12-116 12-170 12-148 12-147 12-80 12-51 12-19 12 59 12 109 12 144 12 169 12 53 12-146 11-191 12-127 12-80 12-42 12-21 12 156 12 306 12 60 12-76 12-80 12-30 12-20 12-8 12 41 12 83 12 64 12 65 12 45 12-3 12-62 12-77 12-71 12-81 12-75 12-54 12-25 12-19 12-12 12-3 12 59 12 109 12 110 12 114 12 118 12 59 12 6 12 3 12 1 12-15 12-24 12-14 12 23 12 48 12 42 12 42 12 18 12-21 11-45 12-48 12-63 12-62 12-48 12-45 12-40 12-30 12-19 12-18 12-13 12-9 12 5 12 44 12 58 12 73 12 75 12 16 12 0 12 0 12 2 12 5 12 9 12 19 12 43 12 22 12-3 12-9 12-21 12-107 12-128 12-108 12-108 12-107 12-110 12-103 12-83 12-70 12-53 12-32 12-26 12-15 12 3 12 36 12 54 12 56 11 66 12 84 12 132 12 119 12 87 12 75 12 63 12 57 12 49 12 43 12 38 12 36 12 32 12 28 12 25 12 22 12 21 12 18 12 16 12 13 12 12 12 11 12 9 12 7" stroke="#0072BD"/>
</g>
<rect x="312.0" y="251.5" width="222.80" height="168.90" fill="none" stroke="#767676" stroke-width="1.1"/>
<line x1="312.00" y1="420.4" x2="312.00" y2="418.2" stroke="#767676" stroke-width="0.8"/>
<line x1="312.00" y1="251.5" x2="312.00" y2="253.7" stroke="#767676" stroke-width="0.8"/>
<text transform="translate(312.00,433.60) scale(0.982,1)" text-anchor="middle" font-size="9.5">0</text>
<line x1="367.70" y1="420.4" x2="367.70" y2="418.2" stroke="#767676" stroke-width="0.8"/>
<line x1="367.70" y1="251.5" x2="367.70" y2="253.7" stroke="#767676" stroke-width="0.8"/>
<text transform="translate(367.70,433.60) scale(0.982,1)" text-anchor="middle" font-size="9.5">500</text>
<line x1="423.40" y1="420.4" x2="423.40" y2="418.2" stroke="#767676" stroke-width="0.8"/>
<line x1="423.40" y1="251.5" x2="423.40" y2="253.7" stroke="#767676" stroke-width="0.8"/>
<text transform="translate(423.40,433.60) scale(0.982,1)" text-anchor="middle" font-size="9.5">1000</text>
<line x1="479.10" y1="420.4" x2="479.10" y2="418.2" stroke="#767676" stroke-width="0.8"/>
<line x1="479.10" y1="251.5" x2="479.10" y2="253.7" stroke="#767676" stroke-width="0.8"/>
<text transform="translate(479.10,433.60) scale(0.982,1)" text-anchor="middle" font-size="9.5">1500</text>
<line x1="534.80" y1="420.4" x2="534.80" y2="418.2" stroke="#767676" stroke-width="0.8"/>
<line x1="534.80" y1="251.5" x2="534.80" y2="253.7" stroke="#767676" stroke-width="0.8"/>
<text transform="translate(534.80,433.60) scale(0.982,1)" text-anchor="middle" font-size="9.5">2000</text>
<line x1="312.0" y1="420.40" x2="314.2" y2="420.40" stroke="#767676" stroke-width="0.8"/>
<line x1="534.8" y1="420.40" x2="532.5999999999999" y2="420.40" stroke="#767676" stroke-width="0.8"/>
<text transform="translate(308.40,423.40) scale(0.982,1)" text-anchor="end" font-size="9.5">0</text>
<line x1="312.0" y1="392.25" x2="314.2" y2="392.25" stroke="#767676" stroke-width="0.8"/>
<line x1="534.8" y1="392.25" x2="532.5999999999999" y2="392.25" stroke="#767676" stroke-width="0.8"/>
<text transform="translate(308.40,395.25) scale(0.982,1)" text-anchor="end" font-size="9.5">100</text>
<line x1="312.0" y1="364.10" x2="314.2" y2="364.10" stroke="#767676" stroke-width="0.8"/>
<line x1="534.8" y1="364.10" x2="532.5999999999999" y2="364.10" stroke="#767676" stroke-width="0.8"/>
<text transform="translate(308.40,367.10) scale(0.982,1)" text-anchor="end" font-size="9.5">200</text>
<line x1="312.0" y1="335.95" x2="314.2" y2="335.95" stroke="#767676" stroke-width="0.8"/>
<line x1="534.8" y1="335.95" x2="532.5999999999999" y2="335.95" stroke="#767676" stroke-width="0.8"/>
<text transform="translate(308.40,338.95) scale(0.982,1)" text-anchor="end" font-size="9.5">300</text>
<line x1="312.0" y1="307.80" x2="314.2" y2="307.80" stroke="#767676" stroke-width="0.8"/>
<line x1="534.8" y1="307.80" x2="532.5999999999999" y2="307.80" stroke="#767676" stroke-width="0.8"/>
<text transform="translate(308.40,310.80) scale(0.982,1)" text-anchor="end" font-size="9.5">400</text>
<line x1="312.0" y1="279.65" x2="314.2" y2="279.65" stroke="#767676" stroke-width="0.8"/>
<line x1="534.8" y1="279.65" x2="532.5999999999999" y2="279.65" stroke="#767676" stroke-width="0.8"/>
<text transform="translate(308.40,282.65) scale(0.982,1)" text-anchor="end" font-size="9.5">500</text>
<line x1="312.0" y1="251.50" x2="314.2" y2="251.50" stroke="#767676" stroke-width="0.8"/>
<line x1="534.8" y1="251.50" x2="532.5999999999999" y2="251.50" stroke="#767676" stroke-width="0.8"/>
<text transform="translate(308.40,254.50) scale(0.982,1)" text-anchor="end" font-size="9.5">600</text>
<text transform="translate(423.80,246.05) scale(1.03,1)" text-anchor="middle" font-size="10.2">Trajectory CSI between RP4 and RP1</text>
<text transform="translate(423.40,447.80) scale(1.025,1)" text-anchor="middle" font-size="10.2">Samples (time series)</text>
<text transform="translate(287.40,335.95) rotate(-90) scale(1.035,1)" x="0" y="0" text-anchor="middle" font-size="10.2">CSI Amplitude</text>
</g>
</svg>
</body></html>
